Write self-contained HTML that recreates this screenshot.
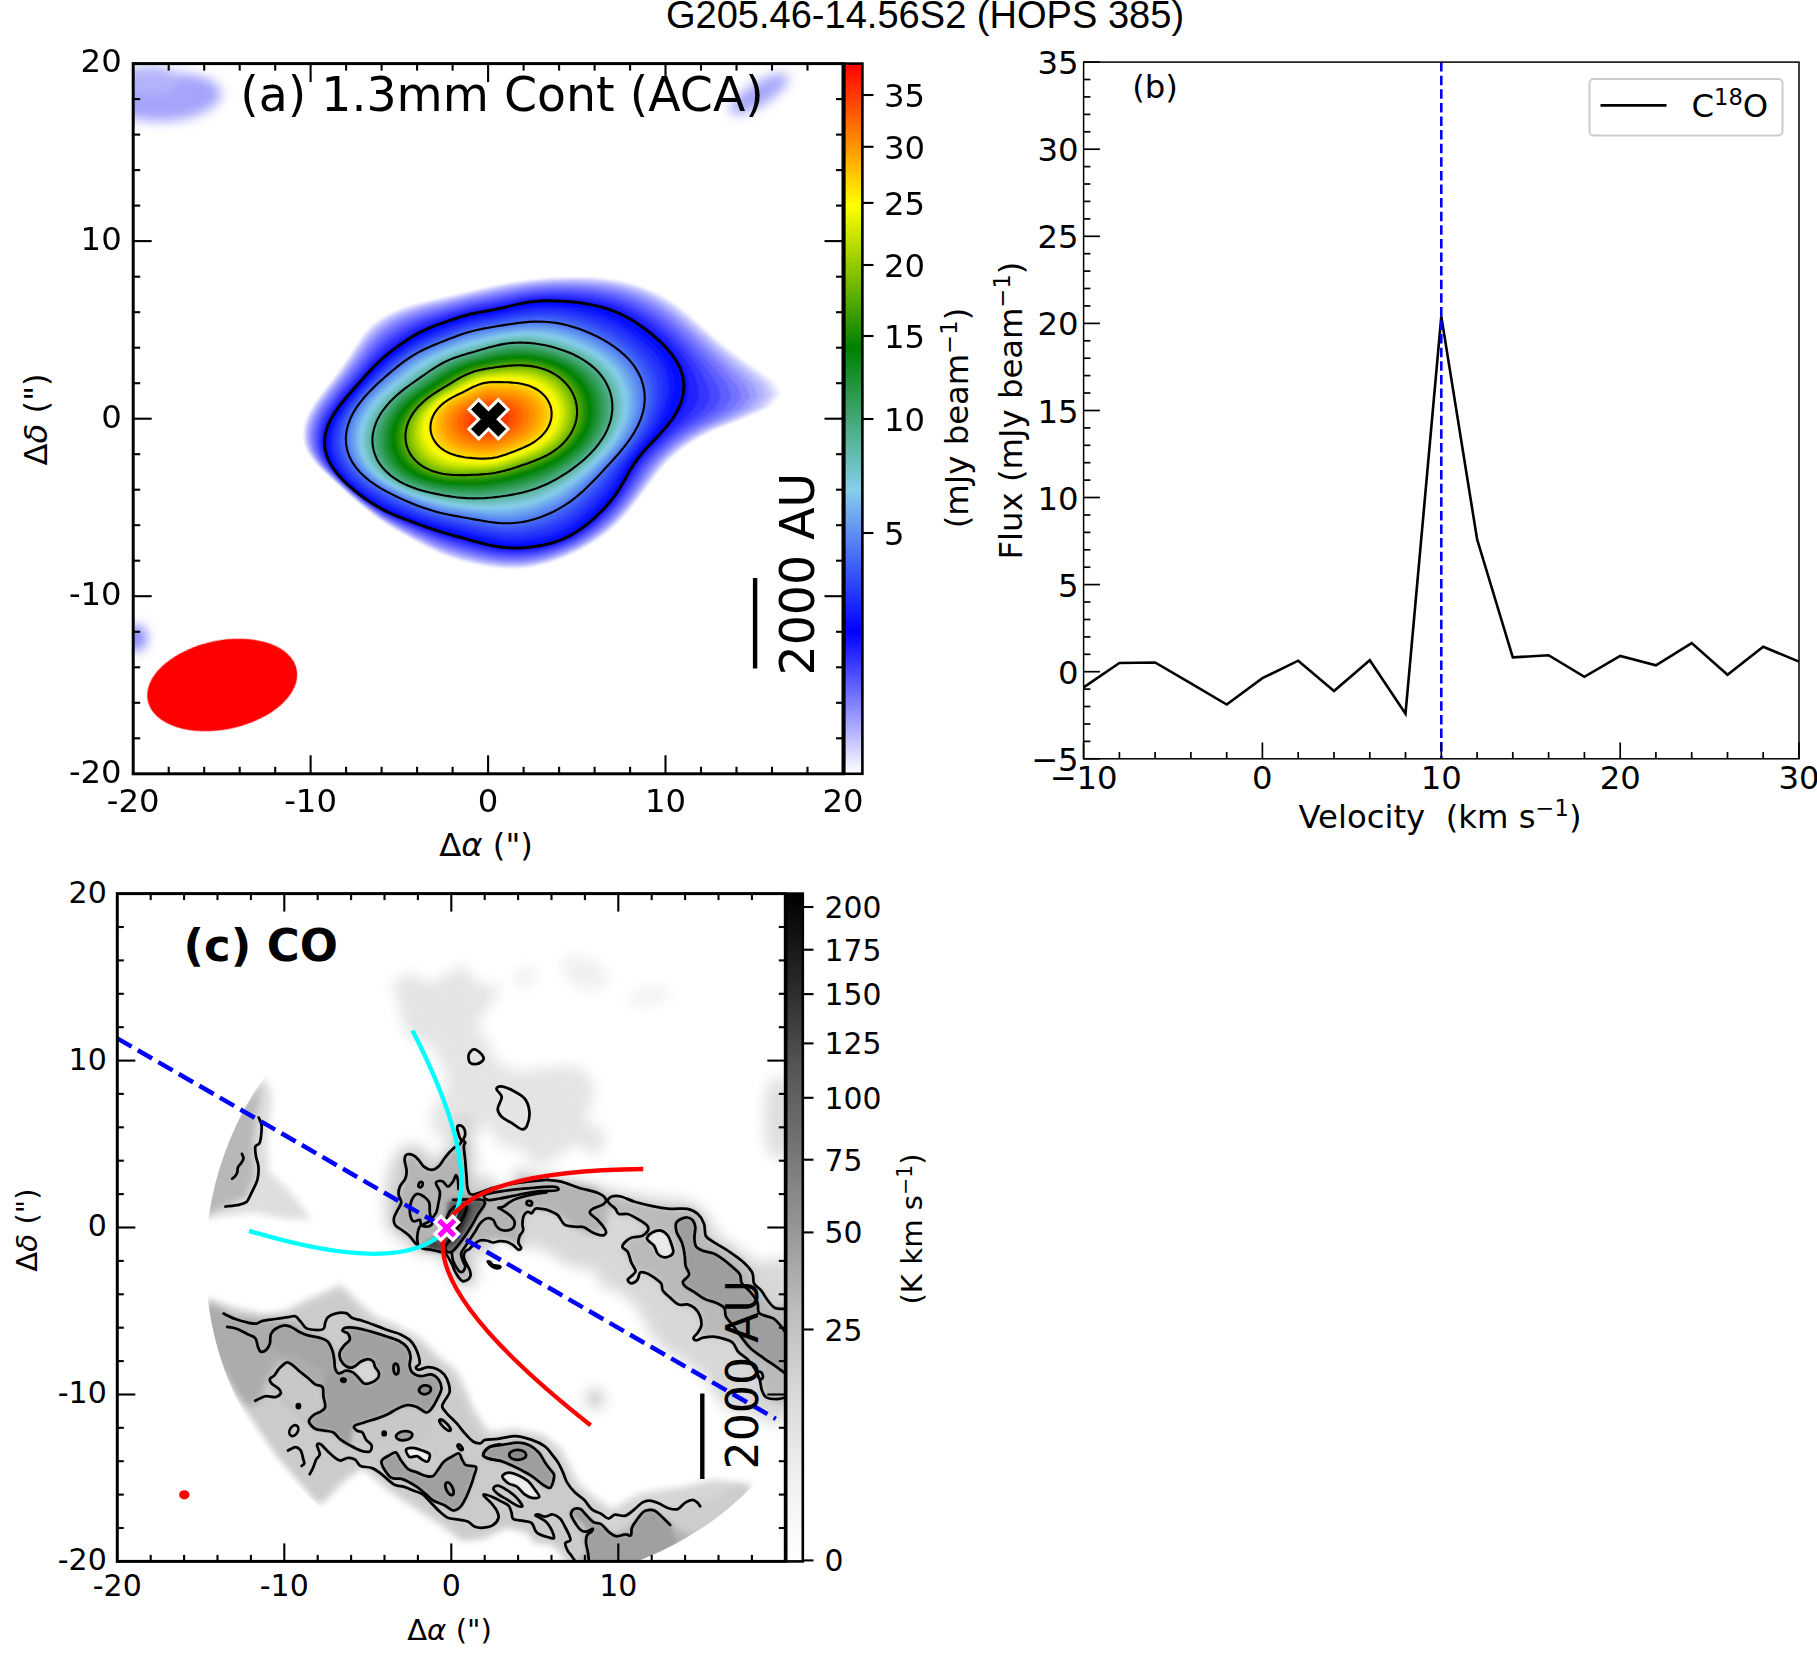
<!DOCTYPE html>
<html lang="en"><head><meta charset="utf-8"><title>G205.46-14.56S2 (HOPS 385)</title>
<style>html,body{margin:0;padding:0;background:#fff}svg{display:block}text{fill:#000}</style></head>
<body><svg width="1817" height="1653" viewBox="0 0 1817 1653">
<rect width="1817" height="1653" fill="#fff"/>
<text x="925" y="28.3" font-size="38.05" text-anchor="middle" font-family="'Liberation Sans', 'DejaVu Sans', sans-serif" >G205.46-14.56S2 (HOPS 385)</text>
<g id="panel_a"><g id="blobA" filter="url(#bla)">
<defs><filter id="bla" x="-5%" y="-5%" width="110%" height="110%"><feGaussianBlur stdDeviation="1.2"/></filter></defs>
<defs><filter id="blb" x="-30%" y="-30%" width="160%" height="160%"><feGaussianBlur stdDeviation="6"/></filter><clipPath id="clipA"><rect x="133.2" y="63.6" width="709.8" height="709.4"/></clipPath></defs>
<path d="M306.1 419.2L309.7 411.4L314.1 403.9L319 396.9L324.1 390.2L329.1 383.9L333.8 377.7L338.2 371.8L342.4 366L346.3 360.3L350 354.6L353.5 348.9L357.1 343.3L360.8 337.8L364.8 332.6L369.2 327.7L374.1 323.2L379.5 319.3L385.1 315.8L391 312.8L397 310.2L403.1 307.8L409.1 305.8L415.1 304L421.1 302.4L427 301L432.8 299.6L438.5 298.4L444.1 297.1L449.6 295.9L455.1 294.6L460.6 293.3L466.1 292L471.6 290.7L477.1 289.4L482.8 288.1L488.5 286.8L494.3 285.6L500.3 284.4L506.4 283.2L512.7 282.2L519.1 281.2L525.7 280.2L532.6 279.4L539.6 278.7L546.9 278.1L554.5 277.6L562.4 277.3L570.5 277.1L579 277.1L587.9 277.3L597 277.8L606.4 278.7L616 280.1L625.7 282L635.4 284.6L645 287.8L654.5 291.9L663.6 296.6L672.3 302.1L680.8 308.2L689 314.8L697.2 321.9L705.5 329.3L714.2 337.1L723.7 345L734.3 353.3L746.4 362L759.9 371.3L773.8 381.6L781.1 393.6L770.1 406.9L742.5 419.2L716.2 429.1L699 437.6L687 445.3L677.5 452.5L669.7 459.4L663.3 466.1L658 472.6L653.1 479.1L648.4 485.4L643.8 491.6L639.2 497.7L634.7 503.6L630 509.4L625.3 515L620.3 520.3L615.1 525.4L609.7 530.2L604 534.7L598.2 538.9L592.2 542.8L586.1 546.4L579.9 549.8L573.7 552.9L567.3 555.7L561 558.4L554.5 560.8L548 562.9L541.5 564.8L534.9 566.3L528.2 567.4L521.5 568.1L514.8 568.4L508.1 568.4L501.5 568.1L495 567.5L488.5 566.6L482.1 565.5L475.8 564.3L469.6 562.9L463.4 561.3L457.4 559.6L451.4 557.7L445.5 555.5L439.7 553.2L434.1 550.6L428.5 547.9L423 545L417.5 542.1L412.1 539.1L406.6 536.1L401.2 533L395.7 529.8L390.3 526.4L384.8 522.9L379.5 519.1L374.2 515.1L368.9 511L363.6 506.7L358.3 502.2L352.9 497.5L347.4 492.6L341.8 487.6L336 482.4L330 476.9L323.7 471.1L317.5 465L311.8 458.4L307.3 451.2L304.3 443.4L303.2 435.4L303.9 427.3Z" fill="#f0f0ff"/>
<path d="M307.2 419.2L310.7 411.4L315.1 404L320.1 397L325.1 390.4L330.1 384.1L334.8 378L339.2 372.1L343.4 366.4L347.3 360.7L351 355.1L354.6 349.5L358.2 344L361.9 338.6L365.9 333.4L370.3 328.5L375.2 324.1L380.5 320.2L386.1 316.8L391.9 313.8L397.8 311.2L403.8 308.8L409.8 306.8L415.8 305L421.6 303.4L427.5 302L433.2 300.6L438.9 299.3L444.4 298.1L449.9 296.8L455.4 295.5L460.8 294.2L466.2 292.9L471.7 291.6L477.2 290.3L482.8 289L488.5 287.8L494.3 286.6L500.2 285.4L506.3 284.3L512.5 283.2L518.9 282.2L525.5 281.2L532.3 280.4L539.3 279.7L546.5 279.1L554.1 278.6L561.9 278.3L570 278.1L578.4 278.1L587.2 278.3L596.2 278.8L605.5 279.7L615 281.1L624.7 283L634.3 285.6L643.8 288.9L653.2 292.9L662.2 297.6L670.9 303L679.3 309.1L687.4 315.6L695.5 322.7L703.7 330L712.4 337.7L721.7 345.7L732 353.9L743.7 362.6L756.7 371.9L770 382.1L776.9 394L766.2 407.1L739.5 419.2L714.1 429L697.4 437.5L685.6 445.1L676.2 452.3L668.6 459.1L662.3 465.8L656.9 472.3L652.1 478.7L647.5 485.1L642.9 491.2L638.4 497.2L633.9 503.1L629.3 508.9L624.6 514.5L619.6 519.8L614.5 524.9L609.1 529.7L603.5 534.2L597.7 538.3L591.7 542.2L585.7 545.8L579.5 549.2L573.3 552.3L567 555.1L560.6 557.7L554.2 560.1L547.7 562.2L541.2 564L534.6 565.5L528 566.5L521.3 567.2L514.7 567.5L508 567.5L501.4 567.2L494.9 566.6L488.5 565.7L482.2 564.6L475.9 563.3L469.7 561.9L463.6 560.4L457.6 558.7L451.6 556.8L445.8 554.7L440 552.4L434.4 549.8L428.8 547.2L423.3 544.4L417.9 541.5L412.5 538.5L407 535.6L401.6 532.5L396.1 529.3L390.6 526L385.2 522.5L379.8 518.8L374.5 514.9L369.2 510.8L363.9 506.5L358.5 502L353.2 497.3L347.7 492.5L342 487.5L336.3 482.3L330.3 476.8L324.1 471L318 464.9L312.5 458.2L308 451L305.2 443.3L304.1 435.3L304.9 427.2Z" fill="#dbdbff"/>
<path d="M308.4 419.2L312 411.5L316.4 404.1L321.3 397.2L326.4 390.6L331.3 384.4L336 378.3L340.4 372.5L344.6 366.8L348.5 361.2L352.3 355.7L355.9 350.2L359.5 344.7L363.2 339.4L367.3 334.3L371.7 329.6L376.5 325.2L381.7 321.4L387.3 318L393 315L398.8 312.4L404.7 310L410.6 308L416.5 306.2L422.3 304.6L428.1 303.1L433.7 301.8L439.3 300.5L444.8 299.2L450.3 297.9L455.7 296.7L461 295.4L466.4 294.1L471.9 292.8L477.3 291.5L482.9 290.2L488.5 289L494.2 287.8L500.1 286.6L506.1 285.5L512.3 284.4L518.6 283.4L525.1 282.4L531.9 281.6L538.9 280.8L546.1 280.2L553.5 279.8L561.2 279.5L569.3 279.3L577.6 279.3L586.3 279.5L595.3 280.1L604.5 281L613.9 282.4L623.4 284.3L632.9 286.9L642.4 290.1L651.6 294L660.5 298.7L669.1 304.1L677.4 310.1L685.5 316.6L693.6 323.6L701.7 330.9L710.2 338.5L719.3 346.4L729.3 354.7L740.5 363.3L752.9 372.6L765.4 382.7L771.9 394.4L761.5 407.3L735.9 419.2L711.6 428.9L695.4 437.3L683.9 444.9L674.7 452L667.2 458.8L660.9 465.4L655.7 471.9L650.9 478.3L646.4 484.6L641.9 490.7L637.5 496.7L633 502.6L628.4 508.3L623.7 513.9L618.8 519.2L613.7 524.3L608.3 529L602.8 533.5L597 537.6L591.1 541.5L585.1 545.1L579 548.5L572.8 551.5L566.5 554.4L560.2 556.9L553.8 559.3L547.4 561.3L540.9 563.1L534.3 564.5L527.7 565.5L521.1 566.2L514.5 566.5L507.9 566.5L501.4 566.1L494.9 565.5L488.5 564.6L482.2 563.5L476 562.2L469.9 560.8L463.8 559.3L457.8 557.6L451.9 555.7L446.1 553.7L440.4 551.4L434.8 548.9L429.2 546.3L423.8 543.5L418.3 540.7L412.9 537.8L407.5 534.9L402 531.9L396.5 528.8L391.1 525.5L385.6 522.1L380.2 518.4L374.9 514.6L369.5 510.5L364.2 506.2L358.9 501.8L353.5 497.2L348 492.4L342.4 487.3L336.6 482.1L330.7 476.6L324.6 470.9L318.6 464.7L313.2 458.1L308.9 450.9L306.2 443.2L305.3 435.2L306.1 427.2Z" fill="#c6c6ff"/>
<path d="M310 419.2L313.6 411.6L318 404.3L322.9 397.4L327.9 390.9L332.8 384.7L337.5 378.7L341.9 373L346.1 367.4L350 361.8L353.8 356.4L357.4 351L361.1 345.6L364.9 340.4L368.9 335.5L373.3 330.8L378.1 326.6L383.3 322.8L388.7 319.4L394.3 316.4L400.1 313.8L405.9 311.5L411.7 309.5L417.4 307.7L423.2 306L428.8 304.6L434.4 303.2L439.9 301.9L445.3 300.6L450.7 299.3L456 298L461.3 296.7L466.7 295.4L472 294.2L477.5 292.9L482.9 291.7L488.5 290.5L494.2 289.3L500 288.2L505.9 287L512 285.9L518.3 284.9L524.8 283.9L531.4 283L538.3 282.3L545.5 281.7L552.8 281.2L560.5 280.9L568.4 280.8L576.7 280.8L585.2 281.1L594.1 281.6L603.2 282.5L612.5 283.9L621.8 285.9L631.2 288.4L640.6 291.6L649.7 295.5L658.5 300.2L667 305.5L675.2 311.4L683.2 317.8L691.1 324.7L699.2 331.9L707.5 339.5L716.3 347.4L725.9 355.6L736.5 364.2L748.2 373.4L759.8 383.5L765.7 395L755.7 407.5L731.6 419.2L708.4 428.8L692.9 437.1L681.8 444.6L672.8 451.7L665.4 458.4L659.3 465L654.1 471.4L649.5 477.8L645 484L640.6 490.1L636.3 496.1L631.9 502L627.4 507.7L622.7 513.2L617.8 518.5L612.8 523.5L607.5 528.2L601.9 532.6L596.3 536.8L590.4 540.7L584.5 544.3L578.4 547.6L572.2 550.6L566 553.4L559.7 556L553.3 558.2L546.9 560.2L540.5 561.9L533.9 563.3L527.4 564.3L520.8 565L514.3 565.2L507.7 565.2L501.2 564.8L494.8 564.1L488.5 563.2L482.3 562.1L476.1 560.8L470 559.4L464 557.9L458.1 556.2L452.3 554.4L446.5 552.4L440.8 550.2L435.2 547.8L429.7 545.2L424.3 542.5L418.9 539.8L413.5 537L408 534.1L402.6 531.2L397.1 528.1L391.6 524.9L386.1 521.6L380.7 518L375.3 514.2L370 510.1L364.6 505.9L359.3 501.5L353.8 496.9L348.3 492.2L342.7 487.2L337 482L331.1 476.5L325.2 470.7L319.4 464.5L314.1 457.9L310 450.7L307.5 443L306.6 435.1L307.5 427.1Z" fill="#b2b2ff"/>
<path d="M311.8 419.2L315.4 411.6L319.8 404.4L324.7 397.6L329.7 391.2L334.6 385.1L339.3 379.2L343.7 373.5L347.8 368L351.8 362.6L355.6 357.2L359.3 351.9L363 346.7L366.8 341.7L370.9 336.8L375.2 332.3L380 328.2L385.1 324.4L390.4 321.1L395.9 318.2L401.5 315.6L407.2 313.3L412.9 311.2L418.5 309.4L424.2 307.8L429.7 306.3L435.2 304.9L440.6 303.6L445.9 302.3L451.2 301L456.5 299.7L461.7 298.4L467 297.1L472.3 295.8L477.6 294.6L483 293.4L488.5 292.2L494.1 291.1L499.8 289.9L505.7 288.8L511.7 287.7L517.9 286.6L524.3 285.6L530.9 284.7L537.7 284L544.8 283.4L552 282.9L559.6 282.6L567.4 282.5L575.5 282.6L584 282.9L592.7 283.4L601.6 284.4L610.8 285.8L620 287.7L629.3 290.2L638.5 293.4L647.4 297.3L656.1 301.8L664.5 307.1L672.6 312.9L680.5 319.3L688.3 326L696.2 333.2L704.3 340.7L712.8 348.5L721.9 356.7L731.9 365.2L742.6 374.4L753.2 384.4L758.3 395.6L748.9 407.8L726.4 419.2L704.8 428.6L690.1 436.8L679.3 444.3L670.6 451.3L663.4 458L657.4 464.5L652.4 470.9L647.8 477.2L643.4 483.4L639.1 489.4L634.9 495.4L630.5 501.2L626.1 506.9L621.5 512.3L616.7 517.6L611.7 522.5L606.4 527.2L601 531.7L595.3 535.8L589.6 539.7L583.7 543.2L577.7 546.6L571.6 549.6L565.4 552.3L559.1 554.8L552.8 557L546.4 559L540 560.6L533.5 561.9L527 562.9L520.5 563.5L514 563.7L507.5 563.7L501.1 563.3L494.8 562.6L488.5 561.6L482.3 560.5L476.3 559.2L470.3 557.8L464.3 556.3L458.5 554.6L452.7 552.8L447 550.9L441.4 548.7L435.8 546.4L430.3 543.9L424.9 541.3L419.5 538.7L414.1 535.9L408.7 533.2L403.2 530.3L397.7 527.4L392.2 524.2L386.8 520.9L381.3 517.4L375.9 513.7L370.5 509.8L365.1 505.6L359.7 501.2L354.3 496.7L348.8 491.9L343.2 487L337.5 481.7L331.7 476.3L325.9 470.5L320.2 464.3L315.2 457.6L311.3 450.4L308.9 442.8L308.3 435L309.3 427Z" fill="#9d9dff"/>
<path d="M313.8 419.2L317.4 411.7L321.9 404.6L326.7 397.9L331.7 391.6L336.6 385.5L341.2 379.7L345.6 374.1L349.8 368.7L353.7 363.4L357.5 358.1L361.3 353L365 347.9L368.9 343L373 338.3L377.4 333.9L382.1 329.9L387.1 326.3L392.3 323L397.7 320.1L403.2 317.5L408.7 315.2L414.2 313.1L419.8 311.3L425.2 309.6L430.7 308.1L436.1 306.7L441.4 305.4L446.6 304.1L451.8 302.8L456.9 301.4L462.1 300.1L467.3 298.9L472.5 297.7L477.8 296.5L483.1 295.3L488.5 294.2L494 293L499.6 291.9L505.4 290.8L511.3 289.7L517.5 288.6L523.8 287.5L530.3 286.6L537 285.8L544 285.2L551.2 284.8L558.6 284.5L566.3 284.4L574.3 284.5L582.6 284.9L591.1 285.4L599.9 286.4L608.9 287.8L618 289.7L627.1 292.2L636.1 295.3L644.9 299.2L653.5 303.7L661.7 308.9L669.7 314.6L677.5 320.8L685.2 327.5L692.9 334.5L700.7 342L708.9 349.7L717.5 357.8L726.7 366.4L736.5 375.5L745.9 385.3L750.3 396.3L741.4 408.2L720.7 419.2L700.7 428.5L686.9 436.6L676.6 444L668.2 450.9L661.2 457.5L655.3 463.9L650.4 470.2L645.9 476.5L641.7 482.6L637.5 488.7L633.3 494.6L629.1 500.4L624.7 506L620.1 511.4L615.4 516.6L610.4 521.5L605.2 526.2L599.9 530.6L594.3 534.7L588.6 538.6L582.8 542.1L576.9 545.4L570.8 548.4L564.7 551.1L558.4 553.5L552.1 555.7L545.8 557.6L539.4 559.1L533 560.4L526.6 561.3L520.1 561.9L513.7 562.1L507.3 562L501 561.6L494.7 560.8L488.5 559.9L482.4 558.7L476.4 557.4L470.5 556L464.6 554.5L458.9 552.9L453.2 551.1L447.5 549.2L441.9 547.2L436.4 544.9L431 542.5L425.6 540L420.2 537.5L414.8 534.8L409.4 532.1L404 529.4L398.5 526.5L392.9 523.5L387.4 520.3L381.9 516.8L376.5 513.2L371.1 509.3L365.6 505.2L360.2 500.9L354.8 496.4L349.3 491.7L343.7 486.7L338 481.5L332.3 476L326.6 470.2L321.2 464L316.4 457.4L312.7 450.2L310.6 442.6L310.1 434.8L311.2 426.9Z" fill="#8888ff"/>
<path d="M315.9 419.2L319.6 411.8L324.1 404.8L328.9 398.2L333.9 391.9L338.7 386L343.3 380.3L347.7 374.8L351.9 369.5L355.8 364.3L359.7 359.1L363.5 354.1L367.3 349.2L371.2 344.5L375.3 339.9L379.7 335.7L384.3 331.8L389.2 328.2L394.3 325L399.6 322.2L404.9 319.6L410.3 317.3L415.7 315.2L421.1 313.4L426.4 311.7L431.7 310.2L437 308.7L442.2 307.4L447.3 306L452.4 304.7L457.5 303.4L462.5 302.1L467.6 300.8L472.8 299.6L477.9 298.5L483.2 297.4L488.5 296.3L493.9 295.2L499.4 294.1L505.1 292.9L511 291.8L517 290.7L523.2 289.6L529.7 288.7L536.3 287.9L543.2 287.3L550.2 286.8L557.5 286.6L565.1 286.5L572.9 286.7L581.1 287L589.5 287.6L598.1 288.6L606.9 290L615.8 291.9L624.8 294.3L633.6 297.5L642.2 301.2L650.6 305.7L658.7 310.8L666.6 316.4L674.2 322.5L681.8 329.1L689.3 336L696.9 343.3L704.7 351L712.8 359.1L721.2 367.6L729.8 376.6L737.9 386.4L741.5 397.1L733.3 408.5L714.6 419.2L696.3 428.3L683.4 436.3L673.7 443.6L665.6 450.4L658.8 456.9L653.1 463.3L648.2 469.6L643.9 475.7L639.8 481.9L635.7 487.8L631.6 493.7L627.5 499.4L623.2 505L618.7 510.4L614 515.5L609.1 520.4L604 525L598.7 529.4L593.2 533.5L587.6 537.3L581.9 540.9L576 544.2L570 547.1L563.9 549.8L557.7 552.2L551.5 554.3L545.2 556.1L538.9 557.6L532.5 558.7L526.1 559.6L519.7 560.1L513.4 560.3L507.1 560.2L500.8 559.7L494.6 559L488.5 558L482.5 556.8L476.6 555.5L470.7 554.1L465 552.6L459.3 551L453.6 549.3L448.1 547.4L442.6 545.4L437.1 543.3L431.7 541L426.3 538.6L421 536.1L415.6 533.6L410.2 531L404.8 528.3L399.2 525.6L393.7 522.6L388.2 519.5L382.6 516.2L377.1 512.6L371.7 508.8L366.2 504.8L360.8 500.6L355.3 496.1L349.8 491.4L344.2 486.5L338.6 481.3L333 475.8L327.5 470L322.2 463.8L317.7 457.1L314.3 449.9L312.3 442.4L312 434.6L313.3 426.9Z" fill="#7373ff"/>
<path d="M318.4 419.2L322.2 411.9L326.6 405L331.4 398.5L336.4 392.4L341.2 386.5L345.8 381L350.1 375.6L354.3 370.3L358.3 365.3L362.2 360.3L366 355.4L369.9 350.7L373.8 346.2L378 341.8L382.3 337.7L386.9 334L391.7 330.5L396.7 327.4L401.7 324.5L406.9 322L412.1 319.7L417.3 317.6L422.6 315.7L427.8 314L433 312.5L438.1 311.1L443.1 309.7L448.1 308.3L453.1 306.9L458.1 305.6L463 304.3L468 303.1L473.1 301.9L478.1 300.8L483.3 299.7L488.5 298.7L493.8 297.6L499.2 296.5L504.8 295.4L510.5 294.2L516.5 293.1L522.6 292L528.9 291L535.5 290.2L542.2 289.6L549.1 289.2L556.3 289L563.7 288.9L571.4 289.1L579.3 289.5L587.5 290.1L596 291.1L604.6 292.5L613.3 294.4L622 296.8L630.7 299.9L639.1 303.6L647.3 308L655.2 313L662.9 318.5L670.5 324.5L677.9 330.9L685.2 337.7L692.5 344.9L699.9 352.6L707.3 360.6L714.7 369L722.2 378L728.8 387.6L731.4 397.9L723.9 408.9L707.5 419.2L691.3 428.1L679.5 435.9L670.3 443.1L662.5 449.9L656 456.3L650.5 462.6L645.7 468.8L641.5 474.9L637.6 480.9L633.6 486.9L629.7 492.7L625.6 498.4L621.4 503.9L617 509.2L612.4 514.3L607.6 519.1L602.5 523.7L597.3 528L592 532.1L586.5 536L580.8 539.5L575 542.7L569.1 545.7L563 548.3L556.9 550.6L550.7 552.6L544.5 554.3L538.2 555.7L531.9 556.8L525.6 557.6L519.3 558.1L513 558.3L506.8 558.1L500.6 557.6L494.5 556.8L488.5 555.8L482.6 554.6L476.8 553.3L471 551.8L465.4 550.3L459.8 548.8L454.2 547.1L448.7 545.4L443.3 543.5L437.9 541.4L432.5 539.3L427.2 537L421.9 534.6L416.5 532.2L411.1 529.7L405.7 527.2L400.1 524.5L394.6 521.7L389 518.7L383.4 515.5L377.9 512L372.4 508.3L366.9 504.4L361.4 500.2L355.9 495.8L350.4 491.1L344.8 486.2L339.3 481L333.8 475.5L328.4 469.7L323.4 463.4L319.2 456.7L316 449.6L314.4 442.1L314.3 434.4L315.7 426.7Z" fill="#5f5fff"/>
<path d="M321.1 419.2L324.9 412.1L329.3 405.3L334.2 398.9L339 392.8L343.8 387.1L348.4 381.7L352.7 376.4L356.9 371.3L360.9 366.3L364.8 361.5L368.7 356.8L372.6 352.3L376.7 348L380.8 343.8L385.2 339.9L389.7 336.3L394.4 333L399.2 329.9L404.1 327.1L409.1 324.5L414.1 322.2L419.1 320.1L424.2 318.3L429.2 316.6L434.3 315L439.2 313.5L444.1 312.1L449 310.7L453.9 309.3L458.7 308L463.6 306.7L468.4 305.5L473.4 304.4L478.4 303.3L483.4 302.3L488.5 301.3L493.7 300.2L499 299.2L504.5 298L510.1 296.8L515.9 295.7L521.9 294.5L528.1 293.5L534.5 292.7L541.2 292.1L548 291.7L555 291.5L562.2 291.5L569.7 291.7L577.5 292.1L585.5 292.8L593.7 293.8L602.1 295.2L610.6 297.1L619.1 299.5L627.6 302.5L635.8 306.2L643.8 310.5L651.5 315.3L659.1 320.7L666.4 326.6L673.7 332.8L680.8 339.5L687.8 346.7L694.7 354.2L701.4 362.2L707.9 370.6L714 379.4L719.1 388.8L720.6 398.9L713.9 409.4L699.9 419.2L685.9 427.8L675.2 435.5L666.7 442.7L659.3 449.3L653 455.7L647.7 461.8L643.1 467.9L639 474L635.2 480L631.4 485.9L627.6 491.6L623.7 497.3L619.6 502.7L615.2 507.9L610.7 512.9L605.9 517.7L601 522.3L595.9 526.6L590.6 530.7L585.2 534.5L579.7 538L573.9 541.2L568.1 544.1L562.1 546.7L556 548.9L549.9 550.8L543.7 552.4L537.5 553.8L531.3 554.8L525 555.5L518.8 555.9L512.6 556L506.5 555.8L500.4 555.3L494.4 554.5L488.5 553.4L482.7 552.2L477 550.9L471.4 549.4L465.8 548L460.3 546.4L454.8 544.8L449.4 543.2L444 541.4L438.7 539.4L433.4 537.4L428.1 535.2L422.8 533L417.5 530.7L412.1 528.3L406.6 525.9L401.1 523.3L395.5 520.7L389.9 517.8L384.3 514.7L378.7 511.3L373.1 507.7L367.6 503.9L362.1 499.7L356.6 495.4L351 490.8L345.5 485.9L340 480.7L334.6 475.2L329.4 469.4L324.7 463.1L320.7 456.4L317.9 449.3L316.6 441.8L316.7 434.2L318.2 426.6Z" fill="#4a4aff"/>
<path d="M323.7 419.2L327.6 412.2L332.1 405.5L336.9 399.2L341.7 393.3L346.5 387.7L351 382.4L355.3 377.2L359.5 372.2L363.5 367.4L367.4 362.8L371.4 358.2L375.4 353.9L379.5 349.8L383.7 345.8L388 342.1L392.5 338.6L397.1 335.4L401.7 332.4L406.4 329.6L411.2 327.1L416.1 324.8L420.9 322.7L425.8 320.8L430.7 319.1L435.6 317.5L440.4 316L445.2 314.6L449.9 313.1L454.6 311.8L459.3 310.4L464.1 309.1L468.9 307.9L473.7 306.8L478.6 305.8L483.5 304.8L488.5 303.9L493.6 302.9L498.8 301.8L504.1 300.7L509.6 299.5L515.3 298.3L521.2 297.1L527.3 296.1L533.6 295.2L540.1 294.6L546.8 294.2L553.7 294L560.7 294.1L568 294.3L575.6 294.8L583.4 295.5L591.5 296.5L599.7 297.9L607.9 299.8L616.2 302.2L624.4 305.1L632.4 308.7L640.2 312.9L647.8 317.7L655.2 323L662.4 328.7L669.5 334.8L676.4 341.4L683.1 348.4L689.5 355.8L695.5 363.7L701 372.1L705.7 380.9L709.3 390.1L709.7 399.8L703.8 409.8L692.2 419.2L680.5 427.6L671 435.2L663 442.2L656 448.7L650 455L644.8 461.1L640.4 467.1L636.5 473.1L632.8 479L629.2 484.8L625.6 490.6L621.7 496.1L617.7 501.5L613.4 506.7L608.9 511.6L604.3 516.3L599.4 520.8L594.4 525.1L589.3 529.2L584 533L578.5 536.5L572.9 539.7L567.1 542.5L561.2 545L555.1 547.2L549 549L542.9 550.6L536.8 551.8L530.6 552.8L524.5 553.4L518.3 553.8L512.2 553.8L506.2 553.6L500.2 553L494.3 552.2L488.5 551.1L482.8 549.8L477.2 548.5L471.7 547L466.2 545.6L460.8 544.1L455.5 542.5L450.1 540.9L444.8 539.2L439.5 537.4L434.3 535.5L429 533.5L423.8 531.3L418.4 529.2L413.1 526.9L407.6 524.6L402.1 522.2L396.5 519.6L390.8 516.9L385.2 513.9L379.5 510.7L373.9 507.1L368.3 503.4L362.8 499.3L357.2 495L351.7 490.4L346.2 485.6L340.7 480.4L335.4 474.9L330.4 469L326 462.8L322.3 456L319.8 448.9L318.7 441.5L319.1 434L320.8 426.5Z" fill="#3535ff"/>
<path d="M326.5 419.2L330.4 412.3L334.9 405.8L339.7 399.6L344.5 393.8L349.2 388.3L353.7 383.1L358 378.1L362.2 373.2L366.2 368.5L370.2 364.1L374.3 359.7L378.4 355.6L382.5 351.7L386.8 348L391.1 344.5L395.5 341.2L399.9 338L404.4 335.1L408.9 332.4L413.5 329.8L418.1 327.5L422.8 325.4L427.5 323.5L432.2 321.8L436.9 320.1L441.6 318.6L446.2 317.1L450.8 315.7L455.4 314.2L460 312.9L464.6 311.6L469.3 310.4L474 309.3L478.8 308.4L483.6 307.4L488.5 306.5L493.5 305.6L498.5 304.5L503.7 303.4L509.1 302.2L514.7 300.9L520.5 299.7L526.5 298.6L532.7 297.7L539.1 297.1L545.6 296.7L552.3 296.6L559.2 296.7L566.4 297L573.7 297.5L581.3 298.2L589.2 299.2L597.2 300.6L605.2 302.5L613.3 304.8L621.3 307.8L629.1 311.3L636.7 315.4L644.1 320.1L651.3 325.2L658.3 330.8L665.2 336.8L671.9 343.2L678.3 350.1L684.2 357.5L689.4 365.4L693.7 373.7L696.9 382.5L698.5 391.5L697.7 400.9L692.6 410.3L683.9 419.2L674.7 427.3L666.5 434.8L659.2 441.7L652.6 448.1L646.9 454.3L642 460.3L637.7 466.2L634 472.1L630.5 478L627.1 483.8L623.5 489.5L619.8 495L615.9 500.4L611.7 505.5L607.3 510.4L602.7 515L597.9 519.5L593 523.7L588 527.8L582.8 531.6L577.4 535.1L571.9 538.3L566.1 541.1L560.3 543.5L554.3 545.6L548.3 547.3L542.2 548.8L536.1 549.9L530 550.8L523.9 551.4L517.9 551.7L511.9 551.7L505.9 551.4L500 550.8L494.2 549.9L488.5 548.8L482.9 547.5L477.4 546.1L472 544.6L466.6 543.2L461.3 541.7L456.1 540.2L450.8 538.7L445.6 537.1L440.4 535.4L435.1 533.6L429.9 531.7L424.7 529.7L419.4 527.7L414 525.6L408.6 523.4L403 521.1L397.4 518.7L391.7 516L386 513.2L380.3 510L374.6 506.6L369 502.9L363.4 498.9L357.8 494.7L352.3 490.1L346.7 485.3L341.3 480.2L336.2 474.6L331.3 468.7L327.2 462.4L323.8 455.7L321.7 448.6L320.9 441.3L321.5 433.8L323.4 426.4Z" fill="#2121ff"/>
<path d="M329.2 419.2L333.2 412.4L337.7 406L342.5 400L347.3 394.3L352 388.9L356.5 383.8L360.7 378.9L364.9 374.2L368.9 369.7L373 365.3L377.1 361.2L381.3 357.3L385.5 353.6L389.8 350.1L394.1 346.8L398.4 343.6L402.7 340.6L407 337.7L411.4 335L415.8 332.5L420.2 330.2L424.7 328.1L429.2 326.2L433.8 324.4L438.3 322.8L442.8 321.2L447.3 319.7L451.7 318.2L456.2 316.7L460.7 315.4L465.2 314.1L469.8 312.9L474.4 311.9L479 310.9L483.7 310.1L488.5 309.2L493.3 308.3L498.3 307.3L503.4 306.1L508.7 304.9L514.1 303.6L519.8 302.3L525.7 301.2L531.8 300.3L538 299.7L544.4 299.3L551 299.2L557.7 299.3L564.6 299.7L571.8 300.2L579.2 301L586.8 302L594.6 303.4L602.4 305.3L610.3 307.6L618 310.5L625.6 314L633 318L640.2 322.5L647.3 327.5L654.2 333L660.9 338.8L667.4 345.1L673.4 351.9L678.8 359.2L683.3 367L686.5 375.3L688.2 384L688.2 392.9L686.2 401.9L682 410.8L675.9 419.2L669 427.1L662.1 434.4L655.4 441.2L649.3 447.5L643.8 453.6L639 459.5L635 465.4L631.4 471.2L628 477L624.8 482.7L621.4 488.4L617.8 493.9L614 499.1L609.9 504.2L605.5 509L601 513.6L596.4 518L591.6 522.3L586.6 526.3L581.5 530.1L576.2 533.5L570.8 536.7L565.1 539.5L559.3 541.9L553.4 543.9L547.4 545.5L541.4 546.9L535.3 547.9L529.3 548.7L523.3 549.2L517.4 549.5L511.5 549.4L505.6 549.1L499.8 548.4L494.1 547.5L488.5 546.4L483 545L477.6 543.6L472.3 542.2L467.1 540.7L461.9 539.3L456.7 537.9L451.5 536.4L446.4 534.9L441.2 533.4L436.1 531.7L430.9 529.9L425.7 528L420.4 526.1L415 524.1L409.6 522.1L404 519.9L398.3 517.6L392.6 515.1L386.8 512.4L381.1 509.3L375.4 506L369.7 502.4L364.1 498.5L358.5 494.3L352.9 489.8L347.4 485L342.1 479.9L337 474.3L332.4 468.4L328.5 462.1L325.5 455.3L323.7 448.3L323.1 441L324 433.6L326.1 426.3Z" fill="#0c0cff"/>
<path d="M331.9 419.2L335.9 412.5L340.4 406.2L345.1 400.3L349.8 394.7L354.4 389.5L358.9 384.5L363.1 379.7L367.3 375.1L371.4 370.7L375.4 366.5L379.6 362.5L383.8 358.7L388 355.2L392.3 351.8L396.5 348.6L400.8 345.6L405 342.7L409.2 339.9L413.4 337.3L417.7 334.8L422 332.6L426.4 330.5L430.7 328.5L435.1 326.8L439.5 325.2L443.9 323.6L448.3 322.1L452.6 320.6L456.9 319.1L461.3 317.7L465.7 316.5L470.2 315.3L474.7 314.3L479.2 313.4L483.8 312.6L488.5 311.8L493.2 310.9L498.1 309.9L503 308.8L508.2 307.5L513.5 306.2L519.1 305L524.9 303.9L530.8 303L536.9 302.3L543.2 302L549.6 301.9L556.1 302.1L562.9 302.4L569.9 303L577 303.8L584.4 304.9L592 306.3L599.6 308.1L607.2 310.4L614.7 313.3L622.1 316.7L629.3 320.6L636.3 325L643.2 329.9L649.9 335.2L656.5 340.9L662.7 347L668.5 353.7L673.6 360.9L677.5 368.6L680.1 376.7L681.1 385.2L680.4 393.9L678.1 402.6L674.5 411.1L669.7 419.2L664.2 426.9L658.1 434L651.9 440.7L646.1 447L640.9 453L636.3 458.8L632.3 464.5L628.7 470.2L625.5 475.9L622.3 481.6L619 487.1L615.5 492.5L611.7 497.7L607.7 502.7L603.4 507.4L599 511.9L594.4 516.3L589.7 520.4L584.9 524.4L579.9 528.1L574.7 531.6L569.4 534.7L563.8 537.4L558.1 539.8L552.3 541.7L546.4 543.3L540.4 544.5L534.5 545.5L528.5 546.2L522.7 546.7L516.8 546.9L511 546.8L505.3 546.5L499.6 545.8L494 544.9L488.5 543.7L483.1 542.4L477.8 541L472.7 539.5L467.5 538.1L462.4 536.8L457.4 535.4L452.3 534L447.2 532.7L442.1 531.2L437 529.6L431.9 528L426.7 526.2L421.5 524.4L416.2 522.5L410.7 520.6L405.2 518.5L399.5 516.3L393.8 513.9L388 511.3L382.2 508.4L376.4 505.2L370.7 501.7L365 497.9L359.4 493.7L353.9 489.3L348.4 484.5L343.1 479.4L338.2 473.9L333.8 468L330.1 461.6L327.4 454.9L325.9 447.9L325.6 440.6L326.6 433.4L328.7 426.2Z" fill="#0507fe"/>
<path d="M334.6 419.2L338.4 412.6L342.8 406.5L347.4 400.6L352 395.1L356.6 390L361.1 385.1L365.3 380.4L369.5 375.9L373.6 371.6L377.7 367.5L381.8 363.6L386 360L390.2 356.6L394.4 353.3L398.6 350.2L402.8 347.3L407 344.5L411.1 341.8L415.3 339.3L419.4 336.9L423.7 334.7L427.9 332.7L432.2 330.8L436.5 329.1L440.7 327.4L445 325.9L449.2 324.3L453.4 322.9L457.7 321.4L461.9 320L466.2 318.8L470.6 317.6L475 316.7L479.5 315.8L483.9 315L488.5 314.2L493.1 313.3L497.8 312.4L502.7 311.3L507.7 310.1L512.9 308.9L518.4 307.7L524 306.6L529.8 305.8L535.7 305.1L541.9 304.8L548.1 304.7L554.5 304.9L561.1 305.3L567.8 305.9L574.8 306.7L582 307.8L589.2 309.3L596.6 311.1L603.9 313.4L611.2 316.2L618.4 319.6L625.4 323.4L632.2 327.6L638.9 332.4L645.5 337.5L651.9 343L657.9 349L663.4 355.5L668.2 362.6L671.8 370.1L674.1 378.1L674.8 386.4L673.9 394.8L671.7 403.2L668.5 411.3L664.5 419.2L659.8 426.7L654.3 433.7L648.6 440.3L643.1 446.5L638.1 452.4L633.5 458.1L629.6 463.7L626 469.3L622.7 474.8L619.5 480.3L616.2 485.7L612.7 490.9L609 496L605 500.8L600.8 505.4L596.5 509.8L592 514.1L587.4 518.1L582.7 522L577.8 525.7L572.8 529L567.5 532.1L562.1 534.7L556.5 537L550.8 538.9L545 540.4L539.2 541.6L533.4 542.6L527.6 543.3L521.9 543.7L516.1 543.9L510.5 543.8L504.9 543.5L499.3 542.8L493.9 541.9L488.5 540.8L483.2 539.5L478.1 538.1L473 536.7L468 535.4L463 534.1L458.1 532.8L453.1 531.5L448.1 530.2L443.1 528.9L438 527.4L433 525.9L427.9 524.2L422.7 522.5L417.4 520.7L412.1 518.8L406.6 516.8L401 514.7L395.3 512.4L389.5 509.9L383.8 507.1L378 504L372.3 500.6L366.6 496.8L361 492.8L355.4 488.5L350 483.8L344.8 478.7L339.9 473.3L335.7 467.4L332.3 461.1L329.8 454.4L328.4 447.4L328.3 440.3L329.3 433.1L331.5 426.1Z" fill="#1018fd"/>
<path d="M337.2 419.2L340.9 412.8L345.1 406.7L349.6 400.9L354.1 395.5L358.7 390.4L363.1 385.6L367.4 381L371.5 376.6L375.6 372.4L379.7 368.5L383.8 364.7L388 361.2L392.1 357.8L396.3 354.7L400.5 351.7L404.6 348.8L408.7 346.1L412.8 343.5L416.9 341.1L421.1 338.8L425.2 336.7L429.4 334.7L433.5 332.9L437.7 331.2L441.9 329.6L446 328.1L450.1 326.6L454.2 325.1L458.4 323.7L462.5 322.3L466.7 321.1L471 319.9L475.3 319L479.7 318.1L484.1 317.3L488.5 316.6L493 315.7L497.6 314.9L502.4 313.8L507.3 312.8L512.4 311.6L517.6 310.5L523.1 309.5L528.7 308.6L534.5 308L540.5 307.7L546.6 307.6L552.8 307.8L559.2 308.2L565.8 308.8L572.5 309.7L579.4 310.9L586.4 312.3L593.5 314.2L600.6 316.5L607.6 319.3L614.5 322.5L621.3 326.2L628 330.3L634.5 334.9L640.9 339.9L647.1 345.2L652.9 351.1L658.2 357.4L662.7 364.3L666.1 371.6L668.2 379.4L668.8 387.4L668 395.6L666 403.7L663.2 411.6L659.8 419.2L655.7 426.5L650.7 433.4L645.4 439.9L640.2 446L635.3 451.8L630.9 457.4L626.9 462.8L623.2 468.2L619.8 473.6L616.5 478.9L613.2 484.1L609.7 489.2L605.9 494L602 498.7L597.9 503.1L593.6 507.4L589.2 511.5L584.7 515.4L580.1 519.2L575.3 522.7L570.4 525.9L565.3 528.9L560 531.5L554.6 533.7L549.1 535.5L543.5 537.1L537.8 538.3L532.2 539.2L526.6 539.9L521 540.4L515.4 540.6L509.9 540.5L504.4 540.2L499 539.6L493.7 538.7L488.5 537.6L483.4 536.4L478.4 535.1L473.4 533.8L468.5 532.5L463.6 531.3L458.8 530.1L453.9 528.9L449 527.7L444.1 526.4L439.1 525.1L434.1 523.6L429.1 522.1L424 520.4L418.8 518.7L413.6 516.9L408.2 514.9L402.7 512.8L397.1 510.6L391.4 508.1L385.7 505.4L380 502.4L374.3 499.1L368.7 495.5L363.1 491.6L357.5 487.4L352.1 482.8L347 477.8L342.2 472.4L338.1 466.6L334.8 460.4L332.5 453.8L331.2 446.9L331.1 439.9L332.1 432.9L334.2 425.9Z" fill="#1b29fb"/>
<path d="M339.7 419.2L343.3 412.9L347.3 406.8L351.7 401.2L356.1 395.9L360.6 390.8L365 386.1L369.3 381.6L373.5 377.3L377.6 373.3L381.7 369.4L385.8 365.7L389.9 362.3L394 359L398.1 355.9L402.2 353L406.3 350.2L410.4 347.6L414.4 345.1L418.5 342.8L422.6 340.6L426.7 338.6L430.8 336.7L434.9 335L438.9 333.3L443 331.8L447 330.2L451 328.7L455 327.3L459.1 325.9L463.1 324.5L467.2 323.3L471.4 322.2L475.6 321.3L479.9 320.4L484.2 319.6L488.5 318.9L492.9 318.1L497.4 317.3L502 316.3L506.8 315.3L511.8 314.3L516.9 313.3L522.2 312.3L527.7 311.5L533.3 311L539.1 310.6L545.1 310.6L551.1 310.7L557.3 311.1L563.7 311.8L570.2 312.7L576.8 313.9L583.6 315.5L590.3 317.4L597.1 319.7L603.9 322.4L610.6 325.5L617.2 329.1L623.7 333.1L630.1 337.5L636.3 342.3L642.3 347.5L647.9 353.2L653 359.3L657.3 366L660.5 373.1L662.5 380.6L663.2 388.4L662.6 396.3L660.9 404.1L658.5 411.8L655.5 419.2L651.8 426.3L647.3 433.1L642.4 439.5L637.4 445.5L632.7 451.2L628.3 456.7L624.2 462L620.4 467.2L616.9 472.4L613.4 477.5L610 482.4L606.4 487.3L602.7 491.9L598.8 496.4L594.7 500.7L590.5 504.8L586.2 508.7L581.8 512.5L577.3 516.1L572.6 519.4L567.8 522.6L562.8 525.4L557.7 527.9L552.5 530L547.1 531.9L541.7 533.4L536.3 534.6L530.9 535.6L525.4 536.3L520 536.8L514.6 537L509.3 537L504 536.7L498.7 536.1L493.6 535.3L488.5 534.3L483.5 533.2L478.6 532L473.8 530.8L469 529.6L464.3 528.5L459.5 527.4L454.7 526.3L449.9 525.1L445.1 524L440.2 522.7L435.3 521.3L430.4 519.9L425.4 518.3L420.3 516.6L415.1 514.8L409.9 512.9L404.5 510.8L399.1 508.6L393.6 506.2L388 503.6L382.3 500.7L376.7 497.5L371.1 494L365.5 490.2L360 486.1L354.6 481.6L349.5 476.8L344.9 471.5L340.9 465.7L337.7 459.6L335.4 453.1L334.2 446.4L334 439.5L335 432.6L336.9 425.8Z" fill="#2639f9"/>
<path d="M342.3 419.2L345.7 413L349.5 407L353.7 401.5L358.1 396.2L362.5 391.3L366.9 386.6L371.2 382.2L375.4 378L379.5 374.1L383.6 370.3L387.7 366.7L391.7 363.3L395.8 360.1L399.8 357.1L403.9 354.3L407.9 351.6L411.9 349L416 346.7L420 344.5L424.1 342.4L428.1 340.5L432.1 338.7L436.1 337L440.1 335.4L444.1 333.8L448 332.3L451.9 330.9L455.8 329.4L459.8 328.1L463.7 326.7L467.7 325.5L471.8 324.5L475.9 323.5L480.1 322.7L484.3 321.9L488.5 321.1L492.8 320.4L497.2 319.6L501.7 318.8L506.4 317.9L511.2 316.9L516.1 316L521.3 315.2L526.6 314.4L532.1 313.9L537.8 313.6L543.5 313.5L549.4 313.6L555.5 314.1L561.6 314.8L567.9 315.7L574.3 317L580.7 318.5L587.2 320.5L593.8 322.8L600.3 325.4L606.7 328.5L613.2 331.9L619.5 335.8L625.7 340L631.8 344.6L637.5 349.7L643 355.2L647.8 361.2L651.9 367.7L655.1 374.6L657.2 381.8L658 389.3L657.7 396.9L656.3 404.5L654.2 412L651.5 419.2L648.1 426.2L643.9 432.8L639.4 439.1L634.7 445L630.1 450.6L625.7 456L621.6 461.2L617.7 466.2L613.9 471.2L610.3 476L606.7 480.7L603.1 485.3L599.3 489.8L595.4 494.1L591.4 498.2L587.3 502.1L583.1 505.9L578.8 509.5L574.3 512.9L569.8 516.1L565.1 519L560.3 521.7L555.3 524.1L550.3 526.2L545.2 528L540 529.6L534.7 530.8L529.5 531.9L524.3 532.6L519 533.1L513.8 533.4L508.6 533.4L503.5 533.1L498.4 532.6L493.4 531.9L488.5 531L483.7 530L478.9 528.9L474.2 527.8L469.5 526.7L464.9 525.7L460.2 524.6L455.6 523.6L450.9 522.6L446.1 521.5L441.3 520.3L436.5 519L431.7 517.6L426.8 516.1L421.8 514.5L416.8 512.7L411.6 510.8L406.4 508.7L401.1 506.6L395.8 504.2L390.3 501.6L384.8 498.8L379.2 495.7L373.6 492.4L368 488.7L362.6 484.8L357.3 480.4L352.3 475.6L347.8 470.4L343.9 464.8L340.7 458.8L338.5 452.5L337.3 445.9L337 439.1L337.9 432.4L339.7 425.7Z" fill="#304af8"/>
<path d="M344.9 419.2L348.1 413.1L351.8 407.2L355.8 401.7L360.1 396.6L364.5 391.7L368.8 387.1L373.1 382.8L377.3 378.7L381.5 374.9L385.5 371.2L389.6 367.7L393.6 364.4L397.5 361.2L401.5 358.3L405.5 355.5L409.5 352.9L413.5 350.5L417.5 348.2L421.5 346.1L425.5 344.1L429.5 342.3L433.4 340.5L437.4 338.9L441.3 337.4L445.1 335.9L448.9 334.4L452.8 332.9L456.6 331.5L460.4 330.2L464.3 328.9L468.2 327.7L472.2 326.7L476.2 325.7L480.2 324.9L484.3 324.1L488.5 323.4L492.7 322.7L497 321.9L501.4 321.2L505.9 320.3L510.6 319.5L515.4 318.7L520.4 317.9L525.6 317.3L530.9 316.7L536.4 316.4L542 316.3L547.8 316.5L553.7 316.9L559.6 317.6L565.7 318.6L571.8 319.9L578 321.5L584.2 323.5L590.5 325.7L596.8 328.3L603 331.3L609.3 334.6L615.4 338.3L621.5 342.4L627.4 346.9L633 351.8L638.2 357.2L642.9 363L646.9 369.3L650 375.9L652.1 382.9L653.1 390.2L653.1 397.5L652.1 404.9L650.3 412.1L647.8 419.2L644.5 426L640.7 432.5L636.4 438.7L632 444.5L627.5 450L623.2 455.3L619 460.3L614.9 465.2L611.1 470L607.3 474.6L603.6 479.1L599.8 483.5L596 487.7L592.2 491.8L588.2 495.7L584.2 499.5L580.1 503.1L575.8 506.5L571.4 509.7L567 512.7L562.4 515.5L557.7 518.1L552.9 520.4L548.1 522.4L543.2 524.2L538.2 525.8L533.2 527.1L528.1 528.1L523.1 528.9L518.1 529.5L513 529.8L508 529.8L503 529.6L498.1 529.2L493.3 528.5L488.5 527.7L483.8 526.8L479.2 525.9L474.6 524.9L470 523.9L465.5 522.9L461 522L456.4 521.1L451.8 520.1L447.1 519.1L442.4 518L437.7 516.8L432.9 515.4L428.1 514L423.3 512.4L418.4 510.6L413.4 508.7L408.3 506.7L403.2 504.5L397.9 502.2L392.6 499.7L387.2 497L381.7 494L376.1 490.8L370.6 487.3L365.2 483.4L360 479.1L355.1 474.5L350.7 469.4L346.8 463.9L343.8 458L341.6 451.8L340.3 445.3L340.1 438.7L340.8 432.1L342.4 425.6Z" fill="#3b5bf6"/>
<path d="M347.5 419.2L350.5 413.2L354.1 407.4L358 402L362.2 396.9L366.5 392.2L370.8 387.7L375.1 383.5L379.4 379.5L383.5 375.7L387.5 372.1L391.5 368.7L395.4 365.5L399.3 362.4L403.3 359.5L407.2 356.8L411.1 354.2L415 351.9L419 349.7L423 347.7L426.9 345.8L430.8 344L434.7 342.4L438.6 340.8L442.4 339.3L446.1 337.8L449.9 336.4L453.6 335L457.3 333.6L461.1 332.3L464.9 331.1L468.7 329.9L472.6 328.9L476.5 327.9L480.4 327.1L484.4 326.3L488.5 325.6L492.6 324.9L496.8 324.2L501.1 323.5L505.5 322.7L510.1 322L514.7 321.2L519.6 320.6L524.6 319.9L529.8 319.5L535.2 319.2L540.6 319.1L546.2 319.2L551.9 319.7L557.7 320.4L563.5 321.4L569.5 322.7L575.4 324.4L581.4 326.3L587.4 328.5L593.5 331.1L599.6 334L605.6 337.2L611.7 340.7L617.6 344.7L623.3 349L628.7 353.8L633.8 359L638.3 364.7L642.1 370.8L645.2 377.2L647.4 384L648.6 391L648.8 398.1L648.1 405.2L646.5 412.3L644.2 419.2L641.1 425.9L637.5 432.2L633.5 438.3L629.3 444L625 449.5L620.7 454.6L616.4 459.5L612.3 464.3L608.3 468.8L604.4 473.2L600.6 477.5L596.8 481.7L593 485.8L589.1 489.7L585.2 493.4L581.3 497L577.2 500.5L573 503.7L568.7 506.7L564.3 509.6L559.9 512.2L555.3 514.6L550.7 516.8L546 518.8L541.3 520.6L536.5 522.2L531.7 523.5L526.8 524.6L522 525.4L517.1 526L512.2 526.3L507.4 526.4L502.6 526.2L497.8 525.9L493.1 525.3L488.5 524.6L483.9 523.8L479.4 523L475 522.1L470.5 521.2L466.1 520.3L461.6 519.5L457.2 518.6L452.6 517.7L448.1 516.8L443.5 515.7L438.8 514.6L434.1 513.3L429.4 511.9L424.7 510.4L419.9 508.7L415 506.8L410 504.8L405 502.7L399.9 500.4L394.7 497.9L389.3 495.3L383.9 492.4L378.5 489.3L373 485.9L367.7 482.1L362.6 477.9L357.8 473.4L353.4 468.4L349.7 463L346.7 457.2L344.6 451.1L343.3 444.8L343 438.4L343.7 431.9L345.2 425.5Z" fill="#466bf5"/>
<path d="M350.2 419.2L353.1 413.3L356.5 407.7L360.3 402.3L364.4 397.3L368.7 392.6L373 388.2L377.3 384.1L381.5 380.2L385.6 376.6L389.6 373.1L393.6 369.8L397.4 366.6L401.3 363.6L405.1 360.8L408.9 358.2L412.8 355.7L416.7 353.4L420.6 351.3L424.5 349.3L428.3 347.5L432.2 345.8L436 344.2L439.8 342.7L443.5 341.2L447.2 339.8L450.8 338.4L454.4 337L458.1 335.7L461.8 334.4L465.4 333.2L469.2 332.1L473 331L476.8 330.1L480.6 329.2L484.5 328.5L488.5 327.7L492.5 327L496.6 326.4L500.8 325.7L505.1 325L509.5 324.3L514.1 323.6L518.8 323L523.7 322.4L528.8 322L534 321.7L539.3 321.6L544.7 321.8L550.3 322.2L555.9 323L561.6 324L567.3 325.3L573 327L578.8 328.9L584.7 331.1L590.6 333.6L596.5 336.3L602.4 339.5L608.3 342.9L614 346.7L619.6 351L624.9 355.6L629.8 360.7L634.1 366.2L637.9 372.1L640.9 378.4L643 384.9L644.3 391.7L644.7 398.6L644.1 405.6L642.7 412.5L640.6 419.2L637.8 425.7L634.4 432L630.7 437.9L626.6 443.6L622.4 448.9L618.2 454L614 458.8L609.8 463.3L605.7 467.8L601.8 472L597.9 476.1L594.1 480.1L590.3 484L586.4 487.8L582.6 491.4L578.6 494.8L574.6 498.1L570.5 501.2L566.3 504.1L562 506.8L557.6 509.3L553.2 511.6L548.7 513.7L544.2 515.7L539.6 517.4L535 518.9L530.3 520.2L525.7 521.3L521 522.1L516.2 522.7L511.5 523.1L506.8 523.2L502.2 523.1L497.6 522.8L493 522.3L488.5 521.7L484.1 521L479.7 520.3L475.3 519.5L471 518.7L466.6 517.9L462.3 517.1L457.9 516.3L453.4 515.5L449 514.6L444.4 513.7L439.9 512.6L435.3 511.4L430.6 510.1L425.9 508.6L421.2 506.9L416.4 505.1L411.6 503.2L406.6 501.1L401.6 498.8L396.4 496.4L391.2 493.9L385.8 491.1L380.5 488L375.1 484.7L369.9 481L364.8 476.9L360.1 472.4L355.9 467.4L352.3 462.1L349.4 456.5L347.4 450.5L346.2 444.3L345.9 438L346.5 431.6L348 425.3Z" fill="#517cf3"/>
<path d="M352.9 419.2L355.7 413.4L359.1 407.9L362.8 402.6L366.8 397.7L371 393.2L375.3 388.9L379.5 384.8L383.7 381.1L387.8 377.5L391.8 374.1L395.7 370.9L399.5 367.8L403.3 364.9L407.1 362.2L410.8 359.6L414.6 357.2L418.4 355L422.2 352.9L426 351L429.8 349.2L433.5 347.6L437.3 346L440.9 344.5L444.6 343.1L448.2 341.7L451.7 340.3L455.3 339L458.8 337.7L462.4 336.5L466 335.3L469.7 334.2L473.3 333.2L477.1 332.2L480.8 331.4L484.6 330.6L488.5 329.9L492.4 329.2L496.4 328.5L500.5 327.8L504.7 327.2L509 326.5L513.5 325.9L518.1 325.3L522.9 324.8L527.8 324.4L532.8 324.1L538 324.1L543.3 324.2L548.7 324.7L554.2 325.4L559.7 326.5L565.2 327.8L570.8 329.4L576.5 331.2L582.1 333.4L587.9 335.8L593.6 338.5L599.4 341.5L605.1 344.9L610.8 348.6L616.2 352.7L621.4 357.2L626.1 362.2L630.3 367.6L634 373.3L636.9 379.4L639 385.8L640.3 392.4L640.7 399.2L640.3 405.9L639.1 412.6L637.1 419.2L634.5 425.6L631.4 431.7L627.9 437.5L624 443.1L620 448.3L615.8 453.3L611.6 458L607.4 462.5L603.3 466.8L599.4 470.9L595.5 474.9L591.6 478.7L587.8 482.5L584 486.1L580.2 489.5L576.3 492.9L572.3 496L568.3 499L564.1 501.7L559.9 504.3L555.6 506.7L551.3 508.9L546.9 510.9L542.5 512.8L538.1 514.4L533.6 515.9L529.1 517.2L524.5 518.2L520 519.1L515.4 519.7L510.9 520.1L506.3 520.2L501.8 520.2L497.3 519.9L492.9 519.5L488.5 519L484.2 518.4L479.9 517.8L475.6 517.1L471.4 516.4L467.1 515.7L462.8 514.9L458.5 514.2L454.2 513.5L449.8 512.7L445.3 511.8L440.8 510.7L436.3 509.6L431.7 508.3L427.1 506.9L422.4 505.3L417.7 503.6L412.9 501.7L408 499.7L403 497.5L397.9 495.2L392.7 492.7L387.5 489.9L382.2 486.9L376.9 483.6L371.7 480L366.8 475.9L362.3 471.5L358.2 466.6L354.7 461.4L352 455.8L350 449.9L348.9 443.8L348.7 437.6L349.3 431.4L350.8 425.2Z" fill="#5c8df1"/>
<path d="M355.7 419.2L358.4 413.5L361.7 408.1L365.4 403L369.3 398.2L373.5 393.7L377.7 389.5L381.9 385.6L386.1 381.9L390.1 378.5L394.1 375.2L397.9 372.1L401.7 369.1L405.4 366.3L409.1 363.6L412.8 361.1L416.4 358.7L420.1 356.6L423.8 354.5L427.5 352.7L431.2 350.9L434.9 349.3L438.5 347.8L442.1 346.3L445.6 344.9L449.1 343.6L452.6 342.2L456.1 341L459.6 339.7L463.1 338.5L466.6 337.4L470.1 336.3L473.7 335.3L477.3 334.4L481 333.5L484.7 332.7L488.5 332L492.3 331.3L496.3 330.6L500.3 329.9L504.4 329.3L508.6 328.6L512.9 328L517.4 327.5L522.1 327L526.8 326.6L531.8 326.4L536.8 326.4L542 326.6L547.2 327.1L552.5 327.8L557.8 328.8L563.2 330.1L568.7 331.7L574.2 333.5L579.7 335.6L585.3 338L590.9 340.6L596.6 343.5L602.2 346.8L607.7 350.4L613 354.4L618 358.8L622.6 363.6L626.8 368.9L630.3 374.5L633.1 380.4L635.2 386.7L636.5 393.1L637 399.7L636.7 406.2L635.6 412.8L633.8 419.2L631.4 425.4L628.5 431.4L625.2 437.2L621.5 442.6L617.5 447.8L613.4 452.7L609.3 457.3L605.1 461.7L601.1 465.8L597.1 469.8L593.2 473.7L589.3 477.4L585.5 481L581.7 484.5L577.9 487.8L574 491L570.1 494L566.1 496.8L562 499.4L557.9 501.9L553.7 504.2L549.5 506.3L545.2 508.2L540.9 510L536.6 511.5L532.2 513L527.8 514.2L523.4 515.2L519 516L514.6 516.6L510.2 517L505.8 517.2L501.4 517.2L497.1 517.1L492.8 516.8L488.5 516.4L484.3 515.9L480.1 515.3L475.9 514.7L471.8 514.1L467.6 513.5L463.4 512.9L459.2 512.2L454.9 511.5L450.6 510.8L446.2 509.9L441.8 509L437.3 507.9L432.8 506.7L428.2 505.3L423.6 503.8L418.9 502.1L414.1 500.3L409.3 498.4L404.4 496.3L399.3 494L394.2 491.6L389 488.9L383.7 485.9L378.6 482.7L373.5 479.1L368.7 475L364.3 470.6L360.4 465.8L357.1 460.6L354.5 455.1L352.7 449.3L351.7 443.3L351.5 437.2L352.1 431.1L353.6 425.1Z" fill="#679ef0"/>
<path d="M358.5 419.2L361.2 413.6L364.4 408.3L368 403.3L371.9 398.6L376 394.3L380.2 390.2L384.4 386.4L388.5 382.8L392.5 379.4L396.4 376.3L400.2 373.2L403.9 370.4L407.5 367.6L411.1 365L414.7 362.6L418.3 360.3L421.9 358.2L425.5 356.2L429.1 354.3L432.6 352.6L436.2 351L439.7 349.5L443.2 348.1L446.7 346.7L450.1 345.4L453.5 344.1L456.9 342.9L460.3 341.7L463.7 340.6L467.1 339.5L470.6 338.4L474.1 337.5L477.6 336.6L481.2 335.7L484.8 334.9L488.5 334.1L492.2 333.4L496.1 332.7L500 332L504 331.3L508.1 330.7L512.4 330.1L516.8 329.6L521.3 329.1L525.9 328.8L530.7 328.7L535.6 328.7L540.6 328.9L545.7 329.4L550.9 330.1L556.1 331.2L561.3 332.4L566.6 334L572 335.7L577.4 337.7L582.9 340L588.4 342.6L593.9 345.4L599.4 348.6L604.7 352.1L609.9 356L614.8 360.3L619.3 365L623.3 370.1L626.8 375.6L629.6 381.4L631.6 387.5L632.9 393.7L633.5 400.1L633.3 406.5L632.3 412.9L630.7 419.2L628.5 425.3L625.7 431.2L622.5 436.8L618.9 442.2L615.1 447.3L611.1 452.1L607 456.6L602.9 460.8L598.9 464.9L594.9 468.8L591 472.5L587.1 476.1L583.3 479.6L579.5 482.9L575.7 486.1L571.9 489.1L568 492L564 494.7L560 497.2L555.9 499.6L551.8 501.7L547.7 503.7L543.5 505.6L539.3 507.2L535.1 508.7L530.9 510.1L526.6 511.2L522.4 512.2L518.1 513L513.8 513.6L509.5 514L505.3 514.3L501 514.4L496.8 514.3L492.6 514.1L488.5 513.8L484.4 513.4L480.3 513L476.2 512.5L472.1 512L468 511.4L463.9 510.9L459.8 510.3L455.6 509.6L451.3 508.9L447 508.1L442.7 507.3L438.2 506.2L433.8 505.1L429.3 503.8L424.7 502.4L420 500.8L415.3 499.1L410.5 497.2L405.6 495.2L400.6 493L395.5 490.6L390.4 487.9L385.2 485L380.1 481.8L375.2 478.2L370.6 474.2L366.3 469.8L362.6 465L359.4 459.9L356.9 454.4L355.2 448.7L354.3 442.9L354.2 436.9L354.9 430.9L356.4 425Z" fill="#72aeee"/>
<path d="M361.3 419.2L364 413.8L367.2 408.6L370.7 403.7L374.6 399.1L378.6 394.8L382.7 390.9L386.9 387.2L390.9 383.7L394.9 380.4L398.8 377.4L402.5 374.4L406.1 371.7L409.7 369L413.2 366.5L416.7 364.1L420.2 361.9L423.6 359.8L427.1 357.8L430.6 356L434.1 354.3L437.5 352.7L440.9 351.3L444.3 349.9L447.7 348.5L451 347.2L454.4 346L457.7 344.8L461 343.7L464.3 342.6L467.7 341.6L471.1 340.6L474.5 339.6L477.9 338.7L481.4 337.8L484.9 337L488.5 336.2L492.2 335.4L495.9 334.7L499.7 334L503.6 333.3L507.7 332.7L511.8 332.1L516.1 331.6L520.5 331.2L525.1 330.9L529.7 330.8L534.5 330.9L539.3 331.2L544.3 331.7L549.3 332.4L554.3 333.4L559.5 334.6L564.6 336.1L569.9 337.8L575.2 339.8L580.5 342L585.9 344.4L591.3 347.2L596.7 350.3L601.9 353.7L607 357.5L611.8 361.7L616.2 366.3L620.1 371.3L623.5 376.7L626.2 382.3L628.2 388.2L629.6 394.3L630.1 400.6L630 406.8L629.2 413.1L627.6 419.2L625.6 425.2L622.9 431L619.9 436.5L616.4 441.8L612.7 446.7L608.8 451.4L604.8 455.9L600.8 460.1L596.7 464L592.8 467.8L588.9 471.4L585 474.9L581.2 478.2L577.4 481.4L573.6 484.5L569.8 487.4L565.9 490.1L562 492.7L558 495.1L554.1 497.3L550 499.4L546 501.3L541.9 503L537.8 504.6L533.7 506L529.6 507.2L525.4 508.3L521.3 509.3L517.1 510.1L513 510.7L508.9 511.1L504.8 511.4L500.7 511.6L496.6 511.6L492.5 511.5L488.5 511.3L484.5 511L480.5 510.7L476.5 510.3L472.5 509.9L468.5 509.5L464.4 509L460.4 508.4L456.2 507.8L452.1 507.2L447.8 506.4L443.5 505.6L439.2 504.6L434.8 503.5L430.3 502.3L425.8 501L421.1 499.5L416.4 497.8L411.7 496L406.8 494.1L401.8 491.9L396.8 489.6L391.7 487L386.6 484.1L381.7 480.9L376.9 477.3L372.4 473.3L368.3 469L364.7 464.3L361.7 459.2L359.4 453.8L357.8 448.2L357 442.4L357 436.5L357.7 430.6L359.2 424.8Z" fill="#7dbfec"/>
<path d="M364.2 419.2L366.8 413.9L370 408.8L373.5 404.1L377.3 399.6L381.3 395.4L385.3 391.6L389.4 388L393.4 384.6L397.3 381.4L401.1 378.5L404.8 375.6L408.4 372.9L411.9 370.4L415.3 367.9L418.7 365.6L422 363.4L425.4 361.4L428.7 359.4L432.1 357.6L435.4 356L438.8 354.4L442.1 352.9L445.4 351.6L448.7 350.3L452 349L455.2 347.9L458.5 346.7L461.7 345.6L465 344.6L468.2 343.6L471.5 342.6L474.8 341.7L478.2 340.8L481.6 339.9L485 339L488.5 338.2L492.1 337.4L495.7 336.6L499.5 335.9L503.3 335.2L507.2 334.6L511.3 334.1L515.5 333.6L519.8 333.2L524.2 333L528.7 332.9L533.3 333.1L538.1 333.4L542.9 333.9L547.7 334.6L552.7 335.6L557.6 336.8L562.7 338.2L567.8 339.9L573 341.7L578.3 343.9L583.6 346.3L588.8 348.9L594.1 351.9L599.2 355.3L604.2 359L608.8 363.1L613.1 367.6L617 372.4L620.3 377.7L622.9 383.2L625 388.9L626.3 394.9L626.9 401L626.9 407.1L626.1 413.2L624.7 419.2L622.7 425.1L620.2 430.7L617.3 436.2L614 441.3L610.4 446.2L606.6 450.8L602.6 455.2L598.6 459.3L594.7 463.2L590.7 466.9L586.8 470.4L582.9 473.7L579.1 476.9L575.3 480L571.5 482.9L567.7 485.7L563.9 488.3L560 490.7L556.1 493L552.2 495.1L548.3 497.1L544.3 498.9L540.3 500.5L536.3 502L532.3 503.3L528.3 504.5L524.3 505.5L520.2 506.4L516.2 507.2L512.2 507.8L508.2 508.3L504.3 508.6L500.3 508.8L496.3 508.9L492.4 508.9L488.5 508.8L484.6 508.7L480.7 508.5L476.8 508.2L472.9 507.9L468.9 507.5L465 507.1L460.9 506.6L456.9 506.1L452.8 505.4L448.6 504.8L444.4 504L440.1 503.1L435.7 502L431.3 500.9L426.8 499.6L422.2 498.2L417.5 496.6L412.8 494.9L407.9 493L403 491L398 488.7L393 486.1L388 483.2L383.2 480L378.5 476.5L374.2 472.5L370.2 468.2L366.8 463.5L363.9 458.5L361.8 453.2L360.3 447.6L359.7 441.9L359.7 436.2L360.5 430.4L362 424.7Z" fill="#86cde9"/>
<path d="M367 419.2L369.7 414L372.8 409.1L376.3 404.4L380 400.1L383.9 396L387.9 392.2L391.9 388.8L395.9 385.5L399.7 382.4L403.5 379.6L407.1 376.8L410.6 374.2L414 371.7L417.3 369.4L420.6 367.1L423.9 365L427.1 363L430.4 361.1L433.6 359.3L436.8 357.6L440 356L443.3 354.6L446.5 353.2L449.7 352L452.9 350.8L456.1 349.7L459.2 348.6L462.4 347.6L465.6 346.6L468.8 345.6L472 344.7L475.2 343.8L478.4 342.8L481.7 342L485.1 341.1L488.5 340.2L492 339.4L495.6 338.6L499.2 337.9L503 337.2L506.8 336.5L510.8 336L514.9 335.6L519.1 335.2L523.4 335L527.8 335L532.2 335.2L536.8 335.5L541.5 336L546.2 336.8L551 337.7L555.9 338.9L560.8 340.3L565.9 341.8L571 343.6L576.1 345.7L581.3 348L586.5 350.6L591.6 353.5L596.6 356.8L601.4 360.4L606 364.4L610.2 368.8L613.9 373.6L617.2 378.6L619.8 384L621.8 389.6L623.2 395.5L623.8 401.4L623.8 407.4L623.1 413.3L621.8 419.2L619.9 424.9L617.5 430.5L614.7 435.8L611.5 440.9L608 445.7L604.3 450.2L600.5 454.5L596.5 458.5L592.6 462.3L588.7 465.9L584.8 469.3L580.9 472.6L577.1 475.7L573.3 478.6L569.6 481.4L565.8 484L562 486.5L558.1 488.8L554.3 491L550.4 493L546.5 494.9L542.6 496.5L538.7 498.1L534.8 499.5L530.9 500.7L527 501.8L523.1 502.8L519.2 503.6L515.4 504.4L511.5 505L507.6 505.5L503.8 505.8L499.9 506.1L496.1 506.3L492.3 506.4L488.5 506.5L484.7 506.4L480.9 506.3L477.1 506.1L473.2 505.9L469.3 505.6L465.4 505.2L461.5 504.8L457.5 504.3L453.5 503.8L449.4 503.1L445.2 502.3L441 501.5L436.7 500.5L432.3 499.5L427.8 498.3L423.3 496.9L418.6 495.5L413.9 493.8L409 492L404.1 490L399.2 487.7L394.3 485.2L389.4 482.3L384.7 479.2L380.1 475.6L375.9 471.7L372.2 467.4L368.9 462.7L366.2 457.8L364.2 452.5L362.9 447.1L362.3 441.5L362.4 435.8L363.3 430.2L364.8 424.6Z" fill="#7bc7d6"/>
<path d="M369.8 419.2L372.5 414.1L375.6 409.3L379 404.8L382.7 400.5L386.6 396.6L390.5 392.9L394.4 389.5L398.3 386.4L402.1 383.4L405.8 380.6L409.4 378L412.8 375.5L416.1 373.1L419.4 370.8L422.5 368.6L425.7 366.5L428.8 364.5L431.9 362.6L435 360.9L438.2 359.2L441.3 357.7L444.4 356.2L447.5 354.9L450.7 353.7L453.8 352.5L456.9 351.4L460 350.4L463.1 349.4L466.2 348.5L469.3 347.6L472.4 346.7L475.6 345.8L478.7 344.9L481.9 344L485.2 343.1L488.5 342.2L491.9 341.3L495.4 340.5L499 339.8L502.6 339.1L506.4 338.4L510.3 337.9L514.3 337.5L518.3 337.2L522.5 337L526.8 337.1L531.2 337.2L535.6 337.6L540.1 338.1L544.7 338.9L549.4 339.8L554.2 340.9L559 342.2L564 343.7L568.9 345.5L574 347.5L579.1 349.7L584.1 352.2L589.1 355.1L594 358.3L598.8 361.8L603.2 365.7L607.3 370L611 374.6L614.1 379.6L616.7 384.8L618.7 390.3L620.1 396L620.8 401.8L620.8 407.6L620.2 413.4L619 419.2L617.2 424.8L614.9 430.3L612.2 435.5L609.1 440.5L605.7 445.2L602 449.6L598.3 453.8L594.4 457.8L590.5 461.5L586.7 465L582.8 468.3L579 471.4L575.1 474.4L571.4 477.2L567.6 479.9L563.8 482.4L560.1 484.8L556.3 487L552.5 489L548.7 490.9L544.9 492.7L541.1 494.3L537.2 495.7L533.4 497L529.6 498.2L525.8 499.2L522 500.2L518.3 501L514.5 501.7L510.8 502.3L507 502.8L503.3 503.2L499.6 503.5L495.9 503.8L492.2 504L488.5 504.1L484.8 504.2L481.1 504.2L477.3 504.1L473.6 503.9L469.8 503.7L465.9 503.4L462.1 503L458.1 502.6L454.2 502.1L450.1 501.4L446.1 500.7L441.9 499.9L437.6 499.1L433.3 498.1L428.9 496.9L424.3 495.7L419.7 494.3L415 492.7L410.2 491L405.3 489L400.4 486.8L395.6 484.3L390.8 481.5L386.2 478.3L381.8 474.7L377.7 470.8L374.1 466.6L371 462L368.5 457L366.6 451.9L365.4 446.5L364.9 441L365.2 435.4L366.1 429.9L367.7 424.5Z" fill="#70c1c3"/>
<path d="M372.6 419.2L375.3 414.3L378.3 409.6L381.7 405.1L385.4 401L389.1 397.2L393 393.6L396.9 390.3L400.7 387.2L404.4 384.4L408 381.7L411.5 379.1L414.9 376.7L418.2 374.4L421.3 372.2L424.4 370L427.5 368L430.5 366L433.5 364.2L436.5 362.4L439.5 360.8L442.5 359.2L445.5 357.8L448.6 356.5L451.6 355.3L454.7 354.2L457.7 353.1L460.7 352.2L463.8 351.2L466.8 350.3L469.8 349.5L472.8 348.6L475.9 347.7L479 346.8L482.1 345.9L485.3 345L488.5 344.1L491.8 343.3L495.2 342.4L498.7 341.6L502.3 340.9L506 340.3L509.8 339.8L513.7 339.4L517.6 339.1L521.7 339L525.9 339.1L530.1 339.3L534.4 339.6L538.8 340.2L543.3 340.9L547.9 341.8L552.5 342.9L557.3 344.1L562.1 345.6L567 347.3L571.9 349.2L576.9 351.4L581.9 353.8L586.8 356.6L591.5 359.7L596.1 363.2L600.5 367L604.5 371.2L608.1 375.7L611.2 380.5L613.7 385.6L615.7 391L617.1 396.5L617.8 402.2L617.8 407.9L617.3 413.6L616.1 419.2L614.4 424.7L612.2 430L609.6 435.1L606.6 440L603.3 444.6L599.8 449L596.1 453.1L592.3 457L588.5 460.6L584.6 464L580.8 467.2L577 470.3L573.2 473.1L569.4 475.9L565.7 478.4L561.9 480.8L558.2 483.1L554.5 485.2L550.7 487.1L547 488.9L543.3 490.6L539.5 492.1L535.8 493.4L532.1 494.7L528.4 495.8L524.7 496.7L521 497.6L517.3 498.4L513.7 499.1L510.1 499.7L506.5 500.2L502.9 500.6L499.3 501L495.7 501.4L492.1 501.6L488.5 501.8L484.9 502L481.3 502.1L477.6 502.1L473.9 502L470.2 501.8L466.4 501.6L462.6 501.3L458.8 500.8L454.9 500.4L450.9 499.8L446.9 499.1L442.8 498.4L438.6 497.6L434.3 496.6L429.9 495.6L425.4 494.4L420.8 493.1L416.1 491.6L411.3 489.9L406.5 488L401.7 485.8L396.9 483.3L392.2 480.5L387.7 477.4L383.5 473.9L379.6 470L376.1 465.7L373.2 461.2L370.8 456.3L369 451.2L368 445.9L367.6 440.5L367.9 435.1L368.9 429.7L370.4 424.4Z" fill="#65bab0"/>
<path d="M375.4 419.2L378 414.4L381 409.8L384.4 405.5L387.9 401.5L391.7 397.7L395.4 394.3L399.2 391.1L403 388.1L406.7 385.3L410.2 382.7L413.6 380.2L416.9 377.9L420.1 375.6L423.2 373.5L426.2 371.4L429.1 369.4L432.1 367.5L435 365.7L437.9 363.9L440.8 362.3L443.7 360.8L446.6 359.4L449.6 358.1L452.5 356.9L455.5 355.8L458.5 354.8L461.4 353.9L464.4 353L467.4 352.1L470.3 351.3L473.3 350.4L476.2 349.6L479.2 348.7L482.3 347.8L485.3 346.9L488.5 346L491.7 345.2L495.1 344.3L498.5 343.5L502 342.8L505.6 342.2L509.3 341.7L513.1 341.3L516.9 341.1L520.9 341L524.9 341.1L529.1 341.3L533.3 341.7L537.6 342.2L541.9 342.9L546.4 343.8L550.9 344.8L555.6 346L560.3 347.4L565.1 349L569.9 350.9L574.8 353L579.6 355.4L584.4 358.1L589.1 361.1L593.6 364.5L597.8 368.2L601.7 372.3L605.2 376.7L608.2 381.5L610.7 386.4L612.7 391.7L614 397.1L614.8 402.6L614.9 408.1L614.4 413.7L613.3 419.2L611.7 424.6L609.5 429.8L607 434.8L604.1 439.6L600.9 444.1L597.5 448.4L593.9 452.4L590.2 456.2L586.4 459.8L582.6 463.1L578.8 466.2L575 469.1L571.2 471.9L567.5 474.5L563.7 476.9L560 479.2L556.3 481.4L552.7 483.4L549 485.2L545.3 486.9L541.7 488.5L538 489.9L534.4 491.2L530.7 492.4L527.1 493.4L523.5 494.3L520 495.2L516.4 495.9L512.9 496.6L509.4 497.2L505.9 497.7L502.4 498.2L499 498.6L495.5 499L492 499.3L488.5 499.6L485 499.8L481.4 500L477.9 500L474.3 500L470.6 499.9L466.9 499.7L463.2 499.4L459.4 499.1L455.6 498.6L451.7 498.1L447.7 497.5L443.7 496.8L439.6 496L435.3 495.2L431 494.2L426.5 493.1L421.9 491.8L417.3 490.4L412.6 488.8L407.8 486.9L403 484.8L398.3 482.3L393.8 479.6L389.4 476.4L385.3 472.9L381.5 469.1L378.2 464.9L375.4 460.4L373.1 455.6L371.5 450.5L370.5 445.4L370.2 440.1L370.6 434.7L371.6 429.4L373.2 424.2Z" fill="#5ab49d"/>
<path d="M378.1 419.2L380.7 414.5L383.6 410L386.9 405.8L390.4 401.9L394.1 398.3L397.8 394.9L401.5 391.8L405.2 388.9L408.8 386.2L412.2 383.6L415.6 381.3L418.8 379L422 376.8L425 374.7L427.9 372.7L430.8 370.8L433.6 368.9L436.4 367.1L439.2 365.4L442 363.8L444.9 362.3L447.7 360.9L450.6 359.7L453.5 358.5L456.3 357.4L459.2 356.5L462.1 355.5L465 354.7L467.9 353.8L470.8 353L473.6 352.2L476.5 351.4L479.5 350.5L482.4 349.7L485.4 348.8L488.5 347.9L491.7 347L494.9 346.2L498.2 345.4L501.6 344.7L505.1 344.1L508.7 343.6L512.4 343.3L516.2 343L520.1 343L524 343L528 343.3L532.1 343.6L536.3 344.2L540.6 344.8L544.9 345.7L549.4 346.7L553.9 347.8L558.5 349.2L563.2 350.8L567.9 352.5L572.7 354.6L577.4 356.9L582.1 359.6L586.6 362.5L591 365.8L595.1 369.5L598.9 373.5L602.3 377.8L605.2 382.4L607.7 387.3L609.6 392.3L611 397.6L611.7 403L611.8 408.4L611.4 413.8L610.4 419.2L608.8 424.5L606.8 429.6L604.4 434.5L601.6 439.1L598.5 443.6L595.2 447.8L591.6 451.7L588 455.4L584.3 458.9L580.5 462.1L576.7 465.1L573 468L569.2 470.6L565.5 473.1L561.8 475.4L558.1 477.6L554.5 479.7L550.9 481.6L547.3 483.3L543.7 485L540.1 486.5L536.5 487.8L533 489L529.5 490.2L526 491.1L522.5 492L519 492.8L515.6 493.6L512.2 494.2L508.8 494.8L505.4 495.4L502 495.9L498.7 496.3L495.3 496.7L491.9 497.1L488.5 497.4L485.1 497.7L481.6 497.9L478.1 498L474.6 498L471 498L467.4 497.8L463.8 497.6L460.1 497.3L456.3 496.9L452.5 496.4L448.6 495.8L444.6 495.2L440.6 494.5L436.4 493.6L432.1 492.7L427.7 491.7L423.1 490.5L418.5 489.2L413.9 487.6L409.2 485.8L404.5 483.7L399.9 481.3L395.4 478.5L391.1 475.4L387.1 472L383.5 468.2L380.3 464L377.6 459.5L375.5 454.8L374 449.9L373.1 444.8L372.9 439.6L373.3 434.4L374.3 429.2L375.9 424.1Z" fill="#4fae8a"/>
<path d="M380.8 419.2L383.3 414.6L386.2 410.3L389.4 406.2L392.9 402.3L396.4 398.8L400 395.5L403.7 392.5L407.3 389.6L410.8 387L414.2 384.6L417.5 382.3L420.7 380L423.7 377.9L426.7 375.9L429.5 374L432.3 372.1L435.1 370.2L437.8 368.5L440.5 366.8L443.2 365.3L446 363.8L448.8 362.4L451.5 361.2L454.4 360.1L457.2 359L460 358L462.8 357.2L465.6 356.3L468.4 355.5L471.2 354.7L474 353.9L476.8 353.1L479.7 352.3L482.6 351.4L485.5 350.6L488.5 349.7L491.6 348.9L494.7 348.1L498 347.3L501.3 346.6L504.7 346L508.2 345.6L511.8 345.2L515.5 345L519.3 344.9L523.1 345L527 345.2L531 345.6L535.1 346.1L539.2 346.7L543.5 347.5L547.9 348.5L552.3 349.6L556.8 350.9L561.4 352.4L566 354.2L570.7 356.2L575.3 358.4L579.8 361L584.2 363.9L588.5 367.2L592.5 370.7L596.1 374.6L599.5 378.8L602.3 383.3L604.7 388.1L606.6 393L607.9 398.1L608.7 403.4L608.8 408.7L608.4 414L607.5 419.2L606 424.3L604.1 429.3L601.8 434.1L599.1 438.7L596.1 443L592.8 447.2L589.4 451L585.8 454.6L582.1 458L578.4 461.1L574.7 464L570.9 466.8L567.2 469.3L563.5 471.7L559.9 474L556.3 476.1L552.7 478L549.1 479.8L545.6 481.5L542.1 483L538.6 484.5L535.1 485.8L531.7 486.9L528.2 488L524.8 489L521.4 489.8L518.1 490.6L514.7 491.3L511.4 492L508.2 492.5L504.9 493.1L501.6 493.6L498.4 494.1L495.1 494.5L491.8 494.9L488.5 495.3L485.2 495.6L481.8 495.8L478.4 495.9L475 496L471.5 496L467.9 495.9L464.4 495.7L460.8 495.4L457.1 495.1L453.3 494.6L449.5 494.1L445.6 493.5L441.6 492.9L437.4 492.1L433.2 491.3L428.8 490.3L424.4 489.2L419.8 487.9L415.2 486.3L410.6 484.6L406 482.5L401.5 480.1L397.1 477.4L392.9 474.4L389.1 471L385.6 467.2L382.5 463.1L380 458.7L378 454.1L376.6 449.2L375.8 444.2L375.6 439.1L376 434L377.1 428.9L378.7 424Z" fill="#44a777"/>
<path d="M383.4 419.2L385.9 414.7L388.8 410.5L391.9 406.5L395.3 402.8L398.7 399.3L402.3 396.1L405.9 393.1L409.4 390.4L412.8 387.9L416.2 385.5L419.4 383.2L422.5 381.1L425.5 379L428.3 377.1L431.1 375.2L433.9 373.3L436.5 371.6L439.2 369.9L441.8 368.2L444.5 366.7L447.1 365.3L449.8 363.9L452.5 362.7L455.2 361.6L458 360.5L460.7 359.6L463.4 358.7L466.2 357.9L468.9 357.1L471.6 356.3L474.4 355.5L477.1 354.8L479.9 354L482.7 353.2L485.6 352.3L488.5 351.5L491.5 350.7L494.6 349.9L497.7 349.2L501 348.5L504.3 348L507.7 347.5L511.2 347.2L514.8 346.9L518.5 346.9L522.2 346.9L526 347.1L529.9 347.5L533.9 347.9L538 348.5L542.1 349.3L546.4 350.2L550.7 351.3L555.2 352.5L559.7 354L564.2 355.7L568.7 357.7L573.2 359.9L577.6 362.4L581.9 365.3L586 368.4L589.9 371.9L593.5 375.7L596.7 379.8L599.5 384.2L601.8 388.8L603.6 393.7L604.9 398.7L605.7 403.8L605.9 408.9L605.5 414.1L604.6 419.2L603.2 424.2L601.4 429.1L599.2 433.8L596.5 438.3L593.6 442.5L590.5 446.5L587.1 450.3L583.6 453.8L580 457.1L576.3 460.1L572.6 463L568.9 465.6L565.2 468.1L561.6 470.4L558 472.5L554.4 474.5L550.9 476.4L547.4 478.1L543.9 479.7L540.5 481.2L537.1 482.5L533.7 483.7L530.3 484.9L527 485.9L523.7 486.8L520.4 487.7L517.2 488.4L514 489.1L510.8 489.8L507.6 490.4L504.4 490.9L501.2 491.5L498.1 491.9L494.9 492.4L491.7 492.8L488.5 493.2L485.3 493.5L482 493.7L478.7 493.9L475.3 494L471.9 494L468.5 494L465 493.8L461.4 493.6L457.8 493.3L454.1 492.9L450.4 492.5L446.5 491.9L442.6 491.3L438.5 490.6L434.3 489.8L430 488.9L425.6 487.8L421.1 486.6L416.6 485.1L412 483.4L407.5 481.3L403.1 479L398.8 476.3L394.8 473.3L391.1 469.9L387.7 466.2L384.8 462.2L382.3 457.8L380.4 453.3L379.1 448.5L378.4 443.6L378.3 438.6L378.7 433.7L379.8 428.7L381.4 423.9Z" fill="#39a163"/>
<path d="M386.1 419.2L388.5 414.8L391.3 410.7L394.4 406.8L397.6 403.2L401 399.8L404.5 396.7L408 393.8L411.4 391.1L414.8 388.7L418.1 386.4L421.2 384.2L424.2 382.1L427.2 380.1L430 378.2L432.7 376.4L435.3 374.6L437.9 372.9L440.5 371.2L443.1 369.6L445.6 368.1L448.2 366.7L450.8 365.4L453.5 364.2L456.1 363.1L458.7 362L461.4 361.1L464.1 360.2L466.7 359.4L469.4 358.6L472.1 357.9L474.7 357.1L477.4 356.4L480.1 355.6L482.9 354.8L485.7 354L488.5 353.3L491.4 352.5L494.4 351.7L497.5 351L500.6 350.4L503.9 349.9L507.2 349.4L510.6 349.1L514.1 348.9L517.7 348.8L521.3 348.8L525.1 349L528.9 349.3L532.8 349.7L536.8 350.3L540.8 351L545 351.9L549.3 352.9L553.6 354.1L558 355.5L562.4 357.2L566.8 359.1L571.2 361.3L575.5 363.8L579.7 366.6L583.7 369.6L587.4 373.1L590.9 376.8L594 380.8L596.7 385.1L599 389.6L600.7 394.3L602 399.2L602.7 404.2L602.9 409.2L602.6 414.2L601.8 419.2L600.5 424.1L598.7 428.8L596.5 433.4L594 437.8L591.2 442L588.1 445.9L584.8 449.6L581.4 453L577.8 456.2L574.2 459.2L570.5 461.9L566.9 464.5L563.3 466.8L559.7 469L556.1 471.1L552.6 473L549.1 474.7L545.7 476.4L542.3 477.9L538.9 479.3L535.6 480.6L532.3 481.8L529.1 482.9L525.8 483.8L522.6 484.7L519.4 485.6L516.3 486.3L513.2 487L510.1 487.7L507 488.3L503.9 488.8L500.9 489.4L497.8 489.9L494.7 490.3L491.6 490.7L488.5 491.1L485.3 491.4L482.2 491.7L478.9 491.9L475.7 492L472.3 492.1L469 492.1L465.6 492L462.1 491.8L458.6 491.5L454.9 491.2L451.2 490.8L447.4 490.3L443.6 489.8L439.5 489.1L435.4 488.4L431.2 487.5L426.9 486.5L422.4 485.3L418 483.8L413.5 482.1L409.1 480.1L404.8 477.8L400.6 475.2L396.7 472.2L393.1 468.9L389.8 465.2L387 461.2L384.7 457L382.9 452.5L381.7 447.8L381 443L380.9 438.2L381.4 433.3L382.5 428.5L384.1 423.8Z" fill="#2e9b50"/>
<path d="M388.7 419.2L391.1 414.9L393.8 410.9L396.8 407.1L400 403.6L403.3 400.3L406.7 397.3L410.1 394.5L413.4 391.9L416.7 389.5L419.9 387.2L423 385.1L426 383.1L428.8 381.2L431.6 379.3L434.2 377.6L436.8 375.8L439.3 374.2L441.8 372.5L444.3 371L446.8 369.5L449.3 368.1L451.8 366.8L454.4 365.6L456.9 364.5L459.5 363.5L462.1 362.6L464.7 361.7L467.3 360.9L469.9 360.1L472.5 359.4L475.1 358.7L477.7 357.9L480.3 357.2L483 356.5L485.7 355.7L488.5 355L491.3 354.3L494.2 353.6L497.2 352.9L500.3 352.3L503.5 351.8L506.7 351.3L510 351L513.4 350.8L516.9 350.7L520.5 350.7L524.1 350.8L527.8 351.1L531.7 351.5L535.6 352L539.6 352.6L543.7 353.5L547.8 354.5L552.1 355.6L556.4 357L560.7 358.6L565 360.5L569.3 362.7L573.4 365.1L577.5 367.8L581.4 370.9L585 374.2L588.4 377.8L591.4 381.8L594 385.9L596.1 390.4L597.9 395L599.1 399.7L599.8 404.5L600 409.4L599.7 414.3L599 419.2L597.7 424L596 428.6L593.9 433.1L591.5 437.4L588.7 441.4L585.7 445.3L582.5 448.8L579.2 452.2L575.7 455.3L572.1 458.2L568.5 460.9L564.9 463.3L561.3 465.6L557.8 467.7L554.3 469.7L550.8 471.5L547.4 473.1L544 474.7L540.7 476.1L537.4 477.5L534.2 478.7L531 479.8L527.8 480.9L524.7 481.8L521.6 482.7L518.5 483.5L515.5 484.3L512.4 485L509.4 485.6L506.5 486.2L503.5 486.8L500.5 487.3L497.5 487.8L494.5 488.3L491.5 488.7L488.5 489.1L485.4 489.4L482.3 489.7L479.2 489.9L476 490.1L472.8 490.1L469.5 490.1L466.2 490.1L462.8 489.9L459.3 489.7L455.7 489.4L452.1 489.1L448.4 488.7L444.5 488.2L440.6 487.6L436.5 486.9L432.4 486.1L428.1 485.1L423.8 483.9L419.4 482.5L415 480.9L410.7 478.9L406.5 476.6L402.4 474L398.6 471.1L395.2 467.8L392 464.2L389.3 460.3L387.1 456.1L385.4 451.7L384.2 447.1L383.7 442.4L383.6 437.7L384.1 432.9L385.2 428.2L386.7 423.6Z" fill="#23943d"/>
<path d="M391.4 419.2L393.7 415.1L396.3 411.1L399.2 407.4L402.3 404L405.5 400.8L408.8 397.9L412.1 395.1L415.4 392.6L418.6 390.3L421.7 388.1L424.8 386L427.7 384.1L430.4 382.2L433.1 380.4L435.7 378.7L438.2 377L440.7 375.4L443.1 373.8L445.6 372.3L448 370.9L450.4 369.5L452.8 368.3L455.3 367.1L457.8 366L460.3 365L462.8 364L465.3 363.2L467.8 362.4L470.3 361.6L472.9 360.9L475.4 360.2L478 359.5L480.5 358.8L483.2 358.1L485.8 357.4L488.5 356.7L491.3 356L494.1 355.4L497 354.7L500 354.2L503 353.7L506.2 353.2L509.4 352.9L512.7 352.7L516.1 352.5L519.6 352.5L523.2 352.6L526.8 352.8L530.6 353.2L534.4 353.6L538.3 354.3L542.3 355L546.4 356L550.6 357.1L554.8 358.5L559 360.1L563.2 361.9L567.4 364L571.4 366.4L575.4 369.1L579.1 372L582.6 375.3L585.9 378.9L588.8 382.7L591.3 386.8L593.4 391.1L595 395.6L596.2 400.2L596.9 404.9L597.2 409.7L596.9 414.5L596.2 419.2L595 423.8L593.3 428.4L591.3 432.7L589 436.9L586.3 440.9L583.4 444.6L580.2 448.1L576.9 451.4L573.5 454.4L570 457.2L566.5 459.8L562.9 462.2L559.4 464.4L555.9 466.4L552.4 468.3L549 470L545.7 471.6L542.4 473.1L539.1 474.4L535.9 475.7L532.7 476.9L529.6 478L526.6 479L523.5 479.9L520.5 480.8L517.6 481.6L514.6 482.3L511.7 483L508.8 483.6L505.9 484.2L503 484.8L500.2 485.3L497.3 485.8L494.4 486.3L491.4 486.7L488.5 487.1L485.5 487.4L482.5 487.7L479.5 487.9L476.4 488.1L473.2 488.2L470 488.2L466.7 488.2L463.4 488.1L460 487.9L456.6 487.7L453 487.4L449.3 487.1L445.5 486.6L441.7 486.1L437.7 485.5L433.6 484.7L429.4 483.7L425.1 482.6L420.8 481.2L416.6 479.6L412.3 477.6L408.2 475.4L404.3 472.8L400.6 469.9L397.3 466.7L394.2 463.1L391.7 459.3L389.5 455.2L387.9 450.9L386.8 446.4L386.3 441.9L386.3 437.2L386.8 432.6L387.9 428L389.4 423.5Z" fill="#188e2a"/>
<path d="M394 419.2L396.2 415.2L398.8 411.4L401.6 407.8L404.6 404.4L407.8 401.3L411 398.4L414.2 395.8L417.4 393.3L420.5 391L423.5 388.9L426.5 386.9L429.3 385L432 383.2L434.7 381.5L437.2 379.8L439.6 378.2L442 376.6L444.4 375.1L446.8 373.7L449.1 372.3L451.5 370.9L453.8 369.7L456.2 368.5L458.6 367.4L461 366.4L463.4 365.5L465.9 364.6L468.3 363.8L470.8 363.1L473.3 362.3L475.7 361.7L478.2 361L480.7 360.3L483.3 359.7L485.9 359L488.5 358.4L491.2 357.7L493.9 357.1L496.7 356.6L499.6 356L502.6 355.5L505.7 355.1L508.8 354.8L512 354.5L515.3 354.4L518.7 354.3L522.2 354.4L525.8 354.6L529.5 354.9L533.3 355.3L537.1 355.9L541 356.6L545 357.5L549.1 358.6L553.2 359.9L557.3 361.4L561.4 363.2L565.5 365.3L569.4 367.6L573.2 370.3L576.9 373.2L580.3 376.4L583.4 379.9L586.2 383.6L588.6 387.6L590.7 391.8L592.3 396.2L593.4 400.7L594.1 405.3L594.3 409.9L594.1 414.6L593.4 419.2L592.2 423.7L590.7 428.1L588.7 432.4L586.4 436.5L583.8 440.3L581 444L577.9 447.4L574.7 450.6L571.4 453.5L567.9 456.2L564.5 458.7L561 461L557.5 463.1L554 465.1L550.6 466.9L547.3 468.5L544 470L540.7 471.4L537.6 472.7L534.4 473.9L531.4 475.1L528.3 476.1L525.4 477.1L522.4 478L519.5 478.8L516.7 479.6L513.8 480.4L511 481.1L508.2 481.7L505.4 482.3L502.6 482.9L499.8 483.4L497 483.9L494.2 484.4L491.4 484.8L488.5 485.2L485.6 485.5L482.7 485.8L479.7 486L476.7 486.1L473.6 486.3L470.5 486.3L467.3 486.3L464.1 486.3L460.8 486.1L457.4 486L453.9 485.7L450.3 485.4L446.5 485L442.7 484.6L438.8 484L434.8 483.2L430.7 482.3L426.5 481.2L422.3 479.9L418.1 478.3L414 476.4L410 474.1L406.2 471.6L402.7 468.8L399.4 465.6L396.5 462.1L394 458.3L392 454.3L390.5 450.1L389.4 445.7L389 441.3L389 436.7L389.5 432.2L390.6 427.8L392.1 423.4Z" fill="#0d8817"/>
<path d="M396.6 419.2L398.8 415.3L401.3 411.6L404 408.1L406.9 404.8L410 401.8L413.1 399L416.2 396.4L419.3 394L422.3 391.8L425.3 389.7L428.2 387.8L430.9 386L433.6 384.2L436.1 382.5L438.6 380.9L441 379.4L443.4 377.8L445.7 376.4L448 375L450.2 373.6L452.5 372.3L454.8 371L457.1 369.9L459.4 368.8L461.7 367.8L464.1 366.9L466.5 366L468.9 365.2L471.2 364.5L473.7 363.8L476.1 363.1L478.5 362.5L480.9 361.8L483.4 361.2L485.9 360.6L488.5 360L491.1 359.5L493.8 358.9L496.5 358.4L499.3 357.9L502.2 357.4L505.2 357L508.2 356.7L511.4 356.4L514.6 356.2L517.9 356.2L521.3 356.2L524.8 356.3L528.4 356.5L532.1 356.9L535.9 357.4L539.7 358.1L543.7 359L547.7 360L551.7 361.3L555.7 362.8L559.7 364.6L563.6 366.6L567.4 368.9L571.1 371.5L574.6 374.4L577.9 377.5L580.9 380.9L583.6 384.6L586 388.5L587.9 392.6L589.5 396.8L590.6 401.2L591.3 405.7L591.5 410.2L591.3 414.7L590.6 419.2L589.5 423.6L588 427.9L586.1 432L583.9 436L581.4 439.8L578.6 443.3L575.6 446.7L572.5 449.8L569.2 452.6L565.8 455.3L562.4 457.7L559 459.9L555.6 461.9L552.2 463.8L548.8 465.5L545.5 467.1L542.3 468.5L539.1 469.8L536 471.1L533 472.2L530 473.3L527.1 474.3L524.2 475.2L521.4 476.1L518.6 477L515.8 477.7L513.1 478.5L510.3 479.2L507.6 479.8L504.9 480.4L502.2 481L499.5 481.5L496.8 482L494 482.5L491.3 482.9L488.5 483.2L485.7 483.6L482.8 483.8L480 484L477 484.2L474.1 484.3L471 484.4L467.9 484.4L464.8 484.4L461.5 484.3L458.2 484.2L454.7 484L451.2 483.8L447.6 483.5L443.8 483L440 482.5L436 481.8L432 480.9L427.9 479.8L423.8 478.5L419.7 476.9L415.7 475L411.9 472.9L408.2 470.4L404.7 467.6L401.6 464.4L398.8 461L396.4 457.3L394.5 453.4L393 449.3L392.1 445L391.6 440.7L391.7 436.3L392.2 431.9L393.2 427.5L394.7 423.3Z" fill="#028104"/>
<path d="M399.1 419.2L401.3 415.4L403.7 411.8L406.4 408.4L409.2 405.2L412.1 402.3L415.1 399.5L418.2 397L421.2 394.7L424.1 392.5L427 390.5L429.8 388.7L432.5 386.9L435.1 385.2L437.6 383.6L440 382L442.4 380.5L444.7 379L446.9 377.6L449.1 376.2L451.3 374.9L453.5 373.6L455.7 372.4L458 371.3L460.2 370.2L462.5 369.2L464.8 368.3L467.1 367.4L469.4 366.6L471.7 365.9L474 365.2L476.4 364.6L478.8 363.9L481.1 363.4L483.6 362.8L486 362.2L488.5 361.7L491 361.1L493.6 360.6L496.3 360.1L499 359.7L501.8 359.3L504.7 358.9L507.6 358.5L510.7 358.3L513.8 358.1L517.1 358L520.4 357.9L523.8 358L527.4 358.2L531 358.5L534.7 359L538.5 359.7L542.3 360.5L546.2 361.5L550.1 362.8L554 364.2L557.9 365.9L561.7 367.9L565.4 370.2L569 372.7L572.4 375.5L575.6 378.6L578.5 381.9L581.1 385.5L583.4 389.3L585.3 393.3L586.7 397.4L587.8 401.7L588.5 406L588.7 410.4L588.5 414.8L587.8 419.2L586.8 423.5L585.3 427.7L583.5 431.7L581.3 435.6L578.9 439.2L576.2 442.7L573.3 445.9L570.2 449L567 451.7L563.7 454.3L560.4 456.6L557 458.8L553.7 460.7L550.3 462.5L547.1 464.1L543.8 465.6L540.7 467L537.6 468.3L534.5 469.4L531.6 470.5L528.7 471.6L525.8 472.5L523.1 473.4L520.3 474.3L517.6 475.1L514.9 475.9L512.3 476.6L509.7 477.3L507 478L504.4 478.6L501.8 479.2L499.2 479.7L496.5 480.2L493.9 480.6L491.2 481L488.5 481.3L485.8 481.6L483 481.9L480.2 482.1L477.4 482.3L474.5 482.4L471.5 482.5L468.5 482.6L465.4 482.6L462.3 482.5L459 482.5L455.6 482.3L452.2 482.1L448.6 481.8L444.9 481.5L441.1 480.9L437.3 480.3L433.3 479.4L429.3 478.4L425.3 477.1L421.4 475.5L417.5 473.7L413.7 471.6L410.2 469.1L406.8 466.3L403.8 463.3L401.1 459.9L398.9 456.3L397 452.5L395.6 448.5L394.7 444.3L394.3 440.1L394.4 435.8L394.9 431.5L395.9 427.3L397.3 423.2Z" fill="#108800"/>
<path d="M401.7 419.2L403.8 415.5L406.1 412L408.7 408.7L411.4 405.6L414.3 402.7L417.2 400.1L420.1 397.6L423 395.4L425.9 393.3L428.7 391.3L431.5 389.5L434.1 387.8L436.6 386.2L439.1 384.6L441.4 383.1L443.7 381.6L445.9 380.2L448.1 378.8L450.3 377.5L452.4 376.2L454.6 375L456.7 373.8L458.8 372.7L461 371.6L463.2 370.6L465.4 369.7L467.6 368.8L469.9 368L472.1 367.3L474.4 366.6L476.7 366L479 365.4L481.3 364.8L483.7 364.3L486.1 363.8L488.5 363.3L491 362.8L493.5 362.4L496 361.9L498.7 361.5L501.4 361.1L504.2 360.7L507 360.4L510 360.1L513.1 359.9L516.2 359.8L519.5 359.7L522.8 359.7L526.3 359.9L529.8 360.2L533.4 360.6L537.1 361.2L540.9 362L544.7 363L548.5 364.2L552.3 365.6L556.1 367.3L559.8 369.3L563.4 371.5L566.9 373.9L570.2 376.7L573.3 379.7L576.1 382.9L578.6 386.4L580.7 390.1L582.6 394L584 398L585.1 402.2L585.7 406.4L585.9 410.7L585.7 415L585.1 419.2L584 423.4L582.6 427.4L580.9 431.4L578.8 435.1L576.4 438.7L573.8 442.1L571 445.2L568 448.1L564.9 450.8L561.7 453.3L558.4 455.6L555.1 457.6L551.8 459.5L548.5 461.2L545.3 462.8L542.1 464.2L539 465.5L536 466.7L533.1 467.8L530.2 468.9L527.4 469.9L524.6 470.8L521.9 471.7L519.3 472.5L516.7 473.3L514.1 474.1L511.5 474.8L509 475.5L506.5 476.2L503.9 476.8L501.4 477.4L498.8 477.9L496.3 478.4L493.7 478.8L491.1 479.2L488.5 479.5L485.9 479.8L483.2 480L480.5 480.2L477.7 480.4L474.9 480.5L472 480.6L469.1 480.7L466.1 480.7L463 480.8L459.8 480.7L456.5 480.6L453.1 480.5L449.6 480.2L446 479.9L442.3 479.4L438.5 478.8L434.7 477.9L430.8 476.9L426.9 475.6L423.1 474.1L419.3 472.3L415.6 470.2L412.2 467.8L409 465.1L406.1 462.1L403.5 458.8L401.3 455.3L399.5 451.6L398.2 447.7L397.4 443.6L397 439.5L397.1 435.3L397.6 431.2L398.6 427.1L400 423.1Z" fill="#259200"/>
<path d="M404.2 419.2L406.2 415.6L408.5 412.2L411 409L413.6 406L416.4 403.2L419.2 400.6L422 398.2L424.9 396L427.7 394L430.4 392.1L433.1 390.3L435.6 388.7L438.1 387.1L440.5 385.6L442.8 384.1L445 382.7L447.2 381.4L449.3 380L451.4 378.7L453.5 377.5L455.6 376.3L457.6 375.1L459.7 374L461.8 373L463.9 372L466.1 371.1L468.2 370.2L470.4 369.4L472.6 368.7L474.8 368L477 367.4L479.3 366.9L481.5 366.3L483.8 365.8L486.1 365.4L488.5 364.9L490.9 364.5L493.3 364.1L495.8 363.7L498.4 363.3L501 362.9L503.7 362.5L506.5 362.2L509.3 361.9L512.3 361.7L515.4 361.6L518.6 361.5L521.8 361.5L525.2 361.6L528.7 361.9L532.2 362.3L535.8 362.8L539.5 363.6L543.2 364.5L546.9 365.7L550.6 367.1L554.3 368.7L557.9 370.6L561.4 372.8L564.8 375.2L567.9 377.8L570.9 380.8L573.6 384L576 387.3L578.1 390.9L579.9 394.7L581.3 398.6L582.3 402.7L582.9 406.8L583.1 410.9L582.9 415.1L582.3 419.2L581.3 423.3L580 427.2L578.3 431L576.2 434.7L574 438.1L571.4 441.4L568.7 444.5L565.7 447.3L562.7 449.9L559.6 452.3L556.4 454.5L553.1 456.5L549.9 458.3L546.7 460L543.6 461.4L540.5 462.8L537.4 464L534.5 465.2L531.6 466.3L528.8 467.2L526.1 468.2L523.4 469.1L520.8 469.9L518.3 470.8L515.8 471.6L513.3 472.3L510.8 473.1L508.4 473.8L505.9 474.4L503.5 475L501 475.6L498.5 476.1L496.1 476.6L493.6 477L491 477.3L488.5 477.6L485.9 477.9L483.3 478.1L480.7 478.3L478 478.5L475.3 478.6L472.5 478.8L469.7 478.9L466.8 478.9L463.8 478.9L460.6 478.9L457.4 478.9L454.1 478.8L450.7 478.6L447.2 478.2L443.5 477.8L439.8 477.2L436.1 476.4L432.3 475.4L428.5 474.2L424.8 472.7L421.1 470.9L417.6 468.8L414.3 466.5L411.2 463.8L408.4 460.9L405.9 457.7L403.8 454.3L402.1 450.6L400.8 446.8L400 442.9L399.7 438.9L399.7 434.9L400.3 430.8L401.2 426.8L402.6 423Z" fill="#3a9d00"/>
<path d="M406.8 419.2L408.7 415.7L410.9 412.4L413.2 409.3L415.8 406.4L418.4 403.7L421.2 401.2L423.9 398.8L426.7 396.7L429.4 394.7L432.1 392.9L434.6 391.2L437.2 389.6L439.6 388L441.9 386.6L444.2 385.2L446.3 383.8L448.5 382.5L450.5 381.2L452.6 380L454.6 378.8L456.6 377.6L458.6 376.5L460.6 375.4L462.6 374.4L464.6 373.4L466.7 372.5L468.8 371.6L470.9 370.8L473 370.1L475.2 369.5L477.3 368.9L479.5 368.3L481.7 367.8L484 367.4L486.2 366.9L488.5 366.5L490.8 366.1L493.2 365.8L495.6 365.4L498.1 365L500.6 364.7L503.2 364.4L505.9 364L508.7 363.8L511.6 363.5L514.5 363.4L517.6 363.3L520.8 363.2L524.1 363.3L527.5 363.6L530.9 363.9L534.4 364.4L538 365.2L541.6 366.1L545.3 367.2L548.9 368.5L552.5 370.1L555.9 372L559.3 374.1L562.6 376.4L565.6 379L568.5 381.9L571.1 385L573.5 388.3L575.5 391.8L577.2 395.4L578.5 399.2L579.5 403.2L580.1 407.1L580.3 411.2L580.1 415.2L579.5 419.2L578.6 423.1L577.3 427L575.6 430.7L573.7 434.2L571.5 437.6L569 440.8L566.3 443.7L563.5 446.5L560.5 449L557.5 451.4L554.3 453.5L551.2 455.4L548 457.1L544.9 458.7L541.8 460.1L538.8 461.4L535.9 462.6L533 463.7L530.2 464.7L527.5 465.7L524.8 466.6L522.3 467.4L519.8 468.3L517.3 469.1L514.9 469.9L512.5 470.6L510.1 471.3L507.7 472L505.4 472.7L503 473.3L500.6 473.8L498.2 474.3L495.8 474.8L493.4 475.2L491 475.5L488.5 475.8L486 476.1L483.5 476.3L481 476.5L478.4 476.6L475.7 476.8L473 476.9L470.3 477L467.4 477.1L464.5 477.1L461.5 477.2L458.3 477.1L455.1 477L451.8 476.9L448.3 476.6L444.8 476.2L441.2 475.6L437.5 474.8L433.8 473.9L430.2 472.6L426.5 471.2L423 469.4L419.6 467.4L416.4 465.1L413.4 462.5L410.7 459.7L408.3 456.6L406.3 453.2L404.7 449.7L403.5 446L402.7 442.2L402.3 438.3L402.4 434.4L402.9 430.5L403.9 426.6L405.1 422.8Z" fill="#4ea700"/>
<path d="M409.3 419.2L411.1 415.8L413.2 412.6L415.5 409.6L417.9 406.8L420.5 404.1L423.1 401.7L425.8 399.4L428.5 397.3L431.1 395.4L433.7 393.6L436.2 392L438.7 390.4L441 389L443.3 387.5L445.5 386.2L447.6 384.9L449.7 383.6L451.7 382.4L453.7 381.2L455.6 380L457.6 378.9L459.5 377.8L461.4 376.7L463.4 375.7L465.4 374.8L467.4 373.9L469.4 373L471.4 372.3L473.5 371.6L475.6 370.9L477.7 370.3L479.8 369.8L481.9 369.3L484.1 368.9L486.3 368.5L488.5 368.1L490.7 367.8L493 367.4L495.4 367.1L497.7 366.8L500.2 366.5L502.7 366.1L505.3 365.9L508 365.6L510.8 365.4L513.7 365.2L516.7 365.1L519.8 365L523 365.1L526.2 365.3L529.6 365.6L533 366.1L536.5 366.8L540 367.7L543.6 368.7L547.1 370.1L550.5 371.6L553.9 373.4L557.2 375.4L560.3 377.7L563.3 380.3L566.1 383L568.6 386L570.9 389.2L572.8 392.6L574.5 396.2L575.8 399.9L576.7 403.6L577.3 407.5L577.5 411.4L577.3 415.3L576.8 419.2L575.9 423L574.6 426.7L573 430.3L571.1 433.8L569 437L566.6 440.1L564 443L561.2 445.7L558.3 448.1L555.4 450.4L552.3 452.4L549.2 454.3L546.2 455.9L543.1 457.4L540.1 458.8L537.2 460L534.3 461.2L531.5 462.2L528.8 463.2L526.2 464.1L523.6 465L521.1 465.8L518.7 466.6L516.3 467.4L514 468.2L511.7 468.9L509.4 469.6L507.1 470.3L504.8 470.9L502.5 471.5L500.2 472.1L497.9 472.6L495.6 473L493.2 473.4L490.9 473.7L488.5 474L486.1 474.3L483.7 474.5L481.2 474.7L478.7 474.8L476.1 474.9L473.5 475.1L470.9 475.2L468.1 475.3L465.3 475.3L462.3 475.4L459.3 475.4L456.1 475.3L452.9 475.1L449.5 474.9L446.1 474.5L442.6 473.9L439 473.2L435.4 472.3L431.9 471.1L428.4 469.7L424.9 468L421.7 466L418.6 463.8L415.7 461.2L413.1 458.5L410.8 455.4L408.9 452.2L407.3 448.8L406.1 445.2L405.4 441.5L405.1 437.7L405.1 433.9L405.6 430.1L406.5 426.4L407.7 422.7Z" fill="#63b100"/>
<path d="M411.7 419.2L413.4 415.9L415.4 412.8L417.6 409.9L420 407.1L422.4 404.6L425 402.2L427.6 400L430.1 398L432.7 396.1L435.2 394.4L437.7 392.8L440.1 391.2L442.4 389.8L444.6 388.5L446.8 387.2L448.9 385.9L450.9 384.7L452.8 383.5L454.8 382.4L456.7 381.3L458.5 380.1L460.4 379.1L462.3 378.1L464.2 377.1L466.1 376.1L468 375.3L470 374.4L471.9 373.7L473.9 373L475.9 372.4L478 371.8L480 371.3L482.1 370.8L484.2 370.4L486.4 370L488.5 369.7L490.7 369.3L492.9 369L495.1 368.7L497.5 368.4L499.8 368.1L502.3 367.9L504.8 367.6L507.4 367.4L510.1 367.1L512.9 367L515.7 366.9L518.7 366.8L521.8 366.9L525 367.1L528.3 367.4L531.6 367.8L535 368.5L538.4 369.3L541.8 370.3L545.2 371.6L548.6 373.1L551.9 374.8L555.1 376.8L558.1 379L561 381.5L563.7 384.1L566.1 387L568.3 390.1L570.2 393.4L571.8 396.9L573.1 400.4L574 404.1L574.6 407.9L574.8 411.7L574.6 415.4L574.1 419.2L573.2 422.9L572 426.5L570.5 430L568.6 433.3L566.5 436.5L564.2 439.5L561.7 442.3L559 444.9L556.2 447.2L553.3 449.4L550.3 451.4L547.3 453.2L544.3 454.8L541.4 456.2L538.4 457.5L535.6 458.7L532.8 459.8L530.1 460.8L527.5 461.7L524.9 462.6L522.5 463.5L520.1 464.3L517.7 465.1L515.4 465.8L513.2 466.6L510.9 467.3L508.7 468L506.5 468.6L504.3 469.3L502.1 469.9L499.9 470.4L497.6 470.9L495.4 471.3L493.1 471.7L490.8 472L488.5 472.3L486.2 472.5L483.8 472.7L481.4 472.9L479 473.1L476.5 473.2L474 473.3L471.4 473.4L468.7 473.5L466 473.6L463.1 473.6L460.2 473.6L457.1 473.5L454 473.4L450.7 473.1L447.4 472.8L444 472.2L440.5 471.5L437.1 470.6L433.6 469.5L430.2 468.1L426.9 466.5L423.8 464.5L420.8 462.4L418 459.9L415.5 457.2L413.3 454.3L411.4 451.1L409.9 447.8L408.8 444.3L408 440.8L407.7 437.1L407.8 433.4L408.2 429.8L409 426.2L410.2 422.6Z" fill="#78bc00"/>
<path d="M413.9 419.2L415.6 416L417.5 413L419.6 410.1L421.8 407.4L424.2 404.9L426.7 402.6L429.2 400.5L431.7 398.5L434.2 396.7L436.6 395L439.1 393.5L441.4 392L443.6 390.6L445.8 389.3L447.9 388.1L450 386.9L452 385.7L453.9 384.6L455.7 383.5L457.6 382.4L459.4 381.3L461.2 380.3L463.1 379.3L464.9 378.3L466.7 377.4L468.6 376.5L470.5 375.7L472.4 375L474.3 374.3L476.3 373.7L478.3 373.1L480.3 372.6L482.3 372.2L484.4 371.8L486.4 371.4L488.5 371.1L490.6 370.8L492.8 370.5L494.9 370.2L497.2 370L499.5 369.7L501.8 369.5L504.3 369.2L506.8 369L509.4 368.8L512.1 368.7L514.9 368.6L517.7 368.5L520.7 368.6L523.8 368.8L527 369.1L530.2 369.5L533.5 370.1L536.8 370.9L540.1 371.9L543.4 373.1L546.7 374.5L549.9 376.2L553 378.1L556 380.2L558.8 382.6L561.4 385.2L563.8 388L565.9 391L567.8 394.2L569.3 397.5L570.6 401L571.5 404.6L572 408.2L572.2 411.9L572.1 415.6L571.5 419.2L570.7 422.8L569.5 426.3L568 429.7L566.3 432.9L564.2 436L562 438.9L559.5 441.6L556.9 444.1L554.2 446.4L551.3 448.5L548.5 450.4L545.5 452.1L542.6 453.7L539.7 455.1L536.9 456.3L534.1 457.5L531.4 458.5L528.8 459.5L526.3 460.4L523.8 461.3L521.4 462.1L519.1 462.9L516.8 463.6L514.6 464.4L512.4 465.1L510.2 465.8L508.1 466.5L506 467.2L503.8 467.8L501.7 468.4L499.5 468.9L497.3 469.4L495.2 469.8L493 470.1L490.7 470.5L488.5 470.7L486.2 470.9L484 471.1L481.6 471.3L479.3 471.4L476.9 471.5L474.4 471.6L471.9 471.7L469.4 471.8L466.7 471.9L463.9 471.9L461.1 471.9L458.1 471.8L455.1 471.7L451.9 471.4L448.7 471.1L445.4 470.6L442.1 469.9L438.7 469L435.4 467.9L432.1 466.5L428.9 464.9L425.8 463.1L423 461L420.3 458.6L417.9 456L415.7 453.1L413.9 450.1L412.4 446.9L411.3 443.5L410.6 440.1L410.2 436.6L410.3 433L410.7 429.4L411.4 425.9L412.5 422.5Z" fill="#8dc600"/>
<path d="M416 419.2L417.6 416.1L419.4 413.2L421.4 410.4L423.6 407.8L425.9 405.3L428.3 403.1L430.7 401L433.1 399L435.6 397.3L438 395.6L440.3 394.1L442.6 392.7L444.8 391.4L447 390.1L449 388.9L451 387.8L453 386.6L454.8 385.5L456.7 384.5L458.5 383.4L460.3 382.4L462 381.4L463.8 380.4L465.6 379.5L467.4 378.6L469.2 377.8L471 377L472.9 376.2L474.7 375.6L476.6 374.9L478.6 374.4L480.5 373.9L482.5 373.5L484.5 373.1L486.5 372.7L488.5 372.4L490.6 372.2L492.6 371.9L494.8 371.7L496.9 371.4L499.1 371.2L501.4 371L503.8 370.8L506.2 370.6L508.7 370.4L511.3 370.3L514 370.2L516.8 370.2L519.7 370.3L522.6 370.4L525.7 370.7L528.8 371.1L532 371.7L535.2 372.5L538.5 373.4L541.7 374.6L544.9 376L548 377.6L551 379.4L553.9 381.4L556.6 383.7L559.2 386.2L561.5 389L563.6 391.9L565.4 395L566.9 398.2L568.1 401.5L569 405L569.6 408.5L569.8 412.1L569.6 415.7L569.1 419.2L568.3 422.7L567.1 426.1L565.7 429.4L564 432.5L562 435.5L559.8 438.3L557.4 440.9L554.9 443.4L552.2 445.6L549.4 447.6L546.6 449.5L543.8 451.1L541 452.6L538.2 454L535.4 455.2L532.7 456.3L530.1 457.3L527.6 458.3L525.1 459.2L522.7 460L520.4 460.8L518.2 461.6L516 462.3L513.8 463.1L511.7 463.8L509.6 464.5L507.5 465.1L505.5 465.8L503.4 466.4L501.3 466.9L499.2 467.4L497.1 467.9L495 468.3L492.8 468.7L490.7 469L488.5 469.2L486.3 469.4L484.1 469.6L481.8 469.8L479.6 469.9L477.2 470L474.9 470.1L472.4 470.1L469.9 470.2L467.4 470.2L464.7 470.2L461.9 470.2L459.1 470.1L456.2 470L453.1 469.7L450 469.4L446.8 468.8L443.6 468.2L440.4 467.3L437.2 466.2L434 464.9L430.9 463.4L428 461.6L425.2 459.5L422.6 457.2L420.3 454.7L418.2 452L416.4 449.1L414.9 446L413.8 442.7L413.1 439.4L412.7 436L412.7 432.6L413 429.1L413.7 425.7L414.7 422.4Z" fill="#a1d000"/>
<path d="M418.1 419.2L419.6 416.2L421.3 413.3L423.3 410.6L425.3 408.1L427.5 405.7L429.8 403.5L432.2 401.4L434.5 399.6L436.9 397.8L439.2 396.2L441.5 394.8L443.8 393.4L446 392.1L448.1 390.9L450.1 389.7L452.1 388.6L454 387.5L455.8 386.5L457.6 385.5L459.4 384.5L461.1 383.5L462.8 382.5L464.5 381.6L466.3 380.7L468 379.8L469.7 379L471.5 378.2L473.3 377.5L475.1 376.8L477 376.2L478.8 375.7L480.7 375.2L482.6 374.8L484.6 374.4L486.5 374.1L488.5 373.8L490.5 373.5L492.5 373.3L494.6 373.1L496.7 372.9L498.8 372.7L501 372.5L503.3 372.3L505.6 372.2L508 372.1L510.5 372L513.1 371.9L515.8 371.9L518.6 372L521.5 372.1L524.4 372.4L527.4 372.8L530.5 373.4L533.6 374.1L536.8 375L539.9 376.1L543 377.4L546 378.9L549 380.7L551.8 382.7L554.5 384.9L557 387.3L559.2 389.9L561.3 392.7L563.1 395.7L564.6 398.8L565.7 402.1L566.6 405.4L567.1 408.8L567.3 412.3L567.2 415.8L566.7 419.2L565.9 422.6L564.8 425.9L563.4 429.1L561.7 432.1L559.8 435L557.6 437.7L555.3 440.3L552.8 442.6L550.2 444.8L547.6 446.7L544.8 448.5L542.1 450.1L539.4 451.6L536.6 452.9L534 454.1L531.4 455.2L528.8 456.2L526.4 457.1L524 458L521.7 458.8L519.5 459.6L517.3 460.3L515.2 461.1L513.1 461.8L511 462.5L509 463.2L507 463.8L505 464.4L502.9 465L500.9 465.6L498.9 466.1L496.8 466.5L494.8 466.9L492.7 467.3L490.6 467.5L488.5 467.8L486.4 468L484.2 468.1L482 468.3L479.8 468.4L477.6 468.4L475.3 468.5L472.9 468.5L470.5 468.6L468 468.6L465.5 468.6L462.8 468.5L460.1 468.4L457.3 468.2L454.4 468L451.4 467.6L448.3 467.1L445.2 466.4L442.1 465.6L439.1 464.5L436 463.2L433 461.8L430.2 460L427.5 458.1L425 455.9L422.7 453.5L420.7 450.8L418.9 448L417.5 445.1L416.4 441.9L415.6 438.7L415.2 435.5L415.1 432.1L415.4 428.8L416 425.5L416.9 422.3Z" fill="#b6db00"/>
<path d="M420.3 419.2L421.7 416.3L423.3 413.5L425.1 410.9L427.1 408.4L429.2 406L431.4 403.9L433.6 401.9L435.9 400.1L438.2 398.4L440.5 396.8L442.8 395.4L445 394.1L447.1 392.8L449.2 391.7L451.2 390.5L453.1 389.5L454.9 388.5L456.8 387.5L458.5 386.5L460.2 385.5L461.9 384.6L463.6 383.6L465.3 382.7L466.9 381.9L468.6 381L470.3 380.2L472 379.4L473.8 378.7L475.5 378.1L477.3 377.5L479.1 377L481 376.5L482.8 376.1L484.7 375.7L486.6 375.4L488.5 375.1L490.4 374.9L492.4 374.7L494.4 374.5L496.4 374.3L498.5 374.2L500.6 374L502.8 373.9L505 373.8L507.4 373.7L509.8 373.6L512.2 373.6L514.8 373.6L517.5 373.7L520.3 373.9L523.1 374.1L526 374.5L529 375L532 375.7L535 376.6L538 377.6L541.1 378.9L544 380.3L546.9 382L549.6 383.9L552.2 386L554.7 388.3L556.9 390.9L558.9 393.6L560.7 396.4L562.1 399.5L563.3 402.6L564.1 405.9L564.7 409.2L564.9 412.5L564.7 415.9L564.2 419.2L563.5 422.5L562.4 425.7L561 428.7L559.3 431.7L557.5 434.5L555.4 437.1L553.1 439.6L550.7 441.8L548.2 443.9L545.6 445.8L543 447.6L540.3 449.1L537.7 450.5L535.1 451.8L532.5 453L530 454L527.6 455L525.2 455.9L522.9 456.7L520.7 457.5L518.5 458.3L516.4 459.1L514.4 459.8L512.3 460.5L510.4 461.2L508.4 461.8L506.4 462.5L504.5 463.1L502.5 463.7L500.6 464.2L498.6 464.7L496.6 465.1L494.6 465.5L492.6 465.8L490.5 466.1L488.5 466.3L486.4 466.5L484.4 466.6L482.2 466.7L480.1 466.8L477.9 466.9L475.7 466.9L473.5 466.9L471.1 466.9L468.7 466.9L466.3 466.9L463.7 466.8L461.1 466.6L458.4 466.4L455.6 466.2L452.8 465.8L449.9 465.2L446.9 464.6L444 463.7L441 462.7L438.1 461.5L435.2 460.1L432.5 458.4L429.9 456.5L427.4 454.5L425.2 452.1L423.2 449.6L421.5 447L420.1 444.1L419 441.1L418.2 438L417.7 434.9L417.6 431.7L417.8 428.5L418.3 425.3L419.2 422.2Z" fill="#cbe500"/>
<path d="M422.5 419.2L423.8 416.4L425.3 413.7L427 411.1L428.9 408.7L430.9 406.4L433 404.3L435.2 402.4L437.4 400.6L439.7 399L441.9 397.5L444.1 396.1L446.2 394.8L448.3 393.6L450.3 392.5L452.3 391.4L454.2 390.4L456 389.4L457.8 388.5L459.5 387.5L461.1 386.6L462.8 385.7L464.4 384.8L466 383.9L467.7 383.1L469.3 382.3L470.9 381.5L472.6 380.8L474.3 380.1L476 379.4L477.7 378.8L479.4 378.3L481.2 377.8L483 377.4L484.8 377.1L486.6 376.8L488.5 376.5L490.4 376.3L492.3 376.1L494.2 376L496.1 375.8L498.1 375.7L500.2 375.6L502.3 375.5L504.4 375.4L506.7 375.4L508.9 375.3L511.3 375.3L513.8 375.4L516.3 375.5L519 375.7L521.7 375.9L524.5 376.3L527.4 376.8L530.3 377.4L533.2 378.3L536.1 379.2L539 380.4L541.9 381.8L544.7 383.4L547.4 385.2L549.9 387.2L552.3 389.4L554.5 391.9L556.5 394.5L558.2 397.2L559.6 400.1L560.7 403.2L561.6 406.3L562.1 409.5L562.3 412.7L562.1 416L561.7 419.2L560.9 422.4L559.8 425.4L558.5 428.4L556.9 431.3L555.1 434L553 436.5L550.8 438.9L548.5 441L546.1 443.1L543.6 444.9L541.1 446.6L538.5 448.1L536 449.4L533.5 450.7L531 451.8L528.6 452.8L526.2 453.8L524 454.7L521.7 455.5L519.6 456.3L517.5 457L515.5 457.7L513.5 458.5L511.6 459.1L509.6 459.8L507.7 460.5L505.9 461.1L504 461.7L502.1 462.2L500.2 462.8L498.3 463.2L496.3 463.6L494.4 464L492.4 464.3L490.5 464.6L488.5 464.8L486.5 464.9L484.5 465.1L482.5 465.2L480.4 465.2L478.3 465.2L476.2 465.2L474 465.2L471.8 465.2L469.5 465.1L467.1 465.1L464.7 465L462.2 464.8L459.6 464.6L457 464.2L454.2 463.8L451.5 463.3L448.7 462.7L445.8 461.9L443 460.9L440.2 459.7L437.5 458.3L434.9 456.7L432.4 455L430 453L427.9 450.8L425.9 448.4L424.2 445.8L422.8 443.1L421.7 440.3L420.8 437.3L420.3 434.3L420.2 431.3L420.3 428.2L420.7 425.1L421.5 422.1Z" fill="#dfef00"/>
<path d="M424.9 419.2L426.1 416.5L427.5 413.9L429.1 411.4L430.9 409L432.8 406.9L434.8 404.8L436.9 402.9L439.1 401.2L441.2 399.6L443.4 398.2L445.5 396.8L447.6 395.6L449.6 394.4L451.6 393.4L453.5 392.3L455.3 391.4L457.1 390.4L458.8 389.5L460.5 388.7L462.1 387.8L463.7 386.9L465.3 386.1L466.9 385.3L468.4 384.4L470 383.7L471.6 382.9L473.2 382.2L474.8 381.5L476.4 380.9L478.1 380.3L479.8 379.8L481.5 379.3L483.2 378.9L484.9 378.6L486.7 378.3L488.5 378L490.3 377.8L492.1 377.7L494 377.6L495.9 377.5L497.8 377.4L499.7 377.3L501.7 377.3L503.8 377.2L505.9 377.2L508.1 377.2L510.4 377.2L512.7 377.3L515.1 377.4L517.6 377.6L520.2 377.8L522.9 378.2L525.6 378.7L528.4 379.3L531.2 380L534.1 381L536.9 382.1L539.6 383.4L542.4 384.9L545 386.6L547.4 388.5L549.8 390.6L551.9 392.9L553.8 395.4L555.5 398.1L556.9 400.9L558 403.8L558.8 406.8L559.3 409.9L559.5 413L559.3 416.1L558.9 419.2L558.1 422.2L557.1 425.2L555.8 428.1L554.2 430.8L552.5 433.4L550.5 435.8L548.4 438.1L546.2 440.2L543.8 442.1L541.4 443.9L539 445.5L536.6 446.9L534.1 448.3L531.7 449.5L529.4 450.5L527 451.5L524.8 452.5L522.6 453.3L520.5 454.1L518.4 454.9L516.5 455.6L514.5 456.3L512.6 457L510.7 457.7L508.9 458.4L507.1 459L505.2 459.6L503.4 460.2L501.6 460.7L499.8 461.2L497.9 461.7L496.1 462.1L494.2 462.4L492.3 462.7L490.4 462.9L488.5 463.1L486.6 463.3L484.6 463.4L482.7 463.4L480.7 463.5L478.7 463.5L476.6 463.5L474.6 463.4L472.4 463.4L470.2 463.3L468 463.2L465.7 463L463.3 462.8L460.9 462.6L458.4 462.2L455.8 461.8L453.2 461.3L450.5 460.6L447.9 459.8L445.2 458.9L442.5 457.8L439.9 456.5L437.4 455L435 453.3L432.7 451.4L430.6 449.3L428.8 447.1L427.1 444.6L425.7 442.1L424.5 439.4L423.7 436.6L423.2 433.7L422.9 430.8L423 427.8L423.3 424.9L424 422Z" fill="#f4fa00"/>
<path d="M427.6 419.2L428.7 416.6L430 414.1L431.4 411.7L433.1 409.4L434.9 407.3L436.8 405.4L438.8 403.5L440.9 401.9L442.9 400.3L445 398.9L447.1 397.6L449.1 396.5L451.1 395.4L453 394.3L454.8 393.4L456.6 392.5L458.4 391.6L460 390.7L461.7 389.9L463.2 389.1L464.8 388.3L466.3 387.5L467.8 386.7L469.3 385.9L470.8 385.2L472.3 384.4L473.8 383.7L475.4 383.1L476.9 382.5L478.5 381.9L480.1 381.4L481.8 380.9L483.4 380.6L485.1 380.2L486.8 379.9L488.5 379.7L490.2 379.5L492 379.4L493.8 379.3L495.5 379.2L497.4 379.2L499.2 379.2L501.1 379.1L503.1 379.1L505.1 379.2L507.2 379.2L509.3 379.2L511.5 379.3L513.8 379.4L516.2 379.6L518.7 379.9L521.2 380.2L523.8 380.7L526.5 381.2L529.1 382L531.9 382.8L534.6 383.9L537.2 385.1L539.8 386.5L542.4 388.1L544.7 389.9L547 391.9L549.1 394.1L550.9 396.5L552.5 399L553.9 401.7L555 404.5L555.8 407.3L556.2 410.3L556.4 413.3L556.3 416.2L555.8 419.2L555.1 422.1L554.1 424.9L552.9 427.7L551.4 430.3L549.7 432.8L547.8 435.1L545.8 437.3L543.6 439.3L541.4 441.1L539.1 442.8L536.8 444.3L534.4 445.7L532.1 447L529.8 448.1L527.6 449.2L525.4 450.1L523.2 451L521.1 451.8L519.1 452.6L517.2 453.4L515.3 454.1L513.4 454.8L511.6 455.5L509.8 456.1L508 456.8L506.3 457.4L504.5 457.9L502.8 458.5L501.1 459L499.3 459.5L497.5 459.9L495.7 460.3L494 460.6L492.1 460.9L490.3 461.1L488.5 461.3L486.7 461.4L484.8 461.5L482.9 461.6L481 461.6L479.1 461.6L477.2 461.5L475.2 461.5L473.2 461.4L471.1 461.2L469 461.1L466.8 460.9L464.5 460.7L462.2 460.4L459.9 460.1L457.5 459.6L455 459.1L452.5 458.5L450 457.7L447.5 456.8L445 455.7L442.5 454.5L440.1 453.1L437.8 451.5L435.6 449.7L433.6 447.8L431.8 445.6L430.2 443.4L428.8 440.9L427.6 438.4L426.8 435.7L426.2 433L425.9 430.2L425.9 427.4L426.2 424.7L426.8 421.9Z" fill="#fff500"/>
<path d="M430.5 419.2L431.5 416.7L432.7 414.3L434.1 412L435.6 409.9L437.3 407.9L439.1 406L441 404.2L442.9 402.6L444.9 401.2L446.9 399.8L448.9 398.6L450.8 397.5L452.7 396.4L454.6 395.5L456.4 394.6L458.1 393.7L459.8 392.9L461.4 392.1L462.9 391.3L464.5 390.5L465.9 389.8L467.4 389L468.8 388.3L470.2 387.6L471.7 386.8L473.1 386.1L474.5 385.5L476 384.8L477.5 384.2L479 383.7L480.5 383.2L482.1 382.8L483.7 382.4L485.3 382.1L486.9 381.8L488.5 381.6L490.1 381.5L491.8 381.3L493.5 381.3L495.2 381.2L496.9 381.2L498.7 381.2L500.5 381.2L502.3 381.3L504.2 381.3L506.1 381.4L508.2 381.4L510.2 381.5L512.4 381.7L514.6 381.9L517 382.1L519.4 382.4L521.8 382.8L524.3 383.4L526.9 384L529.5 384.8L532 385.8L534.6 386.9L537.1 388.3L539.5 389.8L541.8 391.5L543.9 393.3L545.9 395.4L547.7 397.6L549.3 400L550.6 402.6L551.6 405.2L552.4 407.9L552.9 410.7L553 413.6L552.9 416.4L552.5 419.2L551.8 422L550.8 424.7L549.6 427.2L548.2 429.7L546.5 432.1L544.7 434.3L542.8 436.3L540.8 438.2L538.6 440L536.5 441.6L534.3 443L532.1 444.3L529.9 445.5L527.7 446.6L525.6 447.6L523.5 448.6L521.5 449.4L519.5 450.2L517.6 451L515.8 451.7L514 452.4L512.2 453L510.5 453.7L508.8 454.3L507.1 454.9L505.4 455.5L503.8 456.1L502.1 456.6L500.5 457.1L498.8 457.6L497.1 458L495.4 458.3L493.7 458.6L492 458.9L490.2 459.1L488.5 459.3L486.7 459.4L485 459.4L483.2 459.5L481.4 459.5L479.6 459.4L477.7 459.4L475.9 459.3L474 459.2L472 459L470 458.8L468 458.6L465.9 458.4L463.7 458.1L461.5 457.7L459.3 457.3L456.9 456.8L454.6 456.2L452.3 455.4L449.9 454.6L447.5 453.6L445.2 452.4L443 451.1L440.8 449.6L438.7 447.9L436.8 446.1L435.1 444.1L433.5 442L432.1 439.7L431 437.3L430.2 434.8L429.5 432.3L429.2 429.7L429.1 427L429.3 424.4L429.8 421.8Z" fill="#ffe100"/>
<path d="M433.9 419.2L434.8 416.9L435.8 414.6L437.1 412.4L438.5 410.4L440.1 408.5L441.8 406.7L443.5 405L445.4 403.5L447.2 402.1L449.1 400.8L451 399.7L452.9 398.6L454.7 397.6L456.4 396.8L458.2 395.9L459.8 395.1L461.4 394.4L462.9 393.6L464.4 392.9L465.9 392.2L467.3 391.5L468.6 390.8L470 390.1L471.3 389.4L472.6 388.7L474 388.1L475.3 387.4L476.7 386.8L478.1 386.3L479.5 385.7L481 385.3L482.4 384.8L483.9 384.5L485.4 384.2L487 383.9L488.5 383.8L490.1 383.6L491.6 383.5L493.2 383.5L494.8 383.5L496.4 383.5L498.1 383.5L499.7 383.6L501.4 383.6L503.2 383.7L505 383.8L506.9 383.9L508.8 384L510.8 384.1L512.9 384.3L515.1 384.5L517.3 384.8L519.6 385.2L522 385.7L524.4 386.3L526.8 387L529.3 387.9L531.7 389L534 390.2L536.3 391.6L538.5 393.2L540.5 394.9L542.4 396.9L544.1 398.9L545.6 401.2L546.9 403.6L547.9 406L548.6 408.6L549 411.2L549.2 413.9L549.1 416.6L548.7 419.2L548 421.8L547.1 424.3L546 426.8L544.6 429.1L543.1 431.3L541.4 433.4L539.5 435.3L537.6 437.1L535.6 438.7L533.6 440.2L531.5 441.6L529.4 442.8L527.3 443.9L525.3 445L523.3 445.9L521.4 446.8L519.5 447.6L517.6 448.3L515.9 449.1L514.1 449.7L512.4 450.4L510.8 451L509.2 451.7L507.6 452.3L506 452.8L504.5 453.4L502.9 453.9L501.3 454.4L499.8 454.9L498.2 455.3L496.6 455.7L495 456.1L493.4 456.4L491.8 456.6L490.1 456.8L488.5 456.9L486.8 457L485.2 457.1L483.5 457.1L481.8 457.1L480.1 457L478.4 456.9L476.6 456.8L474.9 456.7L473 456.5L471.2 456.3L469.3 456.1L467.3 455.9L465.3 455.6L463.3 455.2L461.2 454.8L459.1 454.3L456.9 453.7L454.7 453L452.5 452.2L450.3 451.2L448.2 450.2L446.1 448.9L444 447.5L442.1 446L440.3 444.3L438.6 442.5L437.1 440.5L435.8 438.4L434.7 436.2L433.9 433.8L433.2 431.4L432.9 429L432.8 426.5L432.9 424.1L433.3 421.6Z" fill="#ffcc00"/>
<path d="M437.8 419.2L438.5 417L439.5 414.9L440.6 412.9L441.9 411L443.3 409.2L444.9 407.5L446.5 406L448.2 404.5L449.9 403.2L451.7 402L453.5 401L455.2 400L456.9 399.1L458.6 398.3L460.2 397.5L461.8 396.8L463.3 396.1L464.7 395.4L466.1 394.8L467.4 394.1L468.8 393.5L470 392.8L471.3 392.2L472.5 391.5L473.8 390.9L475 390.3L476.3 389.7L477.5 389.1L478.8 388.6L480.2 388.1L481.5 387.6L482.9 387.2L484.2 386.9L485.6 386.6L487.1 386.4L488.5 386.2L489.9 386.1L491.4 386.1L492.9 386L494.3 386L495.8 386.1L497.4 386.1L498.9 386.2L500.5 386.3L502.1 386.4L503.8 386.5L505.5 386.6L507.3 386.7L509.1 386.8L511.1 387L513.1 387.2L515.1 387.5L517.3 387.8L519.4 388.3L521.7 388.8L523.9 389.5L526.2 390.3L528.4 391.2L530.6 392.4L532.8 393.6L534.8 395.1L536.7 396.7L538.5 398.5L540.1 400.4L541.5 402.5L542.7 404.7L543.6 407L544.3 409.4L544.7 411.8L544.9 414.3L544.7 416.7L544.4 419.2L543.8 421.6L542.9 424L541.8 426.2L540.6 428.4L539.1 430.4L537.5 432.3L535.8 434.1L534 435.8L532.2 437.3L530.3 438.7L528.4 439.9L526.4 441.1L524.5 442.1L522.6 443.1L520.8 444L519 444.8L517.2 445.5L515.5 446.2L513.9 446.9L512.3 447.6L510.7 448.2L509.2 448.8L507.7 449.4L506.2 449.9L504.8 450.5L503.3 451L501.9 451.5L500.4 452L499 452.4L497.5 452.8L496 453.2L494.5 453.5L493 453.8L491.5 454L490 454.1L488.5 454.3L487 454.4L485.4 454.4L483.9 454.4L482.3 454.4L480.7 454.3L479.1 454.2L477.5 454.1L475.9 453.9L474.2 453.8L472.5 453.6L470.7 453.4L468.9 453.1L467.1 452.8L465.2 452.5L463.3 452L461.3 451.6L459.4 451L457.3 450.4L455.3 449.6L453.3 448.7L451.3 447.7L449.4 446.6L447.5 445.3L445.7 443.9L444 442.3L442.5 440.7L441.1 438.8L439.8 436.9L438.8 434.9L438 432.7L437.4 430.5L437 428.3L436.8 426L436.9 423.7L437.2 421.4Z" fill="#ffb700"/>
<path d="M442.1 419.2L442.7 417.2L443.6 415.3L444.6 413.4L445.7 411.7L447 410L448.4 408.5L449.9 407L451.5 405.7L453.1 404.5L454.7 403.4L456.3 402.5L457.9 401.6L459.5 400.7L461.1 400L462.6 399.3L464 398.6L465.4 398L466.7 397.4L468 396.8L469.2 396.2L470.4 395.7L471.6 395.1L472.7 394.5L473.9 393.9L475 393.3L476.2 392.7L477.3 392.2L478.5 391.6L479.7 391.1L480.9 390.7L482.1 390.3L483.3 389.9L484.6 389.6L485.9 389.3L487.2 389.1L488.5 389L489.8 388.9L491.2 388.9L492.5 388.9L493.8 388.9L495.2 388.9L496.6 389L498 389.1L499.4 389.2L500.9 389.3L502.4 389.4L504 389.5L505.6 389.6L507.3 389.7L509 389.9L510.8 390.1L512.7 390.3L514.7 390.6L516.7 391L518.7 391.5L520.8 392.1L522.8 392.9L524.9 393.7L526.9 394.7L528.9 395.9L530.8 397.2L532.5 398.7L534.2 400.3L535.6 402L536.9 403.9L538 405.9L538.9 408L539.5 410.2L539.9 412.4L540 414.7L539.9 417L539.6 419.2L539 421.4L538.2 423.6L537.2 425.6L536.1 427.6L534.8 429.5L533.3 431.2L531.8 432.8L530.1 434.3L528.4 435.7L526.7 437L524.9 438.1L523.1 439.2L521.4 440.2L519.7 441L518 441.8L516.4 442.6L514.8 443.3L513.2 443.9L511.7 444.5L510.3 445.1L508.8 445.7L507.4 446.2L506.1 446.8L504.7 447.3L503.4 447.8L502.1 448.3L500.7 448.8L499.4 449.2L498.1 449.6L496.7 450L495.4 450.3L494 450.6L492.7 450.8L491.3 451L489.9 451.2L488.5 451.3L487.1 451.4L485.7 451.4L484.3 451.4L482.8 451.3L481.4 451.3L479.9 451.2L478.5 451L477 450.9L475.4 450.7L473.9 450.5L472.3 450.3L470.7 450.1L469 449.8L467.3 449.5L465.6 449.1L463.8 448.6L462 448.1L460.2 447.5L458.4 446.8L456.6 446L454.8 445.1L453 444.1L451.3 442.9L449.6 441.6L448.1 440.2L446.7 438.7L445.4 437.1L444.2 435.3L443.3 433.5L442.5 431.5L441.9 429.5L441.5 427.5L441.3 425.4L441.4 423.3L441.6 421.2Z" fill="#ffa200"/>
<path d="M446.8 419.2L447.4 417.4L448.1 415.7L449 414L450 412.4L451.2 410.9L452.4 409.5L453.7 408.2L455.1 407.1L456.6 406L458 405L459.5 404.1L461 403.3L462.4 402.6L463.8 401.9L465.2 401.3L466.5 400.7L467.7 400.2L468.9 399.6L470.1 399.1L471.2 398.6L472.3 398.1L473.3 397.5L474.4 397L475.4 396.5L476.4 396L477.4 395.4L478.4 394.9L479.5 394.5L480.6 394L481.6 393.6L482.7 393.2L483.9 392.9L485 392.6L486.2 392.4L487.3 392.2L488.5 392.1L489.7 392L490.9 392L492.1 392L493.3 392L494.5 392.1L495.8 392.1L497 392.2L498.3 392.3L499.6 392.4L500.9 392.5L502.3 392.6L503.8 392.7L505.3 392.9L506.8 393L508.5 393.2L510.2 393.4L511.9 393.7L513.7 394L515.5 394.5L517.4 395L519.2 395.6L521.1 396.4L522.9 397.3L524.7 398.3L526.4 399.5L528 400.8L529.4 402.2L530.8 403.8L531.9 405.5L532.9 407.3L533.7 409.2L534.3 411.1L534.6 413.1L534.7 415.2L534.6 417.2L534.3 419.2L533.8 421.2L533.1 423.1L532.2 425L531.2 426.7L530 428.4L528.7 430L527.3 431.4L525.8 432.8L524.3 434L522.7 435.2L521.1 436.2L519.6 437.1L518 438L516.5 438.8L514.9 439.5L513.5 440.2L512.1 440.8L510.7 441.4L509.3 441.9L508 442.5L506.7 443L505.5 443.5L504.3 444L503.1 444.4L501.9 444.9L500.7 445.3L499.5 445.7L498.3 446.1L497.1 446.5L495.9 446.8L494.7 447.1L493.5 447.4L492.2 447.6L491 447.8L489.8 447.9L488.5 448L487.2 448.1L486 448.1L484.7 448.1L483.4 448L482.1 448L480.8 447.9L479.5 447.7L478.2 447.6L476.8 447.4L475.4 447.3L474 447L472.6 446.8L471.1 446.5L469.6 446.2L468 445.9L466.5 445.5L464.9 445L463.2 444.5L461.6 443.8L460 443.1L458.4 442.3L456.8 441.4L455.3 440.4L453.8 439.2L452.4 438L451.1 436.6L450 435.2L448.9 433.6L448 432L447.3 430.2L446.8 428.5L446.4 426.6L446.2 424.8L446.2 422.9L446.4 421Z" fill="#ff8e00"/>
<path d="M451.9 419.2L452.4 417.6L453 416.1L453.8 414.6L454.7 413.2L455.7 411.9L456.8 410.7L457.9 409.6L459.2 408.5L460.4 407.6L461.7 406.7L463 405.9L464.3 405.2L465.6 404.6L466.8 404L468 403.5L469.2 403L470.3 402.5L471.3 402L472.3 401.6L473.3 401.1L474.3 400.7L475.2 400.2L476.1 399.7L477 399.3L477.9 398.8L478.8 398.4L479.7 397.9L480.6 397.5L481.5 397.1L482.5 396.7L483.4 396.4L484.4 396.1L485.4 395.9L486.4 395.7L487.5 395.5L488.5 395.4L489.5 395.3L490.6 395.3L491.6 395.3L492.7 395.4L493.8 395.4L494.8 395.5L495.9 395.6L497.1 395.7L498.2 395.8L499.4 395.9L500.6 396L501.8 396.1L503.2 396.2L504.5 396.3L505.9 396.5L507.4 396.7L508.9 396.9L510.5 397.2L512.1 397.6L513.7 398L515.4 398.6L517 399.3L518.6 400L520.1 400.9L521.6 401.9L523 403.1L524.3 404.4L525.5 405.7L526.5 407.2L527.4 408.8L528.1 410.4L528.6 412.1L528.9 413.9L529 415.7L528.9 417.4L528.7 419.2L528.2 420.9L527.6 422.6L526.8 424.2L525.9 425.8L524.8 427.3L523.7 428.6L522.5 429.9L521.2 431.1L519.8 432.2L518.5 433.2L517.1 434.1L515.7 434.9L514.3 435.7L513 436.3L511.7 437L510.4 437.6L509.1 438.1L507.9 438.6L506.7 439.1L505.6 439.6L504.5 440L503.4 440.5L502.3 440.9L501.3 441.3L500.2 441.7L499.2 442.1L498.1 442.5L497.1 442.8L496.1 443.1L495 443.4L493.9 443.7L492.9 443.9L491.8 444.1L490.7 444.3L489.6 444.4L488.5 444.5L487.4 444.5L486.3 444.5L485.2 444.5L484 444.5L482.9 444.4L481.8 444.3L480.6 444.2L479.5 444.1L478.3 443.9L477.1 443.7L475.8 443.5L474.6 443.3L473.3 443.1L472 442.8L470.6 442.5L469.3 442.1L467.9 441.7L466.5 441.2L465.1 440.7L463.6 440.1L462.2 439.3L460.9 438.5L459.5 437.7L458.2 436.7L457 435.6L455.9 434.4L454.9 433.1L453.9 431.8L453.1 430.3L452.5 428.8L452 427.3L451.6 425.7L451.5 424.1L451.5 422.4L451.6 420.8Z" fill="#ff7900"/>
<path d="M457.4 419.2L457.8 417.9L458.3 416.6L459 415.3L459.7 414.1L460.6 413L461.5 412L462.5 411L463.5 410.1L464.6 409.3L465.7 408.6L466.8 407.9L467.9 407.3L469 406.8L470 406.3L471.1 405.8L472 405.4L473 405L473.9 404.6L474.8 404.2L475.6 403.8L476.4 403.5L477.2 403.1L478 402.7L478.7 402.3L479.5 401.9L480.2 401.5L481 401.1L481.8 400.8L482.6 400.4L483.4 400.1L484.2 399.8L485 399.6L485.9 399.4L486.7 399.2L487.6 399.1L488.5 399L489.4 398.9L490.3 398.9L491.2 398.9L492.1 399L493 399L493.9 399.1L494.8 399.2L495.8 399.3L496.7 399.4L497.7 399.4L498.7 399.5L499.8 399.6L500.9 399.7L502.1 399.8L503.3 400L504.5 400.1L505.8 400.3L507.1 400.6L508.5 400.9L509.9 401.3L511.3 401.7L512.6 402.3L514 403L515.3 403.7L516.6 404.6L517.8 405.5L518.9 406.6L519.9 407.8L520.8 409L521.5 410.4L522.1 411.7L522.5 413.2L522.8 414.7L522.9 416.2L522.8 417.7L522.6 419.2L522.2 420.7L521.7 422.1L521 423.5L520.2 424.8L519.3 426L518.4 427.2L517.3 428.3L516.2 429.3L515.1 430.2L513.9 431.1L512.7 431.8L511.6 432.5L510.4 433.2L509.3 433.7L508.2 434.3L507.1 434.8L506 435.2L505 435.7L504 436.1L503 436.5L502.1 436.9L501.2 437.3L500.2 437.6L499.3 438L498.5 438.3L497.6 438.7L496.7 439L495.8 439.3L494.9 439.5L494 439.8L493.1 440L492.2 440.2L491.3 440.4L490.4 440.5L489.4 440.6L488.5 440.7L487.6 440.7L486.6 440.7L485.7 440.7L484.7 440.7L483.8 440.6L482.8 440.5L481.8 440.4L480.8 440.3L479.8 440.1L478.8 440L477.8 439.8L476.7 439.6L475.6 439.4L474.5 439.2L473.4 438.9L472.2 438.6L471.1 438.2L469.9 437.8L468.7 437.4L467.5 436.8L466.3 436.2L465.1 435.6L464 434.8L462.9 434L461.9 433.1L460.9 432.1L460 431L459.2 429.8L458.6 428.6L458 427.4L457.6 426.1L457.2 424.7L457.1 423.3L457.1 422L457.2 420.6Z" fill="#ff6400"/>
<path d="M463.3 419.2L463.6 418.1L464 417.1L464.5 416L465.1 415.1L465.8 414.2L466.6 413.3L467.4 412.5L468.2 411.8L469.1 411.2L470 410.6L470.9 410L471.8 409.5L472.6 409.1L473.5 408.7L474.3 408.3L475.1 408L475.9 407.7L476.6 407.3L477.4 407L478 406.7L478.7 406.4L479.3 406.1L480 405.8L480.6 405.5L481.2 405.2L481.8 404.8L482.4 404.5L483.1 404.2L483.7 404L484.3 403.7L485 403.5L485.7 403.3L486.4 403.1L487.1 402.9L487.8 402.8L488.5 402.8L489.2 402.7L489.9 402.7L490.7 402.7L491.4 402.8L492.1 402.8L492.9 402.9L493.6 403L494.4 403L495.2 403.1L496 403.2L496.8 403.3L497.6 403.4L498.5 403.4L499.5 403.5L500.4 403.6L501.5 403.8L502.5 403.9L503.6 404.1L504.7 404.4L505.8 404.7L506.9 405.1L508.1 405.5L509.2 406L510.2 406.6L511.3 407.3L512.3 408.1L513.2 409L514 409.9L514.7 410.9L515.3 412L515.8 413.2L516.1 414.3L516.3 415.5L516.4 416.8L516.4 418L516.2 419.2L515.9 420.4L515.4 421.6L514.9 422.7L514.2 423.7L513.5 424.7L512.7 425.7L511.9 426.6L511 427.4L510.1 428.1L509.1 428.8L508.2 429.4L507.2 430L506.3 430.5L505.3 431L504.4 431.4L503.6 431.8L502.7 432.2L501.9 432.6L501.1 432.9L500.3 433.2L499.5 433.6L498.8 433.9L498 434.2L497.3 434.4L496.6 434.7L495.9 435L495.1 435.3L494.4 435.5L493.7 435.7L493 435.9L492.2 436.1L491.5 436.3L490.8 436.4L490 436.5L489.3 436.6L488.5 436.6L487.7 436.7L487 436.7L486.2 436.6L485.4 436.6L484.7 436.5L483.9 436.5L483.1 436.4L482.3 436.3L481.5 436.2L480.6 436L479.8 435.9L478.9 435.7L478.1 435.6L477.2 435.4L476.3 435.1L475.3 434.9L474.4 434.6L473.4 434.3L472.5 433.9L471.5 433.5L470.6 433L469.6 432.4L468.7 431.8L467.8 431.1L467 430.4L466.2 429.6L465.5 428.7L464.8 427.8L464.3 426.8L463.8 425.8L463.4 424.8L463.2 423.7L463 422.6L463 421.4L463.1 420.3Z" fill="#ff5000"/>
<path d="M469.5 419.2L469.7 418.4L470 417.6L470.4 416.8L470.8 416.1L471.3 415.4L471.9 414.8L472.5 414.2L473.1 413.6L473.8 413.1L474.5 412.7L475.2 412.3L475.8 411.9L476.5 411.6L477.2 411.3L477.8 411L478.4 410.7L479 410.5L479.5 410.2L480.1 410L480.6 409.8L481.1 409.5L481.6 409.3L482 409.1L482.5 408.8L483 408.6L483.4 408.4L483.9 408.1L484.4 407.9L484.9 407.7L485.4 407.5L485.9 407.3L486.4 407.2L486.9 407L487.4 406.9L488 406.8L488.5 406.8L489 406.8L489.6 406.8L490.1 406.8L490.7 406.8L491.2 406.8L491.8 406.9L492.4 407L492.9 407L493.5 407.1L494.1 407.1L494.8 407.2L495.4 407.3L496.1 407.3L496.8 407.4L497.5 407.5L498.3 407.6L499.1 407.7L499.9 407.8L500.7 408L501.5 408.3L502.4 408.5L503.2 408.9L504.1 409.3L504.9 409.7L505.7 410.3L506.4 410.8L507.1 411.5L507.7 412.2L508.3 413L508.7 413.8L509.1 414.6L509.4 415.5L509.5 416.4L509.6 417.4L509.5 418.3L509.4 419.2L509.2 420.1L508.8 421L508.4 421.8L507.9 422.6L507.4 423.4L506.8 424.1L506.1 424.8L505.5 425.4L504.8 425.9L504.1 426.5L503.3 426.9L502.6 427.4L501.9 427.7L501.2 428.1L500.5 428.4L499.9 428.7L499.2 429L498.6 429.3L498 429.5L497.4 429.8L496.8 430L496.3 430.3L495.7 430.5L495.1 430.7L494.6 430.9L494.1 431.1L493.5 431.3L493 431.5L492.4 431.7L491.9 431.8L491.3 432L490.8 432.1L490.2 432.2L489.6 432.3L489.1 432.3L488.5 432.4L487.9 432.4L487.3 432.4L486.8 432.4L486.2 432.3L485.6 432.3L485 432.2L484.4 432.2L483.8 432.1L483.2 432L482.6 431.9L481.9 431.8L481.3 431.7L480.6 431.5L480 431.4L479.3 431.2L478.6 431L477.9 430.8L477.2 430.5L476.4 430.3L475.7 429.9L475 429.6L474.3 429.2L473.6 428.7L472.9 428.2L472.3 427.6L471.7 427L471.1 426.4L470.6 425.7L470.2 425L469.9 424.2L469.6 423.4L469.4 422.6L469.3 421.7L469.2 420.9L469.3 420Z" fill="#ff3b00"/>
<path d="M475.9 419.2L476.1 418.7L476.3 418.1L476.5 417.6L476.8 417.1L477.1 416.7L477.5 416.3L477.9 415.9L478.3 415.5L478.8 415.2L479.2 414.9L479.7 414.6L480.1 414.4L480.6 414.1L481 413.9L481.4 413.8L481.8 413.6L482.2 413.4L482.6 413.3L482.9 413.1L483.3 413L483.6 412.8L483.9 412.7L484.2 412.5L484.5 412.3L484.8 412.2L485.2 412L485.5 411.9L485.8 411.7L486.1 411.6L486.4 411.5L486.8 411.3L487.1 411.2L487.4 411.1L487.8 411.1L488.1 411L488.5 411L488.9 411L489.2 411L489.6 411L489.9 411L490.3 411L490.7 411.1L491.1 411.1L491.4 411.2L491.8 411.2L492.2 411.2L492.6 411.3L493.1 411.3L493.5 411.4L494 411.4L494.4 411.5L494.9 411.5L495.5 411.6L496 411.7L496.5 411.8L497.1 412L497.7 412.2L498.2 412.4L498.8 412.6L499.3 412.9L499.9 413.3L500.3 413.7L500.8 414.1L501.2 414.6L501.6 415.1L501.9 415.6L502.1 416.2L502.3 416.8L502.4 417.4L502.4 418L502.4 418.6L502.3 419.2L502.2 419.8L501.9 420.4L501.7 420.9L501.3 421.5L501 422L500.6 422.4L500.2 422.9L499.7 423.3L499.3 423.7L498.8 424L498.3 424.3L497.8 424.6L497.4 424.8L496.9 425.1L496.4 425.3L496 425.5L495.6 425.7L495.2 425.9L494.8 426L494.4 426.2L494 426.4L493.6 426.5L493.3 426.7L492.9 426.8L492.5 427L492.2 427.1L491.8 427.2L491.5 427.3L491.1 427.4L490.7 427.5L490.4 427.6L490 427.7L489.6 427.8L489.3 427.8L488.9 427.9L488.5 427.9L488.1 427.9L487.7 427.9L487.4 427.9L487 427.9L486.6 427.9L486.2 427.8L485.8 427.8L485.4 427.7L485 427.7L484.6 427.6L484.2 427.5L483.7 427.4L483.3 427.3L482.9 427.2L482.4 427.1L482 427L481.5 426.9L481 426.7L480.5 426.5L480.1 426.3L479.6 426L479.1 425.8L478.7 425.5L478.2 425.1L477.8 424.8L477.4 424.4L477 423.9L476.7 423.5L476.4 423L476.2 422.5L476 422L475.9 421.4L475.8 420.9L475.8 420.3L475.8 419.8Z" fill="#ff2600"/>
</g>
<path d="M330.8 419.2L334.8 412.5L339.3 406.1L344 400.2L348.8 394.6L353.4 389.3L357.9 384.2L362.2 379.4L366.3 374.7L370.4 370.3L374.5 366L378.6 362L382.8 358.2L387 354.6L391.3 351.1L395.6 347.9L399.9 344.8L404.1 341.9L408.4 339.1L412.6 336.4L416.9 333.9L421.3 331.6L425.7 329.5L430.1 327.6L434.6 325.8L439 324.2L443.5 322.6L447.9 321.1L452.2 319.6L456.6 318.1L461 316.7L465.5 315.5L470 314.3L474.6 313.3L479.2 312.4L483.8 311.5L488.5 310.7L493.3 309.8L498.2 308.8L503.2 307.7L508.4 306.4L513.8 305.1L519.4 303.9L525.2 302.7L531.2 301.8L537.4 301.2L543.7 300.8L550.2 300.8L556.8 300.9L563.6 301.3L570.7 301.8L578 302.6L585.4 303.7L593.1 305.1L600.8 306.9L608.5 309.2L616.1 312.1L623.6 315.5L630.9 319.5L638 324L644.9 328.9L651.7 334.2L658.4 340L664.7 346.2L670.6 352.9L675.8 360.1L679.9 367.9L682.7 376.1L683.9 384.7L683.4 393.5L681.1 402.3L677.2 411L672.1 419.2L666.1 427L659.7 434.2L653.4 440.9L647.4 447.2L642.1 453.2L637.4 459.1L633.4 464.9L629.8 470.6L626.6 476.4L623.4 482.1L620.1 487.7L616.5 493.1L612.7 498.3L608.7 503.3L604.4 508.1L599.9 512.7L595.3 517.1L590.6 521.3L585.7 525.3L580.7 529L575.4 532.5L570 535.6L564.4 538.4L558.7 540.7L552.8 542.7L546.8 544.3L540.8 545.6L534.9 546.6L528.9 547.3L523 547.8L517.1 548L511.2 548L505.4 547.6L499.7 547L494 546L488.5 544.9L483.1 543.5L477.7 542.1L472.5 540.7L467.3 539.2L462.2 537.8L457.1 536.5L452 535.1L446.9 533.6L441.7 532.1L436.6 530.5L431.4 528.8L426.3 527L421 525.2L415.7 523.2L410.2 521.2L404.6 519.1L399 516.9L393.2 514.5L387.4 511.8L381.7 508.8L375.9 505.6L370.2 502L364.6 498.2L359 494L353.4 489.5L347.9 484.8L342.6 479.6L337.6 474.1L333.1 468.2L329.3 461.8L326.5 455.1L324.9 448L324.5 440.8L325.5 433.5L327.6 426.2Z" fill="none" stroke="#000" stroke-width="3.0"/>
<path d="M350.1 419.2L353 413.3L356.4 407.6L360.2 402.3L364.3 397.3L368.6 392.6L372.9 388.2L377.2 384.1L381.4 380.2L385.5 376.5L389.5 373.1L393.5 369.7L397.4 366.6L401.2 363.6L405 360.8L408.9 358.1L412.7 355.6L416.6 353.3L420.5 351.2L424.4 349.3L428.3 347.5L432.1 345.8L436 344.2L439.7 342.6L443.4 341.2L447.1 339.7L450.8 338.3L454.4 336.9L458.1 335.6L461.7 334.3L465.4 333.1L469.2 332L472.9 331L476.8 330L480.6 329.2L484.5 328.4L488.5 327.7L492.5 327L496.6 326.3L500.8 325.6L505.1 324.9L509.6 324.2L514.1 323.6L518.9 322.9L523.7 322.4L528.8 321.9L534 321.6L539.3 321.6L544.8 321.7L550.3 322.2L555.9 322.9L561.6 323.9L567.3 325.2L573.1 326.9L578.9 328.8L584.8 331L590.7 333.5L596.6 336.3L602.5 339.4L608.4 342.8L614.1 346.7L619.7 350.9L625 355.6L629.9 360.6L634.3 366.1L638 372.1L641 378.3L643.1 384.9L644.4 391.7L644.8 398.6L644.3 405.6L642.9 412.5L640.7 419.2L637.9 425.7L634.5 432L630.8 437.9L626.7 443.6L622.5 448.9L618.3 454L614 458.8L609.9 463.4L605.8 467.8L601.8 472.1L598 476.2L594.1 480.2L590.3 484.1L586.5 487.8L582.7 491.4L578.7 494.9L574.7 498.2L570.6 501.3L566.4 504.2L562.1 506.9L557.7 509.4L553.3 511.7L548.8 513.8L544.2 515.8L539.7 517.5L535 519L530.4 520.3L525.7 521.4L521 522.2L516.3 522.8L511.6 523.2L506.9 523.3L502.2 523.2L497.6 522.9L493 522.4L488.5 521.8L484.1 521.1L479.7 520.3L475.3 519.6L470.9 518.8L466.6 518L462.2 517.2L457.9 516.4L453.4 515.6L448.9 514.7L444.4 513.7L439.8 512.7L435.2 511.5L430.6 510.1L425.9 508.6L421.2 507L416.4 505.2L411.5 503.2L406.6 501.1L401.5 498.9L396.4 496.5L391.1 493.9L385.8 491.1L380.4 488.1L375 484.7L369.8 481L364.8 476.9L360.1 472.4L355.9 467.5L352.3 462.2L349.4 456.5L347.3 450.5L346.1 444.3L345.8 438L346.4 431.6L347.9 425.3Z" fill="none" stroke="#000" stroke-width="2.1"/>
<path d="M377.6 419.2L380.2 414.5L383.2 410L386.5 405.8L390 401.8L393.6 398.2L397.4 394.8L401.1 391.6L404.8 388.7L408.4 386L411.9 383.5L415.3 381.1L418.5 378.8L421.6 376.6L424.7 374.5L427.6 372.5L430.5 370.5L433.3 368.6L436.1 366.8L439 365.1L441.8 363.5L444.6 362L447.5 360.7L450.4 359.4L453.3 358.2L456.2 357.2L459.1 356.2L462 355.3L464.9 354.4L467.8 353.5L470.7 352.7L473.6 351.9L476.5 351.1L479.4 350.2L482.4 349.3L485.4 348.5L488.5 347.6L491.7 346.7L494.9 345.9L498.3 345.1L501.7 344.4L505.2 343.8L508.8 343.3L512.6 342.9L516.3 342.7L520.2 342.6L524.2 342.7L528.2 342.9L532.3 343.3L536.5 343.8L540.8 344.5L545.2 345.3L549.6 346.3L554.2 347.5L558.8 348.9L563.5 350.4L568.3 352.3L573.1 354.3L577.8 356.7L582.5 359.3L587.1 362.3L591.4 365.6L595.6 369.3L599.4 373.3L602.8 377.6L605.8 382.2L608.2 387.1L610.2 392.2L611.5 397.5L612.2 402.9L612.4 408.4L611.9 413.8L610.9 419.2L609.3 424.5L607.3 429.6L604.9 434.5L602 439.2L598.9 443.7L595.6 447.9L592 451.8L588.4 455.6L584.7 459L580.9 462.3L577.1 465.3L573.3 468.2L569.6 470.8L565.8 473.3L562.1 475.7L558.5 477.9L554.8 480L551.2 481.9L547.6 483.7L544 485.3L540.4 486.8L536.8 488.2L533.2 489.4L529.7 490.5L526.2 491.5L522.7 492.4L519.2 493.2L515.7 494L512.3 494.6L508.9 495.2L505.5 495.8L502.1 496.3L498.7 496.7L495.3 497.1L491.9 497.5L488.5 497.8L485.1 498.1L481.6 498.2L478.1 498.3L474.5 498.4L471 498.3L467.3 498.2L463.7 497.9L460 497.6L456.2 497.2L452.4 496.7L448.5 496.1L444.5 495.5L440.4 494.7L436.2 493.9L431.9 493L427.5 492L422.9 490.8L418.3 489.4L413.6 487.8L408.9 486L404.2 483.9L399.6 481.5L395.1 478.7L390.8 475.6L386.8 472.1L383.2 468.3L379.9 464.2L377.2 459.7L375.1 455L373.6 450L372.7 444.9L372.4 439.7L372.8 434.4L373.9 429.2L375.5 424.1Z" fill="none" stroke="#000" stroke-width="2.1"/>
<path d="M409.6 419.2L411.4 415.8L413.5 412.6L415.8 409.6L418.2 406.8L420.8 404.2L423.4 401.8L426 399.5L428.7 397.4L431.3 395.5L433.9 393.7L436.4 392.1L438.9 390.5L441.2 389.1L443.5 387.7L445.7 386.3L447.8 385.1L449.9 383.8L451.9 382.6L453.8 381.4L455.8 380.2L457.7 379.1L459.6 378L461.6 376.9L463.5 375.9L465.5 375L467.5 374.1L469.5 373.2L471.5 372.5L473.5 371.8L475.6 371.1L477.7 370.6L479.8 370L482 369.6L484.1 369.1L486.3 368.7L488.5 368.4L490.7 368L493 367.7L495.3 367.3L497.7 367L500.1 366.7L502.6 366.4L505.2 366.1L507.9 365.8L510.7 365.6L513.6 365.4L516.5 365.3L519.6 365.3L522.8 365.4L526.1 365.6L529.4 365.9L532.8 366.4L536.3 367L539.8 367.9L543.3 369L546.8 370.3L550.3 371.8L553.6 373.6L556.9 375.6L560 377.9L563 380.4L565.7 383.2L568.3 386.2L570.5 389.4L572.5 392.7L574.1 396.3L575.4 399.9L576.3 403.7L576.9 407.6L577.1 411.4L576.9 415.3L576.4 419.2L575.5 423L574.2 426.7L572.6 430.3L570.8 433.7L568.6 437L566.2 440L563.7 442.9L560.9 445.6L558 448L555.1 450.2L552 452.3L549 454.1L545.9 455.8L542.9 457.3L539.9 458.6L536.9 459.8L534.1 461L531.3 462L528.6 463L526 463.9L523.4 464.7L521 465.6L518.6 466.4L516.2 467.2L513.9 467.9L511.6 468.7L509.3 469.4L507 470.1L504.7 470.7L502.5 471.3L500.2 471.8L497.9 472.3L495.6 472.8L493.2 473.2L490.9 473.5L488.5 473.8L486.1 474L483.7 474.2L481.2 474.4L478.7 474.6L476.2 474.7L473.6 474.8L470.9 474.9L468.2 475L465.4 475.1L462.4 475.1L459.4 475.1L456.3 475L453 474.9L449.7 474.6L446.3 474.2L442.8 473.7L439.2 473L435.7 472L432.1 470.9L428.6 469.4L425.2 467.8L422 465.8L418.9 463.6L416 461L413.4 458.3L411.2 455.3L409.2 452L407.7 448.6L406.5 445L405.8 441.4L405.4 437.6L405.5 433.8L406 430.1L406.9 426.3L408.1 422.7Z" fill="none" stroke="#000" stroke-width="2.1"/>
<path d="M431.8 419.2L432.7 416.8L433.8 414.4L435.2 412.2L436.7 410.1L438.3 408.1L440.1 406.2L441.9 404.5L443.8 402.9L445.7 401.5L447.7 400.2L449.6 399L451.6 397.9L453.4 396.9L455.3 395.9L457 395L458.7 394.2L460.4 393.4L462 392.7L463.5 391.9L465 391.2L466.4 390.4L467.8 389.7L469.2 388.9L470.6 388.2L472 387.5L473.4 386.8L474.8 386.2L476.3 385.6L477.7 385L479.2 384.4L480.7 383.9L482.2 383.5L483.8 383.1L485.3 382.8L486.9 382.6L488.5 382.4L490.1 382.2L491.7 382.1L493.4 382.1L495.1 382.1L496.7 382L498.5 382.1L500.2 382.1L502 382.1L503.8 382.2L505.7 382.3L507.7 382.3L509.7 382.4L511.8 382.6L514 382.8L516.3 383L518.6 383.3L521 383.7L523.5 384.2L526 384.9L528.5 385.6L531 386.6L533.5 387.7L536 389L538.3 390.4L540.6 392.1L542.7 393.9L544.7 395.9L546.4 398.1L547.9 400.5L549.2 402.9L550.3 405.5L551 408.2L551.5 410.9L551.6 413.7L551.5 416.4L551.1 419.2L550.4 421.9L549.5 424.5L548.3 427.1L546.9 429.5L545.3 431.8L543.5 433.9L541.6 435.9L539.6 437.8L537.5 439.5L535.4 441.1L533.3 442.5L531.1 443.8L528.9 445L526.8 446L524.7 447L522.7 447.9L520.7 448.7L518.8 449.5L517 450.3L515.2 451L513.4 451.7L511.7 452.3L510 453L508.3 453.6L506.7 454.2L505.1 454.8L503.5 455.3L501.8 455.8L500.2 456.3L498.6 456.8L496.9 457.2L495.3 457.5L493.6 457.8L491.9 458.1L490.2 458.3L488.5 458.4L486.8 458.5L485.1 458.6L483.3 458.6L481.6 458.6L479.8 458.6L478 458.5L476.1 458.4L474.3 458.3L472.4 458.1L470.4 457.9L468.4 457.7L466.4 457.5L464.3 457.2L462.2 456.8L460 456.4L457.7 455.9L455.5 455.3L453.2 454.5L450.9 453.7L448.6 452.7L446.3 451.6L444.1 450.3L442 448.8L440 447.2L438.1 445.4L436.4 443.5L434.8 441.4L433.5 439.2L432.4 436.9L431.5 434.5L430.9 432L430.5 429.4L430.5 426.8L430.6 424.3L431.1 421.7Z" fill="none" stroke="#000" stroke-width="2.1"/>
<g clip-path="url(#clipA)"><g filter="url(#blb)">
<ellipse cx="166" cy="97" rx="55" ry="24" fill="#a4a4fb" transform="rotate(-4 166 97)"/><ellipse cx="150" cy="80" rx="30" ry="14" fill="#b4b4fb"/>
<ellipse cx="759" cy="94" rx="34" ry="11" fill="#a4a4fa" transform="rotate(-32 759 94)"/>
<ellipse cx="136" cy="638" rx="11" ry="13" fill="#8888fa"/>
</g></g>
<path d="M478.7 399.6L488.5 409.4L498.3 399.6L508.1 409.4L498.3 419.2L508.1 429L498.3 438.8L488.5 429L478.7 438.8L468.9 429L478.7 419.2L468.9 409.4Z" fill="#000" stroke="#fff" stroke-width="3" stroke-linejoin="miter"/>
<ellipse cx="222.2" cy="685" rx="76.1" ry="44.4" fill="#ff0000" transform="rotate(-12 222.2 685)"/>
<line x1="755.1" y1="578" x2="755.1" y2="668.5" stroke="#000" stroke-width="4.4" />
<text x="813.7" y="675.5" font-size="47.4" text-anchor="start" font-family="'DejaVu Sans', 'Liberation Sans', sans-serif" transform="rotate(-90 813.7 675.5)" >2000 AU</text>
<text x="502" y="110.5" font-size="47.4" text-anchor="middle" font-family="'DejaVu Sans', 'Liberation Sans', sans-serif" >(a) 1.3mm Cont (ACA)</text>
<line x1="168.7" y1="773.8" x2="168.7" y2="766.8" stroke="#000" stroke-width="2.1" />
<line x1="168.7" y1="63.6" x2="168.7" y2="70.6" stroke="#000" stroke-width="2.1" />
<line x1="133.2" y1="738.3" x2="140.2" y2="738.3" stroke="#000" stroke-width="2.1" />
<line x1="843" y1="738.3" x2="836" y2="738.3" stroke="#000" stroke-width="2.1" />
<line x1="204.2" y1="773.8" x2="204.2" y2="766.8" stroke="#000" stroke-width="2.1" />
<line x1="204.2" y1="63.6" x2="204.2" y2="70.6" stroke="#000" stroke-width="2.1" />
<line x1="133.2" y1="702.8" x2="140.2" y2="702.8" stroke="#000" stroke-width="2.1" />
<line x1="843" y1="702.8" x2="836" y2="702.8" stroke="#000" stroke-width="2.1" />
<line x1="239.7" y1="773.8" x2="239.7" y2="766.8" stroke="#000" stroke-width="2.1" />
<line x1="239.7" y1="63.6" x2="239.7" y2="70.6" stroke="#000" stroke-width="2.1" />
<line x1="133.2" y1="667.3" x2="140.2" y2="667.3" stroke="#000" stroke-width="2.1" />
<line x1="843" y1="667.3" x2="836" y2="667.3" stroke="#000" stroke-width="2.1" />
<line x1="275.2" y1="773.8" x2="275.2" y2="766.8" stroke="#000" stroke-width="2.1" />
<line x1="275.2" y1="63.6" x2="275.2" y2="70.6" stroke="#000" stroke-width="2.1" />
<line x1="133.2" y1="631.8" x2="140.2" y2="631.8" stroke="#000" stroke-width="2.1" />
<line x1="843" y1="631.8" x2="836" y2="631.8" stroke="#000" stroke-width="2.1" />
<line x1="310.6" y1="773.8" x2="310.6" y2="755.3" stroke="#000" stroke-width="2.1" />
<line x1="310.6" y1="63.6" x2="310.6" y2="82.1" stroke="#000" stroke-width="2.1" />
<line x1="133.2" y1="596.2" x2="151.7" y2="596.2" stroke="#000" stroke-width="2.1" />
<line x1="843" y1="596.2" x2="824.5" y2="596.2" stroke="#000" stroke-width="2.1" />
<line x1="346.1" y1="773.8" x2="346.1" y2="766.8" stroke="#000" stroke-width="2.1" />
<line x1="346.1" y1="63.6" x2="346.1" y2="70.6" stroke="#000" stroke-width="2.1" />
<line x1="133.2" y1="560.7" x2="140.2" y2="560.7" stroke="#000" stroke-width="2.1" />
<line x1="843" y1="560.7" x2="836" y2="560.7" stroke="#000" stroke-width="2.1" />
<line x1="381.6" y1="773.8" x2="381.6" y2="766.8" stroke="#000" stroke-width="2.1" />
<line x1="381.6" y1="63.6" x2="381.6" y2="70.6" stroke="#000" stroke-width="2.1" />
<line x1="133.2" y1="525.2" x2="140.2" y2="525.2" stroke="#000" stroke-width="2.1" />
<line x1="843" y1="525.2" x2="836" y2="525.2" stroke="#000" stroke-width="2.1" />
<line x1="417.1" y1="773.8" x2="417.1" y2="766.8" stroke="#000" stroke-width="2.1" />
<line x1="417.1" y1="63.6" x2="417.1" y2="70.6" stroke="#000" stroke-width="2.1" />
<line x1="133.2" y1="489.7" x2="140.2" y2="489.7" stroke="#000" stroke-width="2.1" />
<line x1="843" y1="489.7" x2="836" y2="489.7" stroke="#000" stroke-width="2.1" />
<line x1="452.6" y1="773.8" x2="452.6" y2="766.8" stroke="#000" stroke-width="2.1" />
<line x1="452.6" y1="63.6" x2="452.6" y2="70.6" stroke="#000" stroke-width="2.1" />
<line x1="133.2" y1="454.2" x2="140.2" y2="454.2" stroke="#000" stroke-width="2.1" />
<line x1="843" y1="454.2" x2="836" y2="454.2" stroke="#000" stroke-width="2.1" />
<line x1="488.1" y1="773.8" x2="488.1" y2="755.3" stroke="#000" stroke-width="2.1" />
<line x1="488.1" y1="63.6" x2="488.1" y2="82.1" stroke="#000" stroke-width="2.1" />
<line x1="133.2" y1="418.7" x2="151.7" y2="418.7" stroke="#000" stroke-width="2.1" />
<line x1="843" y1="418.7" x2="824.5" y2="418.7" stroke="#000" stroke-width="2.1" />
<line x1="523.6" y1="773.8" x2="523.6" y2="766.8" stroke="#000" stroke-width="2.1" />
<line x1="523.6" y1="63.6" x2="523.6" y2="70.6" stroke="#000" stroke-width="2.1" />
<line x1="133.2" y1="383.2" x2="140.2" y2="383.2" stroke="#000" stroke-width="2.1" />
<line x1="843" y1="383.2" x2="836" y2="383.2" stroke="#000" stroke-width="2.1" />
<line x1="559.1" y1="773.8" x2="559.1" y2="766.8" stroke="#000" stroke-width="2.1" />
<line x1="559.1" y1="63.6" x2="559.1" y2="70.6" stroke="#000" stroke-width="2.1" />
<line x1="133.2" y1="347.7" x2="140.2" y2="347.7" stroke="#000" stroke-width="2.1" />
<line x1="843" y1="347.7" x2="836" y2="347.7" stroke="#000" stroke-width="2.1" />
<line x1="594.6" y1="773.8" x2="594.6" y2="766.8" stroke="#000" stroke-width="2.1" />
<line x1="594.6" y1="63.6" x2="594.6" y2="70.6" stroke="#000" stroke-width="2.1" />
<line x1="133.2" y1="312.2" x2="140.2" y2="312.2" stroke="#000" stroke-width="2.1" />
<line x1="843" y1="312.2" x2="836" y2="312.2" stroke="#000" stroke-width="2.1" />
<line x1="630.1" y1="773.8" x2="630.1" y2="766.8" stroke="#000" stroke-width="2.1" />
<line x1="630.1" y1="63.6" x2="630.1" y2="70.6" stroke="#000" stroke-width="2.1" />
<line x1="133.2" y1="276.7" x2="140.2" y2="276.7" stroke="#000" stroke-width="2.1" />
<line x1="843" y1="276.7" x2="836" y2="276.7" stroke="#000" stroke-width="2.1" />
<line x1="665.5" y1="773.8" x2="665.5" y2="755.3" stroke="#000" stroke-width="2.1" />
<line x1="665.5" y1="63.6" x2="665.5" y2="82.1" stroke="#000" stroke-width="2.1" />
<line x1="133.2" y1="241.1" x2="151.7" y2="241.1" stroke="#000" stroke-width="2.1" />
<line x1="843" y1="241.1" x2="824.5" y2="241.1" stroke="#000" stroke-width="2.1" />
<line x1="701" y1="773.8" x2="701" y2="766.8" stroke="#000" stroke-width="2.1" />
<line x1="701" y1="63.6" x2="701" y2="70.6" stroke="#000" stroke-width="2.1" />
<line x1="133.2" y1="205.6" x2="140.2" y2="205.6" stroke="#000" stroke-width="2.1" />
<line x1="843" y1="205.6" x2="836" y2="205.6" stroke="#000" stroke-width="2.1" />
<line x1="736.5" y1="773.8" x2="736.5" y2="766.8" stroke="#000" stroke-width="2.1" />
<line x1="736.5" y1="63.6" x2="736.5" y2="70.6" stroke="#000" stroke-width="2.1" />
<line x1="133.2" y1="170.1" x2="140.2" y2="170.1" stroke="#000" stroke-width="2.1" />
<line x1="843" y1="170.1" x2="836" y2="170.1" stroke="#000" stroke-width="2.1" />
<line x1="772" y1="773.8" x2="772" y2="766.8" stroke="#000" stroke-width="2.1" />
<line x1="772" y1="63.6" x2="772" y2="70.6" stroke="#000" stroke-width="2.1" />
<line x1="133.2" y1="134.6" x2="140.2" y2="134.6" stroke="#000" stroke-width="2.1" />
<line x1="843" y1="134.6" x2="836" y2="134.6" stroke="#000" stroke-width="2.1" />
<line x1="807.5" y1="773.8" x2="807.5" y2="766.8" stroke="#000" stroke-width="2.1" />
<line x1="807.5" y1="63.6" x2="807.5" y2="70.6" stroke="#000" stroke-width="2.1" />
<line x1="133.2" y1="99.1" x2="140.2" y2="99.1" stroke="#000" stroke-width="2.1" />
<line x1="843" y1="99.1" x2="836" y2="99.1" stroke="#000" stroke-width="2.1" />
<rect x="133.2" y="63.6" width="709.8" height="710.2" fill="none" stroke="#000" stroke-width="3"/>
<text x="133.2" y="811.8" font-size="32.3" text-anchor="middle" font-family="'DejaVu Sans', 'Liberation Sans', sans-serif" >-20</text>
<text x="121.7" y="782.6" font-size="32.3" text-anchor="end" font-family="'DejaVu Sans', 'Liberation Sans', sans-serif" >-20</text>
<text x="310.6" y="811.8" font-size="32.3" text-anchor="middle" font-family="'DejaVu Sans', 'Liberation Sans', sans-serif" >-10</text>
<text x="121.7" y="605" font-size="32.3" text-anchor="end" font-family="'DejaVu Sans', 'Liberation Sans', sans-serif" >-10</text>
<text x="488.1" y="811.8" font-size="32.3" text-anchor="middle" font-family="'DejaVu Sans', 'Liberation Sans', sans-serif" >0</text>
<text x="121.7" y="427.5" font-size="32.3" text-anchor="end" font-family="'DejaVu Sans', 'Liberation Sans', sans-serif" >0</text>
<text x="665.5" y="811.8" font-size="32.3" text-anchor="middle" font-family="'DejaVu Sans', 'Liberation Sans', sans-serif" >10</text>
<text x="121.7" y="249.9" font-size="32.3" text-anchor="end" font-family="'DejaVu Sans', 'Liberation Sans', sans-serif" >10</text>
<text x="843" y="811.8" font-size="32.3" text-anchor="middle" font-family="'DejaVu Sans', 'Liberation Sans', sans-serif" >20</text>
<text x="121.7" y="72.4" font-size="32.3" text-anchor="end" font-family="'DejaVu Sans', 'Liberation Sans', sans-serif" >20</text>
<defs><linearGradient id="cba" x1="0" y1="1" x2="0" y2="0"><stop offset="0" stop-color="#ffffff"/><stop offset="0.2" stop-color="#0000ff"/><stop offset="0.4" stop-color="#87ceeb"/><stop offset="0.6" stop-color="#008000"/><stop offset="0.8" stop-color="#ffff00"/><stop offset="1.0" stop-color="#ff0000"/></linearGradient></defs>
<rect x="844.3" y="63.6" width="18.1" height="710.2" fill="url(#cba)" stroke="#000" stroke-width="2.6"/>
<line x1="862.3" y1="95" x2="873.5" y2="95" stroke="#000" stroke-width="2.1" />
<text x="884" y="107" font-size="32.3" text-anchor="start" font-family="'DejaVu Sans', 'Liberation Sans', sans-serif" >35</text>
<line x1="862.3" y1="146.8" x2="873.5" y2="146.8" stroke="#000" stroke-width="2.1" />
<text x="884" y="158.8" font-size="32.3" text-anchor="start" font-family="'DejaVu Sans', 'Liberation Sans', sans-serif" >30</text>
<line x1="862.3" y1="202.9" x2="873.5" y2="202.9" stroke="#000" stroke-width="2.1" />
<text x="884" y="214.9" font-size="32.3" text-anchor="start" font-family="'DejaVu Sans', 'Liberation Sans', sans-serif" >25</text>
<line x1="862.3" y1="265" x2="873.5" y2="265" stroke="#000" stroke-width="2.1" />
<text x="884" y="277" font-size="32.3" text-anchor="start" font-family="'DejaVu Sans', 'Liberation Sans', sans-serif" >20</text>
<line x1="862.3" y1="336" x2="873.5" y2="336" stroke="#000" stroke-width="2.1" />
<text x="884" y="348" font-size="32.3" text-anchor="start" font-family="'DejaVu Sans', 'Liberation Sans', sans-serif" >15</text>
<line x1="862.3" y1="419" x2="873.5" y2="419" stroke="#000" stroke-width="2.1" />
<text x="884" y="431" font-size="32.3" text-anchor="start" font-family="'DejaVu Sans', 'Liberation Sans', sans-serif" >10</text>
<line x1="862.3" y1="533" x2="873.5" y2="533" stroke="#000" stroke-width="2.1" />
<text x="884" y="545" font-size="32.3" text-anchor="start" font-family="'DejaVu Sans', 'Liberation Sans', sans-serif" >5</text>
<text x="968" y="418" font-size="32.3" text-anchor="middle" font-family="'DejaVu Sans', 'Liberation Sans', sans-serif" transform="rotate(-90 968 418)" >(mJy beam<tspan dy="-11.5" font-size="22.6">−1</tspan><tspan dy="11.5">)</tspan></text>
<text x="486" y="855.5" font-size="32.3" text-anchor="middle" font-family="'DejaVu Sans', 'Liberation Sans', sans-serif" >Δ<tspan font-style="italic">α</tspan> (")</text>
<text x="46.5" y="419.5" font-size="32.3" text-anchor="middle" font-family="'DejaVu Sans', 'Liberation Sans', sans-serif" transform="rotate(-90 46.5 419.5)" >Δ<tspan font-style="italic">δ</tspan> (")</text></g>
<g id="panel_b"><path d="M1083.6 687.4L1119.4 663L1155.1 662.5L1190.9 683.4L1226.7 704.5L1262.4 678.2L1298.2 660.7L1334 691L1369.8 660.2L1405.5 713.7L1441.3 316.4L1477.1 539.3L1512.8 657.4L1548.6 655.2L1584.4 676.8L1620.2 656L1655.9 665.3L1691.7 643.1L1727.5 674.8L1763.2 646.8L1799 661.6" fill="none" stroke="#000" stroke-width="2.6" stroke-linejoin="miter"/>
<line x1="1441.3" y1="62.1" x2="1441.3" y2="758.8" stroke="#0000ff" stroke-width="2.6" stroke-dasharray="9.5 4.1"/>
<rect x="1083.6" y="62.1" width="715.4" height="696.7" fill="none" stroke="#000" stroke-width="1.5"/>
<line x1="1083.6" y1="758.8" x2="1083.6" y2="742.5" stroke="#000" stroke-width="1.7" />
<line x1="1119.4" y1="758.8" x2="1119.4" y2="752" stroke="#000" stroke-width="1.7" />
<line x1="1155.1" y1="758.8" x2="1155.1" y2="752" stroke="#000" stroke-width="1.7" />
<line x1="1190.9" y1="758.8" x2="1190.9" y2="752" stroke="#000" stroke-width="1.7" />
<line x1="1226.7" y1="758.8" x2="1226.7" y2="752" stroke="#000" stroke-width="1.7" />
<line x1="1262.4" y1="758.8" x2="1262.4" y2="742.5" stroke="#000" stroke-width="1.7" />
<line x1="1298.2" y1="758.8" x2="1298.2" y2="752" stroke="#000" stroke-width="1.7" />
<line x1="1334" y1="758.8" x2="1334" y2="752" stroke="#000" stroke-width="1.7" />
<line x1="1369.8" y1="758.8" x2="1369.8" y2="752" stroke="#000" stroke-width="1.7" />
<line x1="1405.5" y1="758.8" x2="1405.5" y2="752" stroke="#000" stroke-width="1.7" />
<line x1="1441.3" y1="758.8" x2="1441.3" y2="742.5" stroke="#000" stroke-width="1.7" />
<line x1="1477.1" y1="758.8" x2="1477.1" y2="752" stroke="#000" stroke-width="1.7" />
<line x1="1512.8" y1="758.8" x2="1512.8" y2="752" stroke="#000" stroke-width="1.7" />
<line x1="1548.6" y1="758.8" x2="1548.6" y2="752" stroke="#000" stroke-width="1.7" />
<line x1="1584.4" y1="758.8" x2="1584.4" y2="752" stroke="#000" stroke-width="1.7" />
<line x1="1620.2" y1="758.8" x2="1620.2" y2="742.5" stroke="#000" stroke-width="1.7" />
<line x1="1655.9" y1="758.8" x2="1655.9" y2="752" stroke="#000" stroke-width="1.7" />
<line x1="1691.7" y1="758.8" x2="1691.7" y2="752" stroke="#000" stroke-width="1.7" />
<line x1="1727.5" y1="758.8" x2="1727.5" y2="752" stroke="#000" stroke-width="1.7" />
<line x1="1763.2" y1="758.8" x2="1763.2" y2="752" stroke="#000" stroke-width="1.7" />
<line x1="1799" y1="758.8" x2="1799" y2="742.5" stroke="#000" stroke-width="1.7" />
<line x1="1083.6" y1="758.8" x2="1099.9" y2="758.8" stroke="#000" stroke-width="1.7" />
<line x1="1083.6" y1="741.4" x2="1090.4" y2="741.4" stroke="#000" stroke-width="1.7" />
<line x1="1083.6" y1="724" x2="1090.4" y2="724" stroke="#000" stroke-width="1.7" />
<line x1="1083.6" y1="706.5" x2="1090.4" y2="706.5" stroke="#000" stroke-width="1.7" />
<line x1="1083.6" y1="689.1" x2="1090.4" y2="689.1" stroke="#000" stroke-width="1.7" />
<line x1="1083.6" y1="671.7" x2="1099.9" y2="671.7" stroke="#000" stroke-width="1.7" />
<line x1="1083.6" y1="654.3" x2="1090.4" y2="654.3" stroke="#000" stroke-width="1.7" />
<line x1="1083.6" y1="636.9" x2="1090.4" y2="636.9" stroke="#000" stroke-width="1.7" />
<line x1="1083.6" y1="619.5" x2="1090.4" y2="619.5" stroke="#000" stroke-width="1.7" />
<line x1="1083.6" y1="602" x2="1090.4" y2="602" stroke="#000" stroke-width="1.7" />
<line x1="1083.6" y1="584.6" x2="1099.9" y2="584.6" stroke="#000" stroke-width="1.7" />
<line x1="1083.6" y1="567.2" x2="1090.4" y2="567.2" stroke="#000" stroke-width="1.7" />
<line x1="1083.6" y1="549.8" x2="1090.4" y2="549.8" stroke="#000" stroke-width="1.7" />
<line x1="1083.6" y1="532.4" x2="1090.4" y2="532.4" stroke="#000" stroke-width="1.7" />
<line x1="1083.6" y1="515" x2="1090.4" y2="515" stroke="#000" stroke-width="1.7" />
<line x1="1083.6" y1="497.5" x2="1099.9" y2="497.5" stroke="#000" stroke-width="1.7" />
<line x1="1083.6" y1="480.1" x2="1090.4" y2="480.1" stroke="#000" stroke-width="1.7" />
<line x1="1083.6" y1="462.7" x2="1090.4" y2="462.7" stroke="#000" stroke-width="1.7" />
<line x1="1083.6" y1="445.3" x2="1090.4" y2="445.3" stroke="#000" stroke-width="1.7" />
<line x1="1083.6" y1="427.9" x2="1090.4" y2="427.9" stroke="#000" stroke-width="1.7" />
<line x1="1083.6" y1="410.5" x2="1099.9" y2="410.5" stroke="#000" stroke-width="1.7" />
<line x1="1083.6" y1="393" x2="1090.4" y2="393" stroke="#000" stroke-width="1.7" />
<line x1="1083.6" y1="375.6" x2="1090.4" y2="375.6" stroke="#000" stroke-width="1.7" />
<line x1="1083.6" y1="358.2" x2="1090.4" y2="358.2" stroke="#000" stroke-width="1.7" />
<line x1="1083.6" y1="340.8" x2="1090.4" y2="340.8" stroke="#000" stroke-width="1.7" />
<line x1="1083.6" y1="323.4" x2="1099.9" y2="323.4" stroke="#000" stroke-width="1.7" />
<line x1="1083.6" y1="305.9" x2="1090.4" y2="305.9" stroke="#000" stroke-width="1.7" />
<line x1="1083.6" y1="288.5" x2="1090.4" y2="288.5" stroke="#000" stroke-width="1.7" />
<line x1="1083.6" y1="271.1" x2="1090.4" y2="271.1" stroke="#000" stroke-width="1.7" />
<line x1="1083.6" y1="253.7" x2="1090.4" y2="253.7" stroke="#000" stroke-width="1.7" />
<line x1="1083.6" y1="236.3" x2="1099.9" y2="236.3" stroke="#000" stroke-width="1.7" />
<line x1="1083.6" y1="218.9" x2="1090.4" y2="218.9" stroke="#000" stroke-width="1.7" />
<line x1="1083.6" y1="201.4" x2="1090.4" y2="201.4" stroke="#000" stroke-width="1.7" />
<line x1="1083.6" y1="184" x2="1090.4" y2="184" stroke="#000" stroke-width="1.7" />
<line x1="1083.6" y1="166.6" x2="1090.4" y2="166.6" stroke="#000" stroke-width="1.7" />
<line x1="1083.6" y1="149.2" x2="1099.9" y2="149.2" stroke="#000" stroke-width="1.7" />
<line x1="1083.6" y1="131.8" x2="1090.4" y2="131.8" stroke="#000" stroke-width="1.7" />
<line x1="1083.6" y1="114.4" x2="1090.4" y2="114.4" stroke="#000" stroke-width="1.7" />
<line x1="1083.6" y1="96.9" x2="1090.4" y2="96.9" stroke="#000" stroke-width="1.7" />
<line x1="1083.6" y1="79.5" x2="1090.4" y2="79.5" stroke="#000" stroke-width="1.7" />
<line x1="1083.6" y1="62.1" x2="1099.9" y2="62.1" stroke="#000" stroke-width="1.7" />
<text x="1083.6" y="789.3" font-size="32.3" text-anchor="middle" font-family="'DejaVu Sans', 'Liberation Sans', sans-serif" >−10</text>
<text x="1262.4" y="789.3" font-size="32.3" text-anchor="middle" font-family="'DejaVu Sans', 'Liberation Sans', sans-serif" >0</text>
<text x="1441.3" y="789.3" font-size="32.3" text-anchor="middle" font-family="'DejaVu Sans', 'Liberation Sans', sans-serif" >10</text>
<text x="1620.2" y="789.3" font-size="32.3" text-anchor="middle" font-family="'DejaVu Sans', 'Liberation Sans', sans-serif" >20</text>
<text x="1799" y="789.3" font-size="32.3" text-anchor="middle" font-family="'DejaVu Sans', 'Liberation Sans', sans-serif" >30</text>
<text x="1078.6" y="770.8" font-size="32.3" text-anchor="end" font-family="'DejaVu Sans', 'Liberation Sans', sans-serif" >−5</text>
<text x="1078.6" y="683.7" font-size="32.3" text-anchor="end" font-family="'DejaVu Sans', 'Liberation Sans', sans-serif" >0</text>
<text x="1078.6" y="596.6" font-size="32.3" text-anchor="end" font-family="'DejaVu Sans', 'Liberation Sans', sans-serif" >5</text>
<text x="1078.6" y="509.5" font-size="32.3" text-anchor="end" font-family="'DejaVu Sans', 'Liberation Sans', sans-serif" >10</text>
<text x="1078.6" y="422.5" font-size="32.3" text-anchor="end" font-family="'DejaVu Sans', 'Liberation Sans', sans-serif" >15</text>
<text x="1078.6" y="335.4" font-size="32.3" text-anchor="end" font-family="'DejaVu Sans', 'Liberation Sans', sans-serif" >20</text>
<text x="1078.6" y="248.3" font-size="32.3" text-anchor="end" font-family="'DejaVu Sans', 'Liberation Sans', sans-serif" >25</text>
<text x="1078.6" y="161.2" font-size="32.3" text-anchor="end" font-family="'DejaVu Sans', 'Liberation Sans', sans-serif" >30</text>
<text x="1078.6" y="74.1" font-size="32.3" text-anchor="end" font-family="'DejaVu Sans', 'Liberation Sans', sans-serif" >35</text>
<text x="1440" y="827.5" font-size="32.3" text-anchor="middle" font-family="'DejaVu Sans', 'Liberation Sans', sans-serif" xml:space="preserve">Velocity  (km s<tspan dy="-12" font-size="22.6">−1</tspan><tspan dy="12">)</tspan></text>
<text x="1022" y="410.5" font-size="32.3" text-anchor="middle" font-family="'DejaVu Sans', 'Liberation Sans', sans-serif" transform="rotate(-90 1022 410.5)" >Flux (mJy beam<tspan dy="-12" font-size="22.6">−1</tspan><tspan dy="12">)</tspan></text>
<text x="1155" y="98" font-size="32.3" text-anchor="middle" font-family="'DejaVu Sans', 'Liberation Sans', sans-serif" >(b)</text>
<rect x="1589.5" y="79" width="193" height="56.5" rx="4" fill="#fff" fill-opacity="0.8" stroke="#ccc" stroke-width="2"/>
<line x1="1600.5" y1="105.4" x2="1666.5" y2="105.4" stroke="#000" stroke-width="2.6" />
<text x="1691.5" y="116.5" font-size="32.3" text-anchor="start" font-family="'DejaVu Sans', 'Liberation Sans', sans-serif" >C<tspan dy="-12" font-size="22.6">18</tspan><tspan dy="12">O</tspan></text></g>
<g id="panel_c"><defs><clipPath id="clipC"><rect x="117.3" y="893.6" width="668" height="667.8"/></clipPath><clipPath id="circC"><circle cx="525.2" cy="1261.7" r="319.5"/></clipPath></defs>
<defs><filter id="gb8" x="-20%" y="-20%" width="140%" height="140%"><feGaussianBlur stdDeviation="7"/></filter><filter id="gb4" x="-20%" y="-20%" width="140%" height="140%"><feGaussianBlur stdDeviation="3.5"/></filter><filter id="gb2" x="-20%" y="-20%" width="140%" height="140%"><feGaussianBlur stdDeviation="2.2"/></filter></defs>
<g clip-path="url(#clipC)"><g clip-path="url(#circC)">
<g filter="url(#gb8)">
<path d="M392.1 984.7C394.7 981.4 405.5 974.4 411.9 974.2C418.3 973.9 424.7 983.4 430.4 983.4C436.1 983.4 440.5 976.8 446.2 974.2C452 971.5 459.4 966 464.7 967.6C470 969.1 472.2 980.1 477.9 983.4C483.7 986.7 497.3 983.4 499.1 987.4C500.8 991.3 492 1000.8 488.5 1007.2C485 1013.6 477.9 1019.5 477.9 1025.7C477.9 1031.8 485 1038 488.5 1044.2C492 1050.3 493.8 1058.3 499.1 1062.7C504.4 1067.1 512.3 1069.7 520.2 1070.6C528.1 1071.5 536.9 1068.4 546.6 1067.9C556.3 1067.5 570.4 1064.4 578.3 1067.9C586.2 1071.5 592.9 1080.3 594.2 1089.1C595.5 1097.9 584.5 1113.7 586.2 1120.8C588 1127.8 603 1125.6 604.7 1131.3C606.5 1137.1 601.7 1152.9 596.8 1155.1C592 1157.3 582.3 1144.1 575.7 1144.5C569.1 1145 563.8 1154.2 557.2 1157.8C550.6 1161.3 541.8 1167 536.1 1165.7C530.3 1164.4 529 1153.4 522.8 1149.8C516.7 1146.3 504.8 1148.5 499.1 1144.5C493.3 1140.6 492.9 1126.9 488.5 1126.1C484.1 1125.2 474.4 1134 472.7 1139.3C470.9 1144.5 478.8 1152 477.9 1157.8C477.1 1163.5 471.3 1173.6 467.4 1173.6C463.4 1173.6 458.1 1163.5 454.2 1157.8C450.2 1152 447.6 1144.5 443.6 1139.3C439.6 1134 431.7 1131.8 430.4 1126.1C429.1 1120.3 433 1111.1 435.7 1104.9C438.3 1098.8 444.9 1095.2 446.2 1089.1C447.6 1082.9 446.7 1075.4 443.6 1067.9C440.5 1060.5 433.5 1049.4 427.7 1044.2C422 1038.9 413.9 1042 409.3 1036.2C404.6 1030.5 402.2 1016.9 400 1009.8C397.8 1002.8 397.4 998.2 396 994C394.7 989.8 389.4 988 392.1 984.7Z" fill="#e4e4e4"/>
<path d="M562.5 959.6C565.1 955.9 577 955.9 583.6 957C590.2 958.1 598.1 961.8 602.1 966.2C606.1 970.6 609.6 979.4 607.4 983.4C605.2 987.4 595.5 990.7 588.9 990C582.3 989.3 572.2 984.5 567.8 979.4C563.4 974.4 559.8 963.4 562.5 959.6Z" fill="#f0f0f0"/>
<path d="M625.9 999.3C626.8 996.2 640 989 647 987.4C654.1 985.7 664.8 987.5 668.1 989.2C671.4 991 671.2 995.2 666.8 997.9C662.4 1000.7 648.5 1005.6 641.7 1005.9C634.9 1006.1 625 1002.3 625.9 999.3Z" fill="#f1f1f1"/>
<path d="M514.9 975.5C516.5 972 526.1 965.6 529.5 966.2C532.8 966.9 536.3 975.9 534.7 979.4C533.2 983 523.5 988 520.2 987.4C516.9 986.7 513.4 979 514.9 975.5Z" fill="#eeeeee"/>
<ellipse cx="778" cy="1118" rx="14" ry="42" fill="#dedede"/>
<path d="M513.7 1172.8C518.1 1161.7 529.8 1173.4 540 1174.6C550.2 1175.7 563.4 1177.5 575.1 1179.8C586.8 1182.2 598.5 1186 610.2 1188.6C621.9 1191.2 632.1 1193.6 645.3 1195.6C658.4 1197.7 678.6 1197.7 689.1 1200.9C699.6 1204.1 703.7 1209.6 708.4 1214.9C713.1 1220.2 711.6 1226.6 717.2 1232.5C722.7 1238.3 734.7 1245 741.8 1250C748.8 1255 751.4 1258.8 759.3 1262.3C767.2 1265.8 784.2 1245.9 789.1 1271.1C794.1 1296.2 795.6 1389.2 789.1 1413.2C782.7 1437.1 761.3 1416.1 750.5 1414.9C739.7 1413.7 733 1413.5 724.2 1406.1C715.4 1398.8 706.7 1379.8 697.9 1371.1C689.1 1362.3 679.2 1359.4 671.6 1353.5C664 1347.7 657.8 1343.3 652.3 1336C646.7 1328.7 643.8 1317 638.2 1309.6C632.7 1302.3 625.4 1296.2 618.9 1292.1C612.5 1288 603.2 1288.3 599.6 1285.1C596.1 1281.9 603.5 1276.3 597.9 1272.8C592.3 1269.3 576 1268.1 566.3 1264C556.7 1259.9 548.8 1252 540 1248.2C531.2 1244.4 518.1 1253.8 513.7 1241.2C509.3 1228.7 509.3 1183.9 513.7 1172.8Z" fill="#d8d8d8"/>
<path d="M386.6 1179.9C388.8 1167.5 394.4 1155.1 399.9 1149.3C405.5 1143.5 414.1 1143.7 419.9 1145.3C425.7 1146.8 429.4 1158.8 434.5 1158.6C439.6 1158.4 446.7 1150.4 450.5 1144C454.3 1137.5 453.8 1124 457.2 1120C460.5 1116 467.4 1110.7 470.5 1120C473.6 1129.3 472 1166.1 475.8 1175.9C479.6 1185.7 490.2 1166.1 493.1 1178.6C496 1191 496 1238 493.1 1250.4C490.2 1262.9 478.5 1248 475.8 1253.1C473.1 1258.2 479.6 1275.3 477.1 1281.1C474.7 1286.8 466 1289.7 461.2 1287.7C456.3 1285.7 451.8 1274.4 447.9 1269.1C443.9 1263.8 442.1 1258.4 437.2 1255.8C432.3 1253.1 424.3 1255.6 418.6 1253.1C412.8 1250.7 407.9 1246 402.6 1241.1C397.3 1236.3 389.3 1234 386.6 1223.8C384 1213.6 384.4 1192.3 386.6 1179.9Z" fill="#d2d2d2"/>
<ellipse cx="595" cy="1399" rx="9" ry="10" fill="#c8c8c8"/>
</g>
<g filter="url(#gb4)">
<path d="M206.3 1298.1L235.4 1307.2L262.6 1313.6L284.4 1310.9L302.5 1301.8L320.7 1293.6L340.6 1284.5L360.6 1303.6L375.1 1316.3L393.3 1323.6L420.5 1338.1L438.7 1356.2L456.8 1370.7L465.9 1388.9L473.1 1407L487.7 1430.6L504 1434.3L485 1432.4L514.9 1428.7L543 1434.3L561.7 1449.2L571 1467.9L578.5 1482.9L593.5 1496L612.2 1509.1L638.4 1494.1L657.1 1490.4L685.2 1486.7L713.3 1479.2L750.7 1484.8L750.7 1567.1L567.3 1567.1L559.8 1552.2L550.5 1544.7L533.6 1542.8L528 1533.4L507.4 1527.8L496.2 1532.5L484 1539.5L462.2 1541.4L442.3 1526.8L415.1 1508.7L387.8 1490.5L369.7 1474.2L360.6 1468.8L342.5 1483.3L320.7 1505.1L277.1 1454.2L235.4 1392.5L204.5 1325.4Z" fill="#d6d6d6"/>
<path d="M265.5 1076L272.6 1097.2L269.4 1120.8L267.1 1144.4L269.4 1172.7L284.4 1185.3L300.1 1204.1L311.1 1219.9L284.4 1218.3L252.9 1212.8L205.7 1218.3L199.4 1191.6L221.5 1128.6Z" fill="#dedede"/>
</g>
<g filter="url(#gb4)">
<path d="M207.2 1303.6L235.4 1313.6L262.6 1319L284.4 1316.3L302.5 1307.2L320.7 1299.1L340.6 1290.9L358.8 1310.9L373.3 1322.7L391.5 1329.9L416.9 1344.4L435 1362.6L451.4 1377.1L460.4 1394.3L467.7 1412.5L482.2 1436.1L500 1440.6L485 1439.9L514.9 1436.1L539.2 1441.8L554.2 1454.9L563.6 1471.7L571 1486.7L586 1501.6L606.6 1516.6L589.8 1527.8L582.3 1540.9L586 1559.6L572 1560.6L563.6 1548.4L552.3 1540.9L534.6 1539.1L529.9 1529.7L509.3 1524.1L498.1 1527.8L484 1534.1L462.2 1535.9L444.1 1521.4L416.9 1503.2L389.6 1485.1L371.5 1468.8L362.4 1463.3L340.6 1477.8L318.9 1502.3L277.1 1454.2L235.4 1392.5L204.5 1325.4Z" fill="#cbcbcb"/>
<path d="M208.1 1301.8L235.4 1316.3L262.6 1319L291.6 1321.7L317 1336.3L333.4 1352.6L335.2 1370.7L324.3 1388.9L324.3 1407L309.8 1421.6L291.6 1407L280.7 1393.4L271.7 1383.5L274.4 1375.3L278.9 1368.9L286.2 1362.6L277.1 1361.7L266.2 1381.6L259 1403.4L244.4 1405.2L199.1 1334.4Z" fill="#acacac"/>
<path d="M571 1514.7C571.7 1510.4 582.9 1519.7 589.8 1522.2C596.6 1524.7 604.1 1531.9 612.2 1529.7C620.3 1527.5 630.9 1512.9 638.4 1509.1C645.9 1505.4 649.3 1507.9 657.1 1507.2C664.9 1506.6 675.8 1506.9 685.2 1505.4C694.6 1503.8 703 1500.7 713.3 1497.9C723.6 1495.1 741.3 1477 746.9 1488.5C752.6 1500.1 773.1 1554 746.9 1567.1C720.7 1580.2 616.6 1570.2 589.8 1567.1C562.9 1564 589.1 1557.1 586 1548.4C582.9 1539.7 570.4 1519.1 571 1514.7Z" fill="#cdcdcd"/>
<path d="M582.3 1526C584 1522.8 592.3 1528.1 597.2 1529.7C602.2 1531.3 606.3 1535.6 612.2 1535.3C618.1 1535 626.9 1531.1 632.8 1527.8C638.7 1524.6 642.8 1517.1 647.8 1515.7C652.8 1514.3 658.1 1517.4 662.7 1519.4C667.4 1521.4 670.5 1525.2 675.8 1527.8C681.1 1530.5 687.4 1535 694.6 1535.3C701.7 1535.6 712.6 1524.4 718.9 1529.7C725.1 1535 753.5 1560.9 732 1567.1C710.5 1573.4 613.9 1570.2 589.8 1567.1C565.6 1564 588.2 1555.3 587 1548.4C585.7 1541.6 580.6 1529.1 582.3 1526Z" fill="#b2b2b2"/>
<path d="M518.9 1178.9C522.5 1174.4 533 1180.3 540 1180.7C547 1181.1 554.6 1180.4 561.1 1181.6C567.5 1182.7 572.5 1185.8 578.6 1187.7C584.7 1189.6 592.3 1191.5 597.9 1193C603.5 1194.4 605.8 1195 611.9 1196.5C618.1 1198 628 1200.1 634.7 1201.8C641.5 1203.4 646.4 1205 652.3 1206.1C658.1 1207.3 664 1208.3 669.8 1208.8C675.7 1209.2 682.7 1207.9 687.4 1208.8C692 1209.6 695.1 1211.5 697.9 1214C700.7 1216.5 702.7 1220 704 1223.7C705.4 1227.3 704.2 1232.9 705.8 1236C707.4 1239 709.7 1239.5 713.7 1242.1C717.6 1244.7 724.5 1248.4 729.5 1251.8C734.4 1255.1 739.7 1258.8 743.5 1262.3C747.3 1265.8 750.5 1269.3 752.3 1272.8C754 1276.3 752.6 1280.4 754 1283.3C755.5 1286.3 758.7 1287.4 761.1 1290.4C763.4 1293.3 765.7 1298 768.1 1300.9C770.4 1303.8 771.6 1306.6 775.1 1307.9C778.6 1309.2 786.8 1293.9 789.1 1308.8C791.5 1323.7 792.9 1382.6 789.1 1397.4C785.3 1412.1 770.8 1398.5 766.3 1397.4C761.8 1396.2 763.1 1393.6 761.9 1390.4C760.8 1387.1 760.6 1381.9 759.3 1378.1C758 1374.3 756.1 1370.8 754 1367.5C752 1364.3 749.6 1361.4 747 1358.8C744.4 1356.1 740.6 1354.4 738.2 1351.8C735.9 1349.1 736.8 1345.5 733 1343C729.2 1340.5 721.3 1338 715.4 1336.8C709.6 1335.7 700.2 1337.9 697.9 1336C695.6 1334.1 701.1 1328.9 701.4 1325.4C701.7 1321.9 700.8 1317.8 699.6 1314.9C698.5 1312 697.9 1309.6 694.4 1307.9C690.9 1306.1 682.7 1306.1 678.6 1304.4C674.5 1302.6 672.5 1299.7 669.8 1297.4C667.2 1295 664.3 1292.7 662.8 1290.4C661.3 1288 664 1286.3 661.1 1283.3C658.1 1280.4 649.5 1274.6 645.3 1272.8C641 1271.1 638 1274.6 635.6 1272.8C633.3 1271.1 633.1 1266.5 631.2 1262.3C629.3 1258 624.2 1251.5 624.2 1247.4C624.2 1243.3 627.7 1240.2 631.2 1237.7C634.7 1235.2 644.1 1235.5 645.3 1232.5C646.4 1229.4 642.6 1222.4 638.2 1219.3C633.9 1216.2 623.6 1215.9 618.9 1214C614.3 1212.1 612.5 1205.4 610.2 1207.9C607.8 1210.4 607.8 1224.9 604.9 1228.9C602 1233 597.6 1232.8 592.6 1232.5C587.7 1232.1 580.9 1229.6 575.1 1226.7C569.2 1223.7 563.4 1217.9 557.5 1214.9C551.7 1211.9 546.4 1209.9 540 1208.8C533.6 1207.6 522.5 1212.9 518.9 1207.9C515.4 1202.9 515.4 1183.5 518.9 1178.9Z" fill="#bababa"/>
<path d="M393.9 1218.5C394.5 1213.4 396.7 1201.2 398.6 1194.5C400.5 1187.9 404.3 1184.3 405.3 1178.6C406.3 1172.8 403.3 1163.8 404.6 1159.9C405.9 1156.1 410 1154.2 413.2 1155.3C416.5 1156.4 420.3 1164.1 423.9 1166.6C427.4 1169 431 1171.5 434.5 1169.9C438.1 1168.4 441.6 1161.2 445.2 1157.3C448.7 1153.4 452.5 1149.1 455.8 1146.6C459.2 1144.2 463.4 1137.7 465.2 1142.6C466.9 1147.5 465.2 1167.3 466.5 1175.9C467.8 1184.6 468.7 1192.5 473.1 1194.5C477.6 1196.5 485.3 1189.9 493.1 1187.9C500.9 1185.9 510.9 1183.9 519.7 1182.6C528.6 1181.2 537.5 1179.7 546.4 1179.9C555.2 1180.1 564 1181.8 573 1183.9C581.9 1186 595.5 1184.3 600 1192.5C604.5 1200.8 604.5 1227.5 600 1233.1C595.5 1238.8 579.7 1229.4 573 1226.5C566.3 1223.6 565.9 1218.8 559.7 1215.8C553.5 1212.8 541.7 1208.5 535.7 1208.5C529.7 1208.5 525.9 1212.2 523.7 1215.8C521.5 1219.5 523.1 1225.2 522.4 1230.5C521.7 1235.8 522.4 1245.9 519.7 1247.8C517.1 1249.7 512 1243 506.4 1241.8C500.9 1240.6 492 1239.9 486.5 1240.5C480.9 1241 476.7 1243.2 473.1 1245.1C469.6 1247 466.3 1248.7 465.2 1251.8C464 1254.9 465.6 1259.8 466.5 1263.8C467.4 1267.8 471.1 1272.9 470.5 1275.7C469.8 1278.6 465.2 1282 462.5 1281.1C459.8 1280.2 456.3 1275.1 454.5 1270.4C452.7 1265.8 454.3 1256.2 451.8 1253.1C449.4 1250 444.7 1252.6 439.9 1251.8C435 1251 427.7 1251.1 422.6 1248.5C417.5 1245.8 413.8 1239.7 409.3 1235.8C404.7 1231.9 397.8 1228 395.3 1225.2C392.7 1222.3 393.4 1223.6 393.9 1218.5Z" fill="#b4b4b4"/>
<path d="M261.6 1083.8L256.8 1112.9L252.9 1144.4L254.5 1175.8L246.6 1196.3L226.2 1205.7L205.7 1215.2L199.4 1191.6L229.3 1120.8Z" fill="#b8b8b8"/>
</g>
<g filter="url(#gb2)">
<path d="M647 1237.7C647.6 1236.3 649.9 1233.6 652.3 1232.5C654.6 1231.3 658.4 1230.1 661.1 1230.7C663.7 1231.3 666.3 1233.6 668.1 1236C669.8 1238.3 670.7 1242.1 671.6 1244.7C672.5 1247.4 673.6 1249.9 673.3 1251.8C673 1253.7 671.6 1255.3 669.8 1256.1C668.1 1257 664.9 1257.5 662.8 1257C660.8 1256.6 659 1255.4 657.5 1253.5C656.1 1251.6 655.5 1247.7 654 1245.6C652.6 1243.6 649.9 1242.5 648.8 1241.2C647.6 1239.9 646.4 1239.2 647 1237.7Z" fill="#ebebeb"/>
<path d="M406 1449.7C406.6 1448.2 410.5 1447.7 413.2 1447.9C416 1448 419.6 1449.5 422.3 1450.6C425 1451.7 428.7 1452.4 429.6 1454.2C430.5 1456.1 429 1460.6 427.8 1461.5C426.6 1462.4 424.1 1460.6 422.3 1459.7C420.5 1458.8 419 1456.5 416.9 1456.1C414.8 1455.6 411.4 1458 409.6 1457C407.8 1455.9 405.4 1451.2 406 1449.7Z" fill="#f5f5f5"/>
<path d="M502.7 1475.4C503.7 1474.3 506.6 1472.6 509.3 1472.6C511.9 1472.6 515.5 1474 518.7 1475.4C521.8 1476.8 525.2 1478.6 528 1481C530.8 1483.5 533.6 1487.8 535.5 1490.4C537.4 1493.1 539.9 1495.7 539.2 1497C538.6 1498.2 534.2 1498.4 531.8 1497.9C529.3 1497.4 526.8 1496 524.3 1494.1C521.8 1492.3 519.3 1488.4 516.8 1486.7C514.3 1484.9 511.5 1485.1 509.3 1483.9C507.1 1482.6 504.8 1480.6 503.7 1479.2C502.6 1477.8 501.8 1476.5 502.7 1475.4Z" fill="#eeeeee"/>
<path d="M360.6 1361.7C363 1360.3 365.8 1359 367.9 1359C370 1359 372.1 1360.3 373.3 1361.7C374.5 1363 374.2 1365.3 375.1 1367.1C376 1368.9 378.3 1370.7 378.8 1372.6C379.2 1374.4 379.1 1376.3 377.9 1378C376.6 1379.7 373.8 1381.6 371.5 1382.5C369.2 1383.5 366.4 1384.2 364.2 1383.5C362.1 1382.7 360.6 1379.8 358.8 1378C357 1376.2 354.3 1374.4 353.3 1372.6C352.4 1370.7 352.1 1368.9 353.3 1367.1C354.6 1365.3 358.2 1363 360.6 1361.7Z" fill="#d7d7d7"/>
<path d="M291.6 1364.4C293.8 1365.8 296.2 1368.5 298.9 1370.7C301.6 1373 305.3 1375.7 308 1378C310.7 1380.3 312.8 1382.8 315.2 1384.4C317.7 1385.9 321.1 1385.1 322.5 1387.1C323.9 1389.1 322.9 1392.8 323.4 1396.2C323.9 1399.5 325.7 1404.5 325.2 1407C324.8 1409.6 322.6 1410.2 320.7 1411.6C318.7 1412.9 315.4 1413.6 313.4 1415.2C311.5 1416.9 311.3 1421.1 308.9 1421.6C306.5 1422 301.8 1420.4 298.9 1417.9C296 1415.5 294.7 1411.1 291.6 1407C288.6 1403 284.1 1397.4 280.7 1393.4C277.4 1389.5 272.7 1386.5 271.7 1383.5C270.6 1380.4 273.2 1377.7 274.4 1375.3C275.6 1372.9 277 1371.1 278.9 1368.9C280.9 1366.8 284.1 1363.3 286.2 1362.6C288.3 1361.8 289.5 1363 291.6 1364.4Z" fill="#c8c8c8"/>
<path d="M354.3 1426.1C355.5 1424.7 360.2 1423.8 364.2 1422.5C368.3 1421.1 374.8 1419.3 378.8 1417.9C382.7 1416.6 384.8 1415.8 387.8 1414.3C390.9 1412.8 393.6 1410.4 396.9 1408.9C400.2 1407.4 404.5 1405.5 407.8 1405.2C411.1 1404.9 413.8 1405.8 416.9 1407C419.9 1408.3 423.5 1410.1 425.9 1412.5C428.4 1414.9 431.4 1417.6 431.4 1421.6C431.4 1425.5 429.9 1432.5 425.9 1436.1C422 1439.7 413.8 1442.4 407.8 1443.3C401.7 1444.3 395.7 1441.2 389.6 1441.5C383.6 1441.8 375.4 1445.5 371.5 1445.2C367.6 1444.9 367.6 1441.8 366.1 1439.7C364.5 1437.6 363.9 1434 362.4 1432.5C360.9 1430.9 358.3 1431.7 357 1430.6C355.6 1429.6 353 1427.5 354.3 1426.1Z" fill="#c8c8c8"/>
<path d="M789.1 1332.5C787.7 1324.4 783 1327.8 780.4 1325.4C777.7 1323.1 776.8 1320.5 773.3 1318.4C769.8 1316.4 761.9 1315.8 759.3 1313.2C756.7 1310.5 759 1306.1 757.5 1302.6C756.1 1299.1 753.2 1295.3 750.5 1292.1C747.9 1288.9 743.5 1286.3 741.8 1283.3C740 1280.4 741.5 1277.2 740 1274.6C738.5 1271.9 735.9 1270.2 733 1267.5C730.1 1264.9 725.7 1261.1 722.5 1258.8C719.2 1256.4 716.9 1254.8 713.7 1253.5C710.5 1252.2 706.1 1252 703.2 1250.9C700.2 1249.7 697.6 1248.7 696.1 1246.5C694.7 1244.3 694.5 1240.9 694.4 1237.7C694.2 1234.5 695.6 1230.1 695.3 1227.2C695 1224.3 693.9 1221.8 692.6 1220.2C691.3 1218.6 689.4 1217.7 687.4 1217.5C685.3 1217.4 682.3 1218.3 680.4 1219.3C678.5 1220.3 676.5 1221.5 676 1223.7C675.4 1225.9 675.8 1229.2 676.8 1232.5C677.9 1235.7 680.8 1239.2 682.1 1243C683.4 1246.8 684.2 1251.5 684.7 1255.3C685.3 1259.1 684.9 1262.6 685.6 1265.8C686.3 1269 689.6 1271.9 689.1 1274.6C688.7 1277.2 683.6 1279.5 683 1281.6C682.4 1283.6 683.7 1285.1 685.6 1286.8C687.5 1288.6 691.2 1290.1 694.4 1292.1C697.6 1294.2 701.4 1297.4 704.9 1299.1C708.4 1300.9 712.2 1301.2 715.4 1302.6C718.7 1304.1 722.5 1305.6 724.2 1307.9C726 1310.2 724.5 1313.7 726 1316.7C727.4 1319.6 730.4 1321.9 733 1325.4C735.6 1328.9 738.8 1333.9 741.8 1337.7C744.7 1341.5 746.7 1344.7 750.5 1348.2C754.3 1351.8 760.5 1355.8 764.6 1358.8C768.7 1361.7 771 1363.3 775.1 1365.8C779.2 1368.3 786.8 1379.2 789.1 1373.7C791.5 1368.1 790.6 1340.5 789.1 1332.5Z" fill="#9e9e9e"/>
<path d="M346.1 1327.6C347.6 1326.6 352.7 1327.4 357 1328.1C361.2 1328.8 366.7 1330.4 371.5 1331.7C376.3 1333.1 381.5 1334.8 386 1336.3C390.6 1337.8 395.2 1339 398.7 1340.8C402.2 1342.6 404.9 1344.6 406.9 1347.2C408.9 1349.7 410.1 1353.2 410.5 1356.2C411 1359.3 409.3 1362.6 409.6 1365.3C409.9 1368 410.5 1370.7 412.3 1372.6C414.2 1374.4 417.3 1375.9 420.5 1376.2C423.7 1376.5 428.4 1373.8 431.4 1374.4C434.4 1375 437 1377.4 438.7 1379.8C440.3 1382.2 441.7 1385.6 441.4 1388.9C441.1 1392.2 438.5 1396.5 436.8 1399.8C435.2 1403.1 433.2 1406.7 431.4 1408.9C429.6 1411 428.4 1412.8 425.9 1412.5C423.5 1412.2 419.9 1408.3 416.9 1407C413.8 1405.8 411.1 1404.9 407.8 1405.2C404.5 1405.5 400.2 1407.4 396.9 1408.9C393.6 1410.4 390.9 1412.8 387.8 1414.3C384.8 1415.8 382.7 1416.6 378.8 1417.9C374.8 1419.3 368.3 1421.1 364.2 1422.5C360.2 1423.8 356.7 1422.3 354.3 1426.1C351.8 1429.9 352 1442.9 349.7 1445.2C347.4 1447.4 343.4 1441.8 340.6 1439.7C337.9 1437.6 336.1 1434 333.4 1432.5C330.7 1430.9 327.3 1431.2 324.3 1430.6C321.3 1430 317.8 1430.3 315.2 1428.8C312.7 1427.3 309.2 1423.8 308.9 1421.6C308.6 1419.3 311.5 1416.9 313.4 1415.2C315.4 1413.6 318.7 1412.9 320.7 1411.6C322.6 1410.2 324.8 1409.6 325.2 1407C325.7 1404.5 323.9 1399.5 323.4 1396.2C322.9 1392.8 321.7 1391.3 322.5 1387.1C323.2 1382.8 325.8 1373.8 327.9 1370.7C330.1 1367.7 333.4 1368.5 335.2 1368.9C337 1369.4 337 1373.2 338.8 1373.5C340.6 1373.8 343.7 1370.9 346.1 1370.7C348.5 1370.6 351.2 1371.4 353.3 1372.6C355.5 1373.8 357 1376.2 358.8 1378C360.6 1379.8 362.1 1382.7 364.2 1383.5C366.4 1384.2 369.2 1383.5 371.5 1382.5C373.8 1381.6 376.6 1379.7 377.9 1378C379.1 1376.3 379.2 1374.4 378.8 1372.6C378.3 1370.7 376 1368.9 375.1 1367.1C374.2 1365.3 374.5 1363 373.3 1361.7C372.1 1360.3 370 1359 367.9 1359C365.8 1359 363 1360.3 360.6 1361.7C358.2 1363 355.8 1366.4 353.3 1367.1C350.9 1367.9 348.2 1367.4 346.1 1366.2C344 1365 341.7 1362.1 340.6 1359.9C339.6 1357.6 339.1 1355 339.7 1352.6C340.3 1350.2 342.6 1347.5 344.3 1345.3C345.9 1343.2 349.1 1341.9 349.7 1339.9C350.3 1337.9 348.5 1335.6 347.9 1333.5C347.3 1331.5 344.6 1328.5 346.1 1327.6Z" fill="#a0a0a0"/>
<path d="M270.8 1334.4C271.7 1332 273 1330.5 275.3 1329C277.6 1327.5 281.7 1325.7 284.4 1325.4C287.1 1325.1 289.2 1326.1 291.6 1327.2C294.1 1328.2 296.2 1330.4 298.9 1331.7C301.6 1333.1 304.3 1334.3 308 1335.4C311.6 1336.4 317.4 1337 320.7 1338.1C324 1339.1 326 1339.6 327.9 1341.7C329.9 1343.8 331.4 1347.8 332.5 1350.8C333.5 1353.8 335 1356.5 334.3 1359.9C333.5 1363.2 330.8 1369.5 327.9 1370.7C325.1 1372 320.7 1368.9 317 1367.1C313.4 1365.3 310.4 1362.3 306.2 1359.9C301.9 1357.4 295.9 1353.8 291.6 1352.6C287.4 1351.4 284.4 1354.1 280.7 1352.6C277.1 1351.1 271.5 1346.5 269.9 1343.5C268.2 1340.5 269.9 1336.9 270.8 1334.4Z" fill="#a5a5a5"/>
<path d="M382.4 1459.7C383.7 1458.3 387.4 1456.4 389.6 1455.1C391.9 1453.9 394.2 1451.7 396 1452.4C397.8 1453.2 398.6 1457 400.5 1459.7C402.5 1462.4 405.1 1466.6 407.8 1468.8C410.5 1470.9 413.8 1471.2 416.9 1472.4C419.9 1473.6 423.2 1475.4 425.9 1476C428.7 1476.6 431.1 1477.2 433.2 1476C435.3 1474.8 436.8 1471.2 438.7 1468.8C440.5 1466.3 442 1463.5 444.1 1461.5C446.2 1459.5 448.9 1458.3 451.4 1457C453.8 1455.6 456.8 1452.9 458.6 1453.3C460.4 1453.8 461 1457.7 462.2 1459.7C463.5 1461.6 463.6 1463.9 465.9 1465.1C468.1 1466.3 474.5 1465.1 475.9 1466.9C477.2 1468.8 475 1472.7 474 1476C473.1 1479.3 471.8 1483.3 470.4 1486.9C469.1 1490.5 467.5 1494.5 465.9 1497.8C464.2 1501.1 462.5 1504.8 460.4 1506.9C458.3 1509 455.9 1510.8 453.2 1510.5C450.4 1510.2 447.4 1506.7 444.1 1505.1C440.8 1503.4 436.2 1502.3 433.2 1500.5C430.2 1498.7 428.7 1496.4 425.9 1494.2C423.2 1491.9 419.9 1489 416.9 1486.9C413.8 1484.8 410.5 1482.8 407.8 1481.5C405.1 1480.1 403.3 1479.3 400.5 1478.7C397.8 1478.1 394 1479.2 391.5 1477.8C388.9 1476.5 386.8 1473 385.1 1470.6C383.4 1468.2 381.9 1465.1 381.5 1463.3C381 1461.5 381 1461 382.4 1459.7Z" fill="#a0a0a0"/>
<path d="M483.1 1454.9C483.1 1453 485.3 1449.1 488.7 1447.4C492.1 1445.6 498.7 1445.3 503.7 1444.6C508.7 1443.8 514.3 1442.5 518.7 1442.7C523 1442.8 526.4 1443.8 529.9 1445.5C533.3 1447.2 536.7 1450.2 539.2 1453C541.7 1455.8 543 1459.5 544.9 1462.3C546.7 1465.1 548.9 1467.6 550.5 1469.8C552 1472 554.2 1472.5 554.2 1475.4C554.2 1478.4 552.3 1486 550.5 1487.6C548.6 1489.2 545.8 1486.5 543 1484.8C540.2 1483.1 536.7 1479.5 533.6 1477.3C530.5 1475.1 527.7 1473.6 524.3 1471.7C520.8 1469.8 516.8 1467.8 513 1466.1C509.3 1464.4 505.9 1462.6 501.8 1461.4C497.8 1460.2 491.8 1459.7 488.7 1458.6C485.6 1457.5 483.1 1456.7 483.1 1454.9Z" fill="#9e9e9e"/>
<path d="M571 1514.7C568.1 1511 572.3 1510.1 573.9 1509.1C575.4 1508.2 578.4 1508.2 580.4 1509.1C582.4 1510.1 583.8 1512.5 586 1514.7C588.2 1516.9 591 1520.7 593.5 1522.2C596 1523.8 598.5 1522.5 601 1524.1C603.5 1525.6 606 1529.5 608.5 1531.6C611 1533.6 613.2 1535.8 616 1536.2C618.8 1536.7 622.8 1534.5 625.3 1534.4C627.8 1534.2 629.8 1536.4 630.9 1535.3C632 1534.2 630.9 1530.3 631.9 1527.8C632.8 1525.3 634.8 1522.8 636.5 1520.3C638.3 1517.8 640.3 1514.6 642.2 1512.9C644 1511.1 645.6 1510.4 647.8 1510.1C650 1509.7 652.8 1509.7 655.3 1511C657.7 1512.2 660.2 1515.2 662.7 1517.5C665.2 1519.9 668 1519.9 670.2 1525C672.4 1530.2 678 1541.4 675.8 1548.4C673.7 1555.4 671.5 1564 657.1 1567.1C642.8 1570.2 601.3 1569.6 589.8 1567.1C578.2 1564.6 588.5 1556.2 587.9 1552.2C587.3 1548.1 586.2 1545.6 586 1542.8C585.9 1540 586 1537.2 587 1535.3C587.9 1533.4 594.3 1535 591.6 1531.6C589 1528.1 574 1518.5 571 1514.7Z" fill="#a0a0a0"/>
<path d="M451.8 1199.9C458.1 1197.8 479.6 1197.9 483.8 1200.5C488 1203.2 480.2 1210 477.1 1215.8C474 1221.7 469.4 1229.8 465.2 1235.8C460.9 1241.8 456.1 1249.8 451.8 1251.8C447.6 1253.8 442.8 1249.8 439.9 1247.8C437 1245.8 434.1 1243.3 434.5 1239.8C435 1236.3 440.5 1230.9 442.5 1226.5C444.5 1222.1 445 1217.6 446.5 1213.2C448.1 1208.7 445.6 1202 451.8 1199.9Z" fill="#5f5f5f"/>
<path d="M458.5 1205.2C461.4 1203.9 469.2 1202.5 470.5 1205.2C471.8 1207.9 468.9 1215.4 466.5 1221.2C464 1226.9 459.2 1236 455.8 1239.8C452.5 1243.6 447.4 1246 446.5 1243.8C445.6 1241.6 449.4 1231.6 450.5 1226.5C451.6 1221.4 451.8 1216.7 453.2 1213.2C454.5 1209.6 455.6 1206.5 458.5 1205.2Z" fill="#282828"/>
<path d="M423.9 1247.8C424.3 1249.5 431 1249.1 434.5 1249.8C438.1 1250.4 444.3 1252.6 445.2 1251.8C446.1 1251 442.1 1247.1 439.9 1245.1C437.6 1243.1 434.5 1239.4 431.9 1239.8C429.2 1240.2 423.4 1246.1 423.9 1247.8Z" fill="#3c3c3c"/>
</g>
</g></g>
<g clip-path="url(#clipC)"><g clip-path="url(#circC)" fill="none" stroke="#000" stroke-width="2.75" stroke-linejoin="round" stroke-linecap="round">
<path d="M223.6 1313.6C225.5 1314.5 231.3 1317.5 235.4 1319C239.5 1320.5 244.6 1321.9 248.1 1322.7C251.6 1323.4 253.8 1323.9 256.2 1323.6C258.7 1323.3 259.4 1321.6 262.6 1320.8C265.8 1320.1 271.1 1319.6 275.3 1319C279.5 1318.4 284.7 1317.7 288 1317.2C291.3 1316.8 293.2 1315.5 295.3 1316.3C297.4 1317.1 298.9 1319.8 300.7 1321.7C302.5 1323.7 303.7 1326.7 306.2 1328.1C308.6 1329.5 312.4 1329.8 315.2 1329.9C318.1 1330.1 321.7 1330.2 323.4 1329C325.1 1327.8 324.5 1324.6 325.2 1322.7C326 1320.7 326.3 1318.7 327.9 1317.2C329.6 1315.7 332.2 1314.2 335.2 1313.6C338.2 1312.9 343.2 1312.5 346.1 1313.2C349 1314 349.7 1316.8 352.4 1318.1C355.2 1319.4 358.6 1319.6 362.4 1320.8C366.2 1322 370.6 1323.7 375.1 1325.4C379.7 1327 385.4 1329.3 389.6 1330.8C393.9 1332.3 397.2 1332.9 400.5 1334.4C403.9 1336 407.2 1337.8 409.6 1339.9C412 1342 413.5 1344.4 415.1 1347.2C416.6 1349.9 417.9 1353.5 418.7 1356.2C419.4 1359 420 1361.7 419.6 1363.5C419.1 1365.3 416.1 1366.1 416 1367.1C415.8 1368.2 416.7 1369.8 418.7 1369.8C420.7 1369.8 424.7 1367.3 427.8 1367.1C430.8 1367 434.1 1367.7 436.8 1368.9C439.6 1370.1 442.1 1372 444.1 1374.4C446.1 1376.8 447.7 1380.4 448.6 1383.5C449.5 1386.5 450.3 1389.5 449.5 1392.5C448.8 1395.6 445.3 1399.2 444.1 1401.6C442.9 1404 441.7 1404.9 442.3 1407C442.9 1409.2 445.3 1411.6 447.7 1414.3C450.1 1417 454.1 1420.4 456.8 1423.4C459.5 1426.4 461.3 1429.4 464.1 1432.5C466.8 1435.5 470.4 1439.7 473.1 1441.5C475.9 1443.3 478.4 1443.6 480.4 1443.3C482.4 1443.1 482 1440.6 485 1439.9C487.9 1439.1 493.1 1439.6 498.1 1438.9C503.1 1438.3 509.3 1436 514.9 1436.1C520.5 1436.3 526.8 1438.2 531.8 1439.9C536.7 1441.6 541.4 1443.9 544.9 1446.4C548.3 1448.9 550.2 1452.2 552.3 1454.9C554.5 1457.5 556.2 1459.5 557.9 1462.3C559.7 1465.1 561.1 1468.3 562.6 1471.7C564.2 1475.1 565.3 1479.5 567.3 1482.9C569.3 1486.3 572 1489.5 574.8 1492.3C577.6 1495.1 581.3 1497 584.1 1499.8C587 1502.6 588.8 1506.8 591.6 1509.1C594.4 1511.5 598.2 1512.2 601 1513.8C603.8 1515.4 606.1 1518.3 608.5 1518.5C610.8 1518.6 612.2 1515.2 615 1514.7C617.8 1514.3 622 1516.6 625.3 1515.7C628.6 1514.7 631.9 1511.3 634.7 1509.1C637.5 1506.9 639.7 1504 642.2 1502.6C644.7 1501.2 646.8 1500.5 649.6 1500.7C652.4 1500.9 655.9 1502.3 659 1503.5C662.1 1504.8 665.2 1507.2 668.4 1508.2C671.5 1509.1 674.9 1510.1 677.7 1509.1C680.5 1508.2 682.7 1504.1 685.2 1502.6C687.7 1501 690.7 1499.8 692.7 1499.8C694.7 1499.8 696.1 1501.5 697.4 1502.6C698.6 1503.7 699.7 1505.7 700.2 1506.3"/>
<path d="M227.2 1326.8C228.9 1327.2 233.7 1327.7 237.2 1329C240.7 1330.3 245.1 1332.9 248.1 1334.4C251.1 1336 253.7 1336 255.3 1338.1C257 1340.2 257.2 1344.9 258.1 1347.2C259 1349.4 259.4 1351.2 260.8 1351.7C262.1 1352.1 264.7 1351.2 266.2 1349.9C267.7 1348.5 269.1 1346.1 269.9 1343.5C270.6 1341 269.9 1336.9 270.8 1334.4C271.7 1332 273 1330.5 275.3 1329C277.6 1327.5 281.7 1325.7 284.4 1325.4C287.1 1325.1 289.2 1326.1 291.6 1327.2C294.1 1328.2 296.2 1330.4 298.9 1331.7C301.6 1333.1 304.3 1334.3 308 1335.4C311.6 1336.4 317.4 1337 320.7 1338.1C324 1339.1 326 1339.6 327.9 1341.7C329.9 1343.8 331.4 1347.8 332.5 1350.8C333.5 1353.8 333.8 1356.8 334.3 1359.9C334.7 1362.9 334.4 1366.7 335.2 1368.9C336 1371.2 337 1373.2 338.8 1373.5C340.6 1373.8 343.7 1370.9 346.1 1370.7C348.5 1370.6 351.2 1371.4 353.3 1372.6C355.5 1373.8 357 1376.2 358.8 1378C360.6 1379.8 362.1 1382.7 364.2 1383.5C366.4 1384.2 369.2 1383.5 371.5 1382.5C373.8 1381.6 376.6 1379.7 377.9 1378C379.1 1376.3 379.2 1374.4 378.8 1372.6C378.3 1370.7 376 1368.9 375.1 1367.1C374.2 1365.3 374.5 1363 373.3 1361.7C372.1 1360.3 370 1359 367.9 1359C365.8 1359 363 1360.3 360.6 1361.7C358.2 1363 355.8 1366.4 353.3 1367.1C350.9 1367.9 348.2 1367.4 346.1 1366.2C344 1365 341.7 1362.1 340.6 1359.9C339.6 1357.6 339.1 1355 339.7 1352.6C340.3 1350.2 342.6 1347.5 344.3 1345.3C345.9 1343.2 349.1 1341.9 349.7 1339.9C350.3 1337.9 349.1 1335.1 347.9 1333.5C346.7 1332 342.8 1331.8 342.5 1330.8C342.2 1329.8 343.7 1328 346.1 1327.6C348.5 1327.1 352.7 1327.4 357 1328.1C361.2 1328.8 366.7 1330.4 371.5 1331.7C376.3 1333.1 381.5 1334.8 386 1336.3C390.6 1337.8 395.2 1339 398.7 1340.8C402.2 1342.6 404.9 1344.6 406.9 1347.2C408.9 1349.7 410.1 1353.2 410.5 1356.2C411 1359.3 409.3 1362.6 409.6 1365.3C409.9 1368 410.5 1370.7 412.3 1372.6C414.2 1374.4 417.3 1375.9 420.5 1376.2C423.7 1376.5 428.4 1373.8 431.4 1374.4C434.4 1375 437 1377.4 438.7 1379.8C440.3 1382.2 441.7 1385.6 441.4 1388.9C441.1 1392.2 438.5 1396.5 436.8 1399.8C435.2 1403.1 433.2 1406.7 431.4 1408.9C429.6 1411 428.4 1412.8 425.9 1412.5C423.5 1412.2 419.9 1408.3 416.9 1407C413.8 1405.8 411.1 1404.9 407.8 1405.2C404.5 1405.5 400.2 1407.4 396.9 1408.9C393.6 1410.4 390.9 1412.8 387.8 1414.3C384.8 1415.8 382.7 1416.6 378.8 1417.9C374.8 1419.3 368.3 1421.1 364.2 1422.5C360.2 1423.8 355.5 1424.7 354.3 1426.1C353 1427.5 355.6 1429.6 357 1430.6C358.3 1431.7 360.9 1430.9 362.4 1432.5C363.9 1434 364.5 1437.6 366.1 1439.7C367.6 1441.8 370.9 1443.2 371.5 1445.2C372.1 1447.1 371.5 1450.6 369.7 1451.5C367.9 1452.4 363.9 1451.7 360.6 1450.6C357.3 1449.5 353 1447 349.7 1445.2C346.4 1443.3 343.4 1441.8 340.6 1439.7C337.9 1437.6 336.1 1434 333.4 1432.5C330.7 1430.9 327.3 1431.2 324.3 1430.6C321.3 1430 317.8 1430.3 315.2 1428.8C312.7 1427.3 309.2 1423.8 308.9 1421.6C308.6 1419.3 311.5 1416.9 313.4 1415.2C315.4 1413.6 318.7 1412.9 320.7 1411.6C322.6 1410.2 324.8 1409.6 325.2 1407C325.7 1404.5 323.9 1399.5 323.4 1396.2C322.9 1392.8 323.9 1389.1 322.5 1387.1C321.1 1385.1 317.7 1385.9 315.2 1384.4C312.8 1382.8 310.7 1380.3 308 1378C305.3 1375.7 301.6 1373 298.9 1370.7C296.2 1368.5 293.8 1365.8 291.6 1364.4C289.5 1363 288.3 1361.8 286.2 1362.6C284.1 1363.3 280.9 1366.8 278.9 1368.9C277 1371.1 275.9 1373.6 274.4 1375.3C272.9 1377 270.3 1377.6 269.9 1378.9C269.4 1380.3 270.2 1381.8 271.7 1383.5C273.2 1385.1 277.4 1387.2 278.9 1388.9C280.4 1390.6 281.4 1392.1 280.7 1393.4C280.1 1394.8 277.7 1396.6 275.3 1397.1C272.9 1397.5 268.6 1396 266.2 1396.2C263.8 1396.3 262.6 1397.2 260.8 1398C259 1398.7 256.2 1400.2 255.3 1400.7"/>
<path d="M288 1450.6C289.2 1450 293.2 1447 295.3 1447C297.4 1447 299.4 1448.5 300.7 1450.6C302.1 1452.7 302.8 1457.6 303.4 1459.7C304 1461.8 304.6 1462.3 304.3 1463.3C304 1464.4 302.1 1465.6 301.6 1466"/>
<path d="M309.8 1474.2C310.4 1473 312.4 1469.4 313.4 1466.9C314.5 1464.5 315.1 1461.8 316.1 1459.7C317.2 1457.6 319.6 1456.7 319.8 1454.2C319.9 1451.8 316.9 1446.8 317 1445.2C317.2 1443.5 318.9 1443.2 320.7 1444.3C322.5 1445.3 325.5 1449.2 327.9 1451.5C330.4 1453.8 333.1 1456.4 335.2 1457.9C337.3 1459.4 338.5 1460.6 340.6 1460.6C342.8 1460.6 345.5 1458 347.9 1457.9C350.3 1457.7 353 1458.3 355.2 1459.7C357.3 1461 357.9 1464.7 360.6 1466C363.3 1467.4 368.2 1466.6 371.5 1467.9C374.8 1469.1 377.9 1471.3 380.6 1473.3C383.3 1475.3 385.4 1477.7 387.8 1479.6C390.3 1481.6 392.4 1483.9 395.1 1485.1C397.8 1486.3 401.1 1486 404.2 1486.9C407.2 1487.8 410.2 1489.3 413.2 1490.5C416.3 1491.7 419.3 1492.1 422.3 1494.2C425.3 1496.3 428.4 1500.2 431.4 1503.2C434.4 1506.3 437.7 1509.9 440.5 1512.3C443.2 1514.7 444.7 1516.6 447.7 1517.8C450.8 1519 455.3 1519 458.6 1519.6C461.9 1520.2 465 1520.2 467.7 1521.4C470.4 1522.6 472.2 1525.8 475 1526.8C477.7 1527.9 481 1528 484 1527.7C487.1 1527.4 490.7 1526.7 493.1 1525C495.5 1523.4 497.9 1520.2 498.5 1517.8C499.2 1515.3 497.9 1512.9 496.7 1510.5C495.5 1508.1 493.4 1505.7 491.3 1503.2C489.2 1500.8 485 1497.4 484 1496C483 1494.5 483.7 1494.2 485.2 1494.5C486.7 1494.7 490.3 1496.1 493 1497.3C495.8 1498.5 499 1500.2 501.6 1501.6C504.3 1503.1 507.1 1504 508.8 1505.9C510.5 1507.8 510.9 1510.9 511.6 1513.1C512.4 1515.2 511.2 1517.5 513.1 1518.8C515 1520.1 520 1520.2 523.1 1520.9C526.2 1521.7 529.5 1521.3 531.7 1523.1C533.8 1524.9 534.3 1529.7 536 1531.7C537.6 1533.7 539.5 1534.3 541.7 1535.3C543.8 1536.2 546.8 1536.9 548.8 1537.4C550.9 1537.9 553.4 1539.3 553.9 1538.1C554.3 1536.9 553 1533 551.7 1530.2C550.4 1527.5 548.1 1523.8 546 1521.7C543.8 1519.5 540.6 1518.4 538.8 1517.4C537 1516.3 535.3 1515.7 535.3 1515.2C535.3 1514.7 537.3 1514.3 538.8 1514.5C540.4 1514.7 542.2 1516.7 544.6 1516.7C546.9 1516.7 550.5 1514.1 553.1 1514.5C555.8 1514.9 558.4 1516.9 560.3 1518.8C562.2 1520.7 563.2 1523.3 564.6 1526C566 1528.6 567.9 1532.2 568.9 1534.5C569.8 1536.9 570.9 1538.8 570.3 1540.3C569.7 1541.7 565.8 1541.5 565.3 1543.1C564.8 1544.8 566.4 1548.1 567.5 1550.3C568.5 1552.4 570.6 1554.3 571.7 1556C572.9 1557.7 574.1 1559.6 574.6 1560.3"/>
<path d="M382.4 1459.7C383.7 1458.3 387.4 1456.4 389.6 1455.1C391.9 1453.9 394.2 1451.7 396 1452.4C397.8 1453.2 398.6 1457 400.5 1459.7C402.5 1462.4 405.1 1466.6 407.8 1468.8C410.5 1470.9 413.8 1471.2 416.9 1472.4C419.9 1473.6 423.2 1475.4 425.9 1476C428.7 1476.6 431.1 1477.2 433.2 1476C435.3 1474.8 436.8 1471.2 438.7 1468.8C440.5 1466.3 442 1463.5 444.1 1461.5C446.2 1459.5 448.9 1458.3 451.4 1457C453.8 1455.6 456.8 1452.9 458.6 1453.3C460.4 1453.8 461 1457.7 462.2 1459.7C463.5 1461.6 463.6 1463.9 465.9 1465.1C468.1 1466.3 474.5 1465.1 475.9 1466.9C477.2 1468.8 475 1472.7 474 1476C473.1 1479.3 471.8 1483.3 470.4 1486.9C469.1 1490.5 467.5 1494.5 465.9 1497.8C464.2 1501.1 462.5 1504.8 460.4 1506.9C458.3 1509 455.9 1510.8 453.2 1510.5C450.4 1510.2 447.4 1506.7 444.1 1505.1C440.8 1503.4 436.2 1502.3 433.2 1500.5C430.2 1498.7 428.7 1496.4 425.9 1494.2C423.2 1491.9 419.9 1489 416.9 1486.9C413.8 1484.8 410.5 1482.8 407.8 1481.5C405.1 1480.1 403.3 1479.3 400.5 1478.7C397.8 1478.1 394 1479.2 391.5 1477.8C388.9 1476.5 386.8 1473 385.1 1470.6C383.4 1468.2 381.9 1465.1 381.5 1463.3C381 1461.5 381 1461 382.4 1459.7Z"/>
<path d="M406 1449.7C406.6 1448.2 410.5 1447.7 413.2 1447.9C416 1448 419.6 1449.5 422.3 1450.6C425 1451.7 428.7 1452.4 429.6 1454.2C430.5 1456.1 429 1460.6 427.8 1461.5C426.6 1462.4 424.1 1460.6 422.3 1459.7C420.5 1458.8 419 1456.5 416.9 1456.1C414.8 1455.6 411.4 1458 409.6 1457C407.8 1455.9 405.4 1451.2 406 1449.7Z"/>
<path d="M500 1444.3C498.2 1444.7 492.3 1445.2 489.5 1447C486.7 1448.8 483.1 1453.2 483.1 1455.1C483.1 1457.1 486.7 1457.9 489.5 1458.8C492.3 1459.7 498.2 1460.3 500 1460.6"/>
<ellipse cx="396" cy="1368.9" rx="2.5" ry="5.4" transform="rotate(-5 396 1368.9)" fill="none"/>
<ellipse cx="425" cy="1389.8" rx="6" ry="4.4" transform="rotate(-10 425 1389.8)" fill="#8c8c8c"/>
<ellipse cx="343.4" cy="1380.2" rx="2.2" ry="1.6" transform="rotate(10 343.4 1380.2)" fill="#000"/>
<ellipse cx="298.4" cy="1406.1" rx="1.6" ry="2" transform="rotate(0 298.4 1406.1)" fill="#000"/>
<ellipse cx="293.8" cy="1430.6" rx="4" ry="5.8" transform="rotate(30 293.8 1430.6)" fill="none"/>
<ellipse cx="384.2" cy="1433.4" rx="1.5" ry="1.8" transform="rotate(0 384.2 1433.4)" fill="#000"/>
<ellipse cx="404.2" cy="1435.7" rx="8.2" ry="4.5" transform="rotate(-8 404.2 1435.7)" fill="#a0a0a0"/>
<ellipse cx="445" cy="1425.2" rx="7.6" ry="2.4" transform="rotate(45 445 1425.2)" fill="none"/>
<ellipse cx="460.1" cy="1447.3" rx="3.4" ry="1.6" transform="rotate(50 460.1 1447.3)" fill="none"/>
<ellipse cx="449.5" cy="1488.7" rx="3.3" ry="6.9" transform="rotate(-25 449.5 1488.7)" fill="none"/>
<path d="M483.1 1454.9C483.1 1453 485.3 1449.1 488.7 1447.4C492.1 1445.6 498.7 1445.3 503.7 1444.6C508.7 1443.8 514.3 1442.5 518.7 1442.7C523 1442.8 526.4 1443.8 529.9 1445.5C533.3 1447.2 536.7 1450.2 539.2 1453C541.7 1455.8 543 1459.5 544.9 1462.3C546.7 1465.1 548.9 1467.6 550.5 1469.8C552 1472 554.2 1472.5 554.2 1475.4C554.2 1478.4 552.3 1486 550.5 1487.6C548.6 1489.2 545.8 1486.5 543 1484.8C540.2 1483.1 536.7 1479.5 533.6 1477.3C530.5 1475.1 527.7 1473.6 524.3 1471.7C520.8 1469.8 516.8 1467.8 513 1466.1C509.3 1464.4 505.9 1462.6 501.8 1461.4C497.8 1460.2 491.8 1459.7 488.7 1458.6C485.6 1457.5 483.1 1456.7 483.1 1454.9Z"/>
<ellipse cx="517.7" cy="1454.9" rx="8.5" ry="5" transform="rotate(0 517.7 1454.9)" fill="#8a8a8a"/>
<path d="M502.7 1475.4C503.7 1474.3 506.6 1472.6 509.3 1472.6C511.9 1472.6 515.5 1474 518.7 1475.4C521.8 1476.8 525.2 1478.6 528 1481C530.8 1483.5 533.6 1487.8 535.5 1490.4C537.4 1493.1 539.9 1495.7 539.2 1497C538.6 1498.2 534.2 1498.4 531.8 1497.9C529.3 1497.4 526.8 1496 524.3 1494.1C521.8 1492.3 519.3 1488.4 516.8 1486.7C514.3 1484.9 511.5 1485.1 509.3 1483.9C507.1 1482.6 504.8 1480.6 503.7 1479.2C502.6 1477.8 501.8 1476.5 502.7 1475.4Z"/>
<path d="M493.4 1488.5C493.4 1487.1 495.7 1485.4 498.1 1485.7C500.4 1486 504.6 1488.7 507.4 1490.4C510.2 1492.1 512.7 1494 514.9 1496C517.1 1498 519.3 1500.9 520.5 1502.6C521.8 1504.3 523 1505.8 522.4 1506.3C521.8 1506.8 519.3 1506.5 516.8 1505.4C514.3 1504.3 510.5 1501.6 507.4 1499.8C504.3 1497.9 500.4 1496 498.1 1494.1C495.7 1492.3 493.4 1489.9 493.4 1488.5Z"/>
<path d="M588.8 1559.6C588.7 1558.4 588.4 1555 587.9 1552.2C587.4 1549.3 586.2 1545.6 586 1542.8C585.9 1540 586 1537.2 587 1535.3C587.9 1533.4 590.7 1532.7 591.6 1531.6C592.6 1530.5 593.5 1528.8 592.6 1528.8C591.6 1528.8 588 1531.4 586 1531.6C584 1531.7 582.3 1531.3 580.4 1529.7C578.5 1528.1 576.3 1524.7 574.8 1522.2C573.2 1519.7 571.2 1516.9 571 1514.7C570.9 1512.5 572.3 1510.1 573.9 1509.1C575.4 1508.2 578.4 1508.2 580.4 1509.1C582.4 1510.1 583.8 1512.5 586 1514.7C588.2 1516.9 591 1520.7 593.5 1522.2C596 1523.8 598.5 1522.5 601 1524.1C603.5 1525.6 606 1529.5 608.5 1531.6C611 1533.6 613.2 1535.8 616 1536.2C618.8 1536.7 622.8 1534.5 625.3 1534.4C627.8 1534.2 629.8 1536.4 630.9 1535.3C632 1534.2 630.9 1530.3 631.9 1527.8C632.8 1525.3 634.8 1522.8 636.5 1520.3C638.3 1517.8 640.3 1514.6 642.2 1512.9C644 1511.1 645.6 1510.4 647.8 1510.1C650 1509.7 652.8 1509.7 655.3 1511C657.7 1512.2 660.2 1515.2 662.7 1517.5C665.2 1519.9 669 1523.8 670.2 1525"/>
<path d="M607.5 1200C608.3 1199.4 609.7 1197.1 611.9 1196.5C614.1 1195.9 616.9 1195.6 620.7 1196.5C624.5 1197.4 629.5 1200.1 634.7 1201.8C640 1203.4 646.4 1205 652.3 1206.1C658.1 1207.3 664 1208.3 669.8 1208.8C675.7 1209.2 682.7 1207.9 687.4 1208.8C692 1209.6 695.1 1211.5 697.9 1214C700.7 1216.5 702.7 1220 704 1223.7C705.4 1227.3 704.2 1232.9 705.8 1236C707.4 1239 709.7 1239.5 713.7 1242.1C717.6 1244.7 724.5 1248.4 729.5 1251.8C734.4 1255.1 739.7 1258.8 743.5 1262.3C747.3 1265.8 750.5 1269.3 752.3 1272.8C754 1276.3 752.6 1280.4 754 1283.3C755.5 1286.3 758.7 1287.4 761.1 1290.4C763.4 1293.3 765.7 1298 768.1 1300.9C770.4 1303.8 772.2 1306.6 775.1 1307.9C778 1309.2 783.9 1308.6 785.6 1308.8"/>
<path d="M607.5 1200.9C608 1201.5 608.9 1203.1 610.2 1204.4C611.5 1205.7 614 1207.2 615.4 1208.8C616.9 1210.4 616.9 1213.2 618.9 1214C621 1214.9 624.5 1213.2 627.7 1214C630.9 1214.9 635 1217.4 638.2 1219.3C641.5 1221.2 645.4 1223.5 647 1225.4C648.6 1227.3 648.8 1228.9 647.9 1230.7C647 1232.5 644.5 1234.8 641.8 1236C639 1237.1 634.2 1236.5 631.2 1237.7C628.3 1238.9 625.7 1241.4 624.2 1243C622.7 1244.6 621.9 1245.9 622.5 1247.4C623 1248.8 626.3 1249.3 627.7 1251.8C629.2 1254.2 629.9 1259.1 631.2 1262.3C632.5 1265.5 635.6 1268.7 635.6 1271.1C635.6 1273.4 632.5 1274.9 631.2 1276.3C629.9 1277.8 627.7 1278.7 627.7 1279.8C627.7 1281 629.6 1283.3 631.2 1283.3C632.8 1283.3 635.9 1281.6 637.4 1279.8C638.8 1278.1 638.7 1274 640 1272.8C641.3 1271.6 643.2 1272.2 645.3 1272.8C647.3 1273.4 649.6 1274.6 652.3 1276.3C654.9 1278.1 659.3 1281 661.1 1283.3C662.8 1285.7 661.3 1288 662.8 1290.4C664.3 1292.7 667.2 1295 669.8 1297.4C672.5 1299.7 675.7 1303.2 678.6 1304.4C681.5 1305.6 684.7 1303.8 687.4 1304.4C690 1305 692.3 1306.1 694.4 1307.9C696.4 1309.6 698.5 1312 699.6 1314.9C700.8 1317.8 701.7 1322.5 701.4 1325.4C701.1 1328.4 699.2 1330.4 697.9 1332.5C696.6 1334.5 693.8 1336.4 693.5 1337.7C693.2 1339 694.5 1340.4 696.1 1340.4C697.7 1340.4 699.9 1338.3 703.2 1337.7C706.4 1337.1 711.6 1336.5 715.4 1336.8C719.2 1337.1 723 1338.5 726 1339.5C728.9 1340.5 730.9 1340.9 733 1343C735 1345 735.9 1349.1 738.2 1351.8C740.6 1354.4 744.4 1356.1 747 1358.8C749.6 1361.4 752 1364.3 754 1367.5C756.1 1370.8 758 1374.3 759.3 1378.1C760.6 1381.9 760.8 1387.1 761.9 1390.4C763.1 1393.6 763.8 1395.9 766.3 1397.4C768.8 1398.8 773.6 1399.1 776.8 1399.1C780.1 1399.1 784.2 1397.7 785.6 1397.4"/>
<path d="M647 1237.7C647.6 1236.3 649.9 1233.6 652.3 1232.5C654.6 1231.3 658.4 1230.1 661.1 1230.7C663.7 1231.3 666.3 1233.6 668.1 1236C669.8 1238.3 670.7 1242.1 671.6 1244.7C672.5 1247.4 673.6 1249.9 673.3 1251.8C673 1253.7 671.6 1255.3 669.8 1256.1C668.1 1257 664.9 1257.5 662.8 1257C660.8 1256.6 659 1255.4 657.5 1253.5C656.1 1251.6 655.5 1247.7 654 1245.6C652.6 1243.6 649.9 1242.5 648.8 1241.2C647.6 1239.9 646.4 1239.2 647 1237.7Z"/>
<path d="M785.6 1332.5C784.7 1331.3 782.4 1327.8 780.4 1325.4C778.3 1323.1 776.8 1320.5 773.3 1318.4C769.8 1316.4 761.9 1315.8 759.3 1313.2C756.7 1310.5 759 1306.1 757.5 1302.6C756.1 1299.1 753.2 1295.3 750.5 1292.1C747.9 1288.9 743.5 1286.3 741.8 1283.3C740 1280.4 741.5 1277.2 740 1274.6C738.5 1271.9 735.9 1270.2 733 1267.5C730.1 1264.9 725.7 1261.1 722.5 1258.8C719.2 1256.4 716.9 1254.8 713.7 1253.5C710.5 1252.2 706.1 1252 703.2 1250.9C700.2 1249.7 697.6 1248.7 696.1 1246.5C694.7 1244.3 694.5 1240.9 694.4 1237.7C694.2 1234.5 695.6 1230.1 695.3 1227.2C695 1224.3 693.9 1221.8 692.6 1220.2C691.3 1218.6 689.4 1217.7 687.4 1217.5C685.3 1217.4 682.3 1218.3 680.4 1219.3C678.5 1220.3 676.5 1221.5 676 1223.7C675.4 1225.9 675.8 1229.2 676.8 1232.5C677.9 1235.7 680.8 1239.2 682.1 1243C683.4 1246.8 684.2 1251.5 684.7 1255.3C685.3 1259.1 684.9 1262.6 685.6 1265.8C686.3 1269 689.6 1271.9 689.1 1274.6C688.7 1277.2 683.6 1279.5 683 1281.6C682.4 1283.6 683.7 1285.1 685.6 1286.8C687.5 1288.6 691.2 1290.1 694.4 1292.1C697.6 1294.2 701.4 1297.4 704.9 1299.1C708.4 1300.9 712.2 1301.2 715.4 1302.6C718.7 1304.1 722.5 1305.6 724.2 1307.9C726 1310.2 724.5 1313.7 726 1316.7C727.4 1319.6 730.4 1321.9 733 1325.4C735.6 1328.9 738.8 1333.9 741.8 1337.7C744.7 1341.5 746.7 1344.7 750.5 1348.2C754.3 1351.8 760.5 1355.8 764.6 1358.8C768.7 1361.7 771.6 1363.3 775.1 1365.8C778.6 1368.3 783.9 1372.4 785.6 1373.7"/>
<ellipse cx="760.2" cy="1375.4" rx="2.5" ry="4" transform="rotate(-20 760.2 1375.4)" fill="none"/>
<path d="M473.1 1194.5C477.4 1194.3 485.3 1189.9 493.1 1187.9C500.9 1185.9 510.9 1183.9 519.7 1182.6C528.6 1181.2 541.5 1180.3 546.4 1179.9C551.2 1179.5 546.3 1179.9 548.8 1180.2C551.2 1180.5 556.1 1180.3 561.1 1181.6C566 1182.8 572.5 1185.8 578.6 1187.7C584.7 1189.6 593.4 1191.1 597.9 1193C602.4 1194.9 604.9 1197.2 605.8 1199.1C606.7 1201 605.4 1202.8 603.2 1204.4C601 1206 594.8 1207.3 592.6 1208.8C590.4 1210.2 589.1 1211.3 590 1213.2C590.9 1215.1 595.4 1217.5 597.9 1220.2C600.4 1222.8 603.6 1226.8 604.9 1228.9C606.2 1231.1 606.4 1232.3 605.8 1233.3C605.2 1234.4 603.6 1235.6 601.4 1235.4C599.2 1235.3 595.6 1233.8 592.6 1232.5C589.7 1231.1 586.8 1228.2 583.9 1227.2C580.9 1226.2 578.3 1227.1 575.1 1226.7C571.9 1226.2 567.5 1226.5 564.6 1224.6C561.6 1222.6 560.2 1217.3 557.5 1214.9C554.9 1212.6 551.1 1211.5 548.8 1210.5C546.5 1209.6 545.9 1209.5 543.7 1209.2C541.5 1208.9 537.7 1207.9 535.7 1208.5C533.7 1209.2 533 1212.6 531.7 1213.2C530.4 1213.7 529.1 1211.4 527.7 1211.8C526.4 1212.3 524.6 1213.8 523.7 1215.8C522.8 1217.8 522.5 1221.4 522.4 1223.8C522.3 1226.3 523.5 1228.5 523.1 1230.5C522.6 1232.5 520.5 1233.8 519.7 1235.8C519 1237.8 518.2 1240.5 518.4 1242.5C518.6 1244.5 521.1 1246.6 521.1 1247.8C521.1 1249 519.7 1250.2 518.4 1249.8C517.1 1249.3 515.1 1246.5 513.1 1245.1C511.1 1243.8 508.6 1242.5 506.4 1241.8C504.2 1241.1 502 1241 499.8 1241.1C497.5 1241.2 495.3 1242.6 493.1 1242.5C490.9 1242.4 488.7 1240.8 486.5 1240.5C484.2 1240.1 482 1239.7 479.8 1240.5C477.6 1241.2 474.9 1243.7 473.1 1245.1C471.4 1246.6 470.5 1248 469.2 1249.1C467.8 1250.2 466 1250.4 465.2 1251.8C464.3 1253.1 463.6 1255.1 463.8 1257.1C464 1259.1 465.5 1261.5 466.5 1263.8C467.5 1266 469.2 1268.4 469.8 1270.4C470.5 1272.4 470.8 1274.2 470.5 1275.7C470.1 1277.3 469.2 1278.8 467.8 1279.7C466.5 1280.6 464 1281.5 462.5 1281.1C460.9 1280.6 459.8 1278.8 458.5 1277.1C457.2 1275.3 455.6 1272.6 454.5 1270.4C453.4 1268.2 453.4 1266.6 451.8 1263.8C450.3 1260.9 447.2 1255.1 445.2 1253.1C443.2 1251.1 442.1 1252.3 439.9 1251.8C437.6 1251.2 434.8 1250.3 431.9 1249.8C429 1249.2 425.2 1249.5 422.6 1248.5C419.9 1247.5 418.1 1245.9 415.9 1243.8C413.7 1241.7 411.5 1238 409.3 1235.8C407 1233.6 404.9 1232.3 402.6 1230.5C400.3 1228.7 396.7 1227.2 395.3 1225.2C393.8 1223.2 393.6 1220.9 393.9 1218.5C394.3 1216.1 396.1 1213.2 397.3 1210.5C398.5 1207.9 401 1205.2 401.3 1202.5C401.5 1199.9 398.8 1197.2 398.6 1194.5C398.4 1191.9 398.8 1189.2 399.9 1186.6C401 1183.9 404.1 1181.2 405.3 1178.6C406.4 1175.9 406.7 1173.7 406.6 1170.6C406.5 1167.5 404.6 1162.6 404.6 1159.9C404.6 1157.3 405.1 1155.4 406.6 1154.6C408 1153.8 411.2 1154.4 413.2 1155.3C415.2 1156.2 416.8 1158 418.6 1159.9C420.3 1161.8 421.7 1164.9 423.9 1166.6C426.1 1168.3 429.4 1169.9 431.9 1169.9C434.3 1169.9 436.3 1168.7 438.5 1166.6C440.8 1164.5 442.8 1160.3 445.2 1157.3C447.6 1154.3 450.5 1151.1 453.2 1148.6C455.8 1146.2 460.2 1144.7 461.2 1142.6C462.2 1140.5 459.8 1138.4 459.2 1136C458.5 1133.5 457.2 1129.8 457.2 1128C457.2 1126.2 458.1 1125.3 459.2 1125.3C460.3 1125.3 462.8 1126.4 463.8 1128C464.8 1129.5 465.3 1132.6 465.2 1134.6C465 1136.6 463.2 1138.6 463.2 1140C463.2 1141.3 465 1141.5 465.2 1142.6C465.3 1143.7 463.8 1143.7 463.8 1146.6C463.8 1149.5 464.7 1155.1 465.2 1159.9C465.6 1164.8 466 1171 466.5 1175.9C466.9 1180.8 466.7 1186.1 467.8 1189.2C468.9 1192.3 468.9 1194.8 473.1 1194.5Z"/>
<path d="M485.1 1194.5C488.2 1193 498.4 1191.7 506.4 1190.5C514.4 1189.4 525.3 1188.6 533 1187.9C540.8 1187.2 548.8 1186.4 553 1186.6C557.2 1186.7 557.9 1187.9 558.3 1188.6C558.8 1189.2 558.8 1190.1 555.7 1190.5C552.6 1191 545.7 1190.5 539.7 1191.2C533.7 1191.9 526.4 1193.3 519.7 1194.5C513.1 1195.8 505.1 1197.6 499.8 1198.5C494.4 1199.4 490.2 1200.5 487.8 1199.9C485.3 1199.2 482 1196.1 485.1 1194.5Z"/>
<path d="M498.4 1207.9C499.5 1208.5 503.1 1210.5 505.1 1211.8C507.1 1213.2 508.9 1214.3 510.4 1215.8C512 1217.4 514 1219.2 514.4 1221.2C514.9 1223.2 514.4 1226.3 513.1 1227.8C511.7 1229.4 508.6 1230.3 506.4 1230.5C504.2 1230.7 501.5 1230 499.8 1229.2C498 1228.3 496.9 1226.7 495.8 1225.2C494.7 1223.6 494.7 1220.9 493.1 1219.8C491.6 1218.7 488.7 1217.8 486.5 1218.5C484.2 1219.2 481.6 1221.8 479.8 1223.8C478 1225.8 477.4 1228 475.8 1230.5C474.3 1232.9 472.3 1235.8 470.5 1238.5C468.7 1241.1 466.7 1244 465.2 1246.5C463.6 1248.9 461.6 1250.9 461.2 1253.1C460.7 1255.3 461.8 1257.5 462.5 1259.8C463.2 1262 465.2 1264.4 465.2 1266.4C465.2 1268.4 463.6 1271.1 462.5 1271.7C461.4 1272.4 460.1 1272.2 458.5 1270.4C456.9 1268.6 454.3 1264 453.2 1261.1C452.1 1258.2 452.1 1254.4 451.8 1253.1"/>
<path d="M498.4 1207.9C499.3 1207.6 502 1207.4 503.8 1206.5C505.5 1205.6 506.9 1203.9 509.1 1202.5C511.3 1201.2 513.1 1199.9 517.1 1198.5C521.1 1197.2 528.2 1195.5 533 1194.5C537.9 1193.5 544.1 1192.9 546.4 1192.5"/>
<path d="M413.2 1197.2C414.4 1195.5 415.5 1194 417.2 1193.9C419 1193.8 421.9 1195.1 423.9 1196.5C425.9 1198 428.2 1199.8 429.2 1202.5C430.2 1205.3 429.4 1209.6 429.9 1213.2C430.3 1216.7 432.2 1221.6 431.9 1223.8C431.5 1226 429.7 1226.3 427.9 1226.5C426.1 1226.7 422.6 1226.3 421.2 1225.2C419.9 1224 421.2 1220.5 419.9 1219.8C418.6 1219.2 414.9 1222.3 413.2 1221.2C411.6 1220.1 410.4 1216.1 409.9 1213.2C409.5 1210.3 410 1206.5 410.6 1203.9C411.1 1201.2 412.1 1198.9 413.2 1197.2Z"/>
<path d="M418.6 1247.8C418.3 1246 417 1240.7 417.2 1237.1C417.5 1233.6 417.9 1229.2 419.9 1226.5C421.9 1223.8 426.6 1223.4 429.2 1221.2C431.9 1218.9 434.3 1216.3 435.9 1213.2C437.4 1210.1 437.9 1206.1 438.5 1202.5C439.2 1199 440.3 1195.2 439.9 1191.9C439.4 1188.6 435.4 1184.3 435.9 1182.6C436.3 1180.8 440.5 1180.6 442.5 1181.2C444.5 1181.9 446.1 1186.6 447.9 1186.6C449.6 1186.6 451.8 1183.1 453.2 1181.2C454.5 1179.3 455.1 1175.5 455.8 1175.2C456.6 1175 457.4 1177.6 457.8 1179.9C458.3 1182.2 458.4 1187.7 458.5 1189.2"/>
<path d="M453.2 1199.9C458.3 1200 479.8 1197.9 483.8 1200.5C487.8 1203.2 480.2 1210 477.1 1215.8C474 1221.7 469.4 1229.8 465.2 1235.8C460.9 1241.8 455.2 1249.8 451.8 1251.8C448.5 1253.8 445 1250.7 445.2 1247.8C445.4 1244.9 450.1 1239.8 453.2 1234.5C456.3 1229.2 461.6 1220.5 463.8 1215.8C466 1211.2 467.4 1208.3 466.5 1206.5C465.6 1204.7 461.2 1204.5 458.5 1205.2C455.8 1205.9 452.5 1208.3 450.5 1210.5C448.5 1212.7 447.2 1217.2 446.5 1218.5"/>
<ellipse cx="420.6" cy="1184.6" rx="2" ry="2.8" transform="rotate(20 420.6 1184.6)" fill="none"/>
<ellipse cx="529.3" cy="1203.2" rx="2.8" ry="2.2" transform="rotate(20 529.3 1203.2)" fill="none"/>
<path d="M487.8 1261.8C488.1 1262.5 490.2 1265.3 491.8 1266.4C493.3 1267.5 495.7 1268.3 497.1 1268.4C498.5 1268.5 500.2 1267.5 500.4 1267.1C500.7 1266.6 499.7 1266.1 498.4 1265.8C497.2 1265.4 494.6 1265.8 493.1 1265.1C491.7 1264.4 490.7 1262.3 489.8 1261.8C488.9 1261.2 487.5 1261 487.8 1261.8Z"/>
<path d="M468.7 1054.7C469.4 1052.5 471.8 1049.4 474 1049.4C476.2 1049.4 480.4 1053 481.9 1054.7C483.4 1056.5 484.1 1058.5 483.2 1060C482.3 1061.6 478.8 1063.5 476.6 1064C474.4 1064.4 471.3 1064.2 470 1062.7C468.7 1061.1 468 1056.9 468.7 1054.7Z"/>
<path d="M496.4 1089.1C496.4 1087.3 498.6 1086 501.7 1086.4C504.8 1086.9 511 1089.5 514.9 1091.7C518.9 1093.9 523.1 1096.1 525.5 1099.6C527.9 1103.2 529.2 1108.4 529.5 1112.8C529.7 1117.2 528.1 1123.3 526.8 1126.1C525.5 1128.8 523.9 1129.7 521.5 1129.2C519.1 1128.8 515.6 1125.5 512.3 1123.4C509 1121.3 504.1 1119.2 501.7 1116.8C499.3 1114.4 497.7 1112.2 497.7 1108.9C497.7 1105.6 501.9 1100.3 501.7 1097C501.5 1093.7 496.4 1090.8 496.4 1089.1Z"/>
<path d="M258.7 1117.6C259.2 1118.9 261.2 1122.1 261.6 1125.5C261.9 1128.9 261.2 1135.1 260.8 1138.1C260.4 1141.1 260.1 1142.1 259.2 1143.6C258.3 1145 255.8 1144.5 255.3 1146.7C254.8 1149 255.5 1153.7 256.1 1157C256.6 1160.2 258.2 1162.7 258.4 1166.4C258.7 1170.1 258.4 1175.3 257.6 1179C256.8 1182.6 255 1185.5 253.7 1188.4C252.4 1191.3 250.9 1194.1 249.8 1196.3C248.6 1198.5 248.5 1200.3 246.6 1201.8C244.8 1203.2 242.3 1204.1 238.8 1204.9C235.2 1205.7 227.6 1206.2 225.4 1206.5"/>
<path d="M241.9 1153.8C242.2 1154.6 243.6 1157 243.5 1158.5C243.3 1160.1 242 1161.8 241.1 1163.2C240.2 1164.7 238.6 1165.6 238 1167.2C237.3 1168.8 237.7 1171.1 237.2 1172.7C236.7 1174.3 235.7 1175.6 234.8 1176.6C234 1177.6 232.6 1178.3 232.2 1178.7"/>
</g></g>
<g clip-path="url(#clipC)">
<line x1="117.3" y1="1038.4" x2="775.8" y2="1418.9" stroke="#0000ff" stroke-width="4.5" stroke-dasharray="16.5 7.19"/>
<path d="M249 1230.8Q563.2 1325.6 412.5 1030.5" fill="none" stroke="#00ffff" stroke-width="4.4"/>
<path d="M643.2 1169Q270.6 1173 590.6 1425.3" fill="none" stroke="#ff0000" stroke-width="4.4"/>
</g>
<path d="M440.9 1216.3L446.8 1222.2L452.7 1216.3L458.6 1222.2L452.7 1228.1L458.6 1234L452.7 1239.9L446.8 1234L440.9 1239.9L435 1234L440.9 1228.1L435 1222.2Z" fill="#ff00ff" stroke="#fff" stroke-width="3.3"/>
<ellipse cx="184.3" cy="1494.8" rx="5.2" ry="4.6" fill="#ff0000"/>
<line x1="702.3" y1="1393.5" x2="702.3" y2="1479" stroke="#000" stroke-width="4.4" />
<text x="758" y="1469.5" font-size="44.3" text-anchor="start" font-family="'DejaVu Sans', 'Liberation Sans', sans-serif" transform="rotate(-90 758 1469.5)" >2000 AU</text>
<text x="183.5" y="960.5" font-size="44.9" text-anchor="start" font-family="'DejaVu Sans', 'Liberation Sans', sans-serif" font-weight="bold">(c) CO</text>
<line x1="150.7" y1="1561.4" x2="150.7" y2="1554.9" stroke="#000" stroke-width="2.1" />
<line x1="150.7" y1="893.6" x2="150.7" y2="900.1" stroke="#000" stroke-width="2.1" />
<line x1="117.3" y1="1528" x2="123.8" y2="1528" stroke="#000" stroke-width="2.1" />
<line x1="785.3" y1="1528" x2="778.8" y2="1528" stroke="#000" stroke-width="2.1" />
<line x1="184.1" y1="1561.4" x2="184.1" y2="1554.9" stroke="#000" stroke-width="2.1" />
<line x1="184.1" y1="893.6" x2="184.1" y2="900.1" stroke="#000" stroke-width="2.1" />
<line x1="117.3" y1="1494.6" x2="123.8" y2="1494.6" stroke="#000" stroke-width="2.1" />
<line x1="785.3" y1="1494.6" x2="778.8" y2="1494.6" stroke="#000" stroke-width="2.1" />
<line x1="217.5" y1="1561.4" x2="217.5" y2="1554.9" stroke="#000" stroke-width="2.1" />
<line x1="217.5" y1="893.6" x2="217.5" y2="900.1" stroke="#000" stroke-width="2.1" />
<line x1="117.3" y1="1461.2" x2="123.8" y2="1461.2" stroke="#000" stroke-width="2.1" />
<line x1="785.3" y1="1461.2" x2="778.8" y2="1461.2" stroke="#000" stroke-width="2.1" />
<line x1="250.9" y1="1561.4" x2="250.9" y2="1554.9" stroke="#000" stroke-width="2.1" />
<line x1="250.9" y1="893.6" x2="250.9" y2="900.1" stroke="#000" stroke-width="2.1" />
<line x1="117.3" y1="1427.8" x2="123.8" y2="1427.8" stroke="#000" stroke-width="2.1" />
<line x1="785.3" y1="1427.8" x2="778.8" y2="1427.8" stroke="#000" stroke-width="2.1" />
<line x1="284.3" y1="1561.4" x2="284.3" y2="1543.4" stroke="#000" stroke-width="2.1" />
<line x1="284.3" y1="893.6" x2="284.3" y2="911.6" stroke="#000" stroke-width="2.1" />
<line x1="117.3" y1="1394.5" x2="135.3" y2="1394.5" stroke="#000" stroke-width="2.1" />
<line x1="785.3" y1="1394.5" x2="767.3" y2="1394.5" stroke="#000" stroke-width="2.1" />
<line x1="317.7" y1="1561.4" x2="317.7" y2="1554.9" stroke="#000" stroke-width="2.1" />
<line x1="317.7" y1="893.6" x2="317.7" y2="900.1" stroke="#000" stroke-width="2.1" />
<line x1="117.3" y1="1361.1" x2="123.8" y2="1361.1" stroke="#000" stroke-width="2.1" />
<line x1="785.3" y1="1361.1" x2="778.8" y2="1361.1" stroke="#000" stroke-width="2.1" />
<line x1="351.1" y1="1561.4" x2="351.1" y2="1554.9" stroke="#000" stroke-width="2.1" />
<line x1="351.1" y1="893.6" x2="351.1" y2="900.1" stroke="#000" stroke-width="2.1" />
<line x1="117.3" y1="1327.7" x2="123.8" y2="1327.7" stroke="#000" stroke-width="2.1" />
<line x1="785.3" y1="1327.7" x2="778.8" y2="1327.7" stroke="#000" stroke-width="2.1" />
<line x1="384.5" y1="1561.4" x2="384.5" y2="1554.9" stroke="#000" stroke-width="2.1" />
<line x1="384.5" y1="893.6" x2="384.5" y2="900.1" stroke="#000" stroke-width="2.1" />
<line x1="117.3" y1="1294.3" x2="123.8" y2="1294.3" stroke="#000" stroke-width="2.1" />
<line x1="785.3" y1="1294.3" x2="778.8" y2="1294.3" stroke="#000" stroke-width="2.1" />
<line x1="417.9" y1="1561.4" x2="417.9" y2="1554.9" stroke="#000" stroke-width="2.1" />
<line x1="417.9" y1="893.6" x2="417.9" y2="900.1" stroke="#000" stroke-width="2.1" />
<line x1="117.3" y1="1260.9" x2="123.8" y2="1260.9" stroke="#000" stroke-width="2.1" />
<line x1="785.3" y1="1260.9" x2="778.8" y2="1260.9" stroke="#000" stroke-width="2.1" />
<line x1="451.3" y1="1561.4" x2="451.3" y2="1543.4" stroke="#000" stroke-width="2.1" />
<line x1="451.3" y1="893.6" x2="451.3" y2="911.6" stroke="#000" stroke-width="2.1" />
<line x1="117.3" y1="1227.5" x2="135.3" y2="1227.5" stroke="#000" stroke-width="2.1" />
<line x1="785.3" y1="1227.5" x2="767.3" y2="1227.5" stroke="#000" stroke-width="2.1" />
<line x1="484.7" y1="1561.4" x2="484.7" y2="1554.9" stroke="#000" stroke-width="2.1" />
<line x1="484.7" y1="893.6" x2="484.7" y2="900.1" stroke="#000" stroke-width="2.1" />
<line x1="117.3" y1="1194.1" x2="123.8" y2="1194.1" stroke="#000" stroke-width="2.1" />
<line x1="785.3" y1="1194.1" x2="778.8" y2="1194.1" stroke="#000" stroke-width="2.1" />
<line x1="518.1" y1="1561.4" x2="518.1" y2="1554.9" stroke="#000" stroke-width="2.1" />
<line x1="518.1" y1="893.6" x2="518.1" y2="900.1" stroke="#000" stroke-width="2.1" />
<line x1="117.3" y1="1160.7" x2="123.8" y2="1160.7" stroke="#000" stroke-width="2.1" />
<line x1="785.3" y1="1160.7" x2="778.8" y2="1160.7" stroke="#000" stroke-width="2.1" />
<line x1="551.5" y1="1561.4" x2="551.5" y2="1554.9" stroke="#000" stroke-width="2.1" />
<line x1="551.5" y1="893.6" x2="551.5" y2="900.1" stroke="#000" stroke-width="2.1" />
<line x1="117.3" y1="1127.3" x2="123.8" y2="1127.3" stroke="#000" stroke-width="2.1" />
<line x1="785.3" y1="1127.3" x2="778.8" y2="1127.3" stroke="#000" stroke-width="2.1" />
<line x1="584.9" y1="1561.4" x2="584.9" y2="1554.9" stroke="#000" stroke-width="2.1" />
<line x1="584.9" y1="893.6" x2="584.9" y2="900.1" stroke="#000" stroke-width="2.1" />
<line x1="117.3" y1="1093.9" x2="123.8" y2="1093.9" stroke="#000" stroke-width="2.1" />
<line x1="785.3" y1="1093.9" x2="778.8" y2="1093.9" stroke="#000" stroke-width="2.1" />
<line x1="618.3" y1="1561.4" x2="618.3" y2="1543.4" stroke="#000" stroke-width="2.1" />
<line x1="618.3" y1="893.6" x2="618.3" y2="911.6" stroke="#000" stroke-width="2.1" />
<line x1="117.3" y1="1060.6" x2="135.3" y2="1060.6" stroke="#000" stroke-width="2.1" />
<line x1="785.3" y1="1060.6" x2="767.3" y2="1060.6" stroke="#000" stroke-width="2.1" />
<line x1="651.7" y1="1561.4" x2="651.7" y2="1554.9" stroke="#000" stroke-width="2.1" />
<line x1="651.7" y1="893.6" x2="651.7" y2="900.1" stroke="#000" stroke-width="2.1" />
<line x1="117.3" y1="1027.2" x2="123.8" y2="1027.2" stroke="#000" stroke-width="2.1" />
<line x1="785.3" y1="1027.2" x2="778.8" y2="1027.2" stroke="#000" stroke-width="2.1" />
<line x1="685.1" y1="1561.4" x2="685.1" y2="1554.9" stroke="#000" stroke-width="2.1" />
<line x1="685.1" y1="893.6" x2="685.1" y2="900.1" stroke="#000" stroke-width="2.1" />
<line x1="117.3" y1="993.8" x2="123.8" y2="993.8" stroke="#000" stroke-width="2.1" />
<line x1="785.3" y1="993.8" x2="778.8" y2="993.8" stroke="#000" stroke-width="2.1" />
<line x1="718.5" y1="1561.4" x2="718.5" y2="1554.9" stroke="#000" stroke-width="2.1" />
<line x1="718.5" y1="893.6" x2="718.5" y2="900.1" stroke="#000" stroke-width="2.1" />
<line x1="117.3" y1="960.4" x2="123.8" y2="960.4" stroke="#000" stroke-width="2.1" />
<line x1="785.3" y1="960.4" x2="778.8" y2="960.4" stroke="#000" stroke-width="2.1" />
<line x1="751.9" y1="1561.4" x2="751.9" y2="1554.9" stroke="#000" stroke-width="2.1" />
<line x1="751.9" y1="893.6" x2="751.9" y2="900.1" stroke="#000" stroke-width="2.1" />
<line x1="117.3" y1="927" x2="123.8" y2="927" stroke="#000" stroke-width="2.1" />
<line x1="785.3" y1="927" x2="778.8" y2="927" stroke="#000" stroke-width="2.1" />
<rect x="117.3" y="893.6" width="668" height="667.8" fill="none" stroke="#000" stroke-width="3"/>
<text x="117.3" y="1595.7" font-size="30" text-anchor="middle" font-family="'DejaVu Sans', 'Liberation Sans', sans-serif" >-20</text>
<text x="284.3" y="1595.7" font-size="30" text-anchor="middle" font-family="'DejaVu Sans', 'Liberation Sans', sans-serif" >-10</text>
<text x="451.3" y="1595.7" font-size="30" text-anchor="middle" font-family="'DejaVu Sans', 'Liberation Sans', sans-serif" >0</text>
<text x="618.3" y="1595.7" font-size="30" text-anchor="middle" font-family="'DejaVu Sans', 'Liberation Sans', sans-serif" >10</text>
<text x="106.8" y="1570.3" font-size="30" text-anchor="end" font-family="'DejaVu Sans', 'Liberation Sans', sans-serif" >-20</text>
<text x="106.8" y="1403.4" font-size="30" text-anchor="end" font-family="'DejaVu Sans', 'Liberation Sans', sans-serif" >-10</text>
<text x="106.8" y="1236.4" font-size="30" text-anchor="end" font-family="'DejaVu Sans', 'Liberation Sans', sans-serif" >0</text>
<text x="106.8" y="1069.5" font-size="30" text-anchor="end" font-family="'DejaVu Sans', 'Liberation Sans', sans-serif" >10</text>
<text x="106.8" y="902.5" font-size="30" text-anchor="end" font-family="'DejaVu Sans', 'Liberation Sans', sans-serif" >20</text>
<defs><linearGradient id="cbc" x1="0" y1="1" x2="0" y2="0"><stop offset="0.0" stop-color="#ffffff"/><stop offset="0.125" stop-color="#f0f0f0"/><stop offset="0.25" stop-color="#d9d9d9"/><stop offset="0.375" stop-color="#bdbdbd"/><stop offset="0.5" stop-color="#969696"/><stop offset="0.625" stop-color="#737373"/><stop offset="0.75" stop-color="#525252"/><stop offset="0.875" stop-color="#252525"/><stop offset="1.0" stop-color="#000000"/></linearGradient></defs>
<rect x="786.2" y="893.6" width="16.6" height="667.8" fill="url(#cbc)" stroke="#000" stroke-width="2.6"/>
<line x1="804" y1="907" x2="813.5" y2="907" stroke="#000" stroke-width="2.1" />
<text x="824.5" y="918" font-size="29.8" text-anchor="start" font-family="'DejaVu Sans', 'Liberation Sans', sans-serif" >200</text>
<line x1="804" y1="949.7" x2="813.5" y2="949.7" stroke="#000" stroke-width="2.1" />
<text x="824.5" y="960.7" font-size="29.8" text-anchor="start" font-family="'DejaVu Sans', 'Liberation Sans', sans-serif" >175</text>
<line x1="804" y1="994.1" x2="813.5" y2="994.1" stroke="#000" stroke-width="2.1" />
<text x="824.5" y="1005.1" font-size="29.8" text-anchor="start" font-family="'DejaVu Sans', 'Liberation Sans', sans-serif" >150</text>
<line x1="804" y1="1043.4" x2="813.5" y2="1043.4" stroke="#000" stroke-width="2.1" />
<text x="824.5" y="1054.4" font-size="29.8" text-anchor="start" font-family="'DejaVu Sans', 'Liberation Sans', sans-serif" >125</text>
<line x1="804" y1="1097.8" x2="813.5" y2="1097.8" stroke="#000" stroke-width="2.1" />
<text x="824.5" y="1108.8" font-size="29.8" text-anchor="start" font-family="'DejaVu Sans', 'Liberation Sans', sans-serif" >100</text>
<line x1="804" y1="1159.7" x2="813.5" y2="1159.7" stroke="#000" stroke-width="2.1" />
<text x="824.5" y="1170.7" font-size="29.8" text-anchor="start" font-family="'DejaVu Sans', 'Liberation Sans', sans-serif" >75</text>
<line x1="804" y1="1232.4" x2="813.5" y2="1232.4" stroke="#000" stroke-width="2.1" />
<text x="824.5" y="1243.4" font-size="29.8" text-anchor="start" font-family="'DejaVu Sans', 'Liberation Sans', sans-serif" >50</text>
<line x1="804" y1="1329.5" x2="813.5" y2="1329.5" stroke="#000" stroke-width="2.1" />
<text x="824.5" y="1340.5" font-size="29.8" text-anchor="start" font-family="'DejaVu Sans', 'Liberation Sans', sans-serif" >25</text>
<line x1="804" y1="1560.4" x2="813.5" y2="1560.4" stroke="#000" stroke-width="2.1" />
<text x="824.5" y="1571.4" font-size="29.8" text-anchor="start" font-family="'DejaVu Sans', 'Liberation Sans', sans-serif" >0</text>
<text x="922" y="1229" font-size="29.2" text-anchor="middle" font-family="'DejaVu Sans', 'Liberation Sans', sans-serif" transform="rotate(-90 922 1229)" >(K km s<tspan dy="-10.5" font-size="20.4">−1</tspan><tspan dy="10.5">)</tspan></text>
<text x="449.5" y="1639.5" font-size="29.2" text-anchor="middle" font-family="'DejaVu Sans', 'Liberation Sans', sans-serif" >Δ<tspan font-style="italic">α</tspan> (")</text>
<text x="37" y="1230" font-size="29.2" text-anchor="middle" font-family="'DejaVu Sans', 'Liberation Sans', sans-serif" transform="rotate(-90 37 1230)" >Δ<tspan font-style="italic">δ</tspan> (")</text></g>
</svg></body></html>
